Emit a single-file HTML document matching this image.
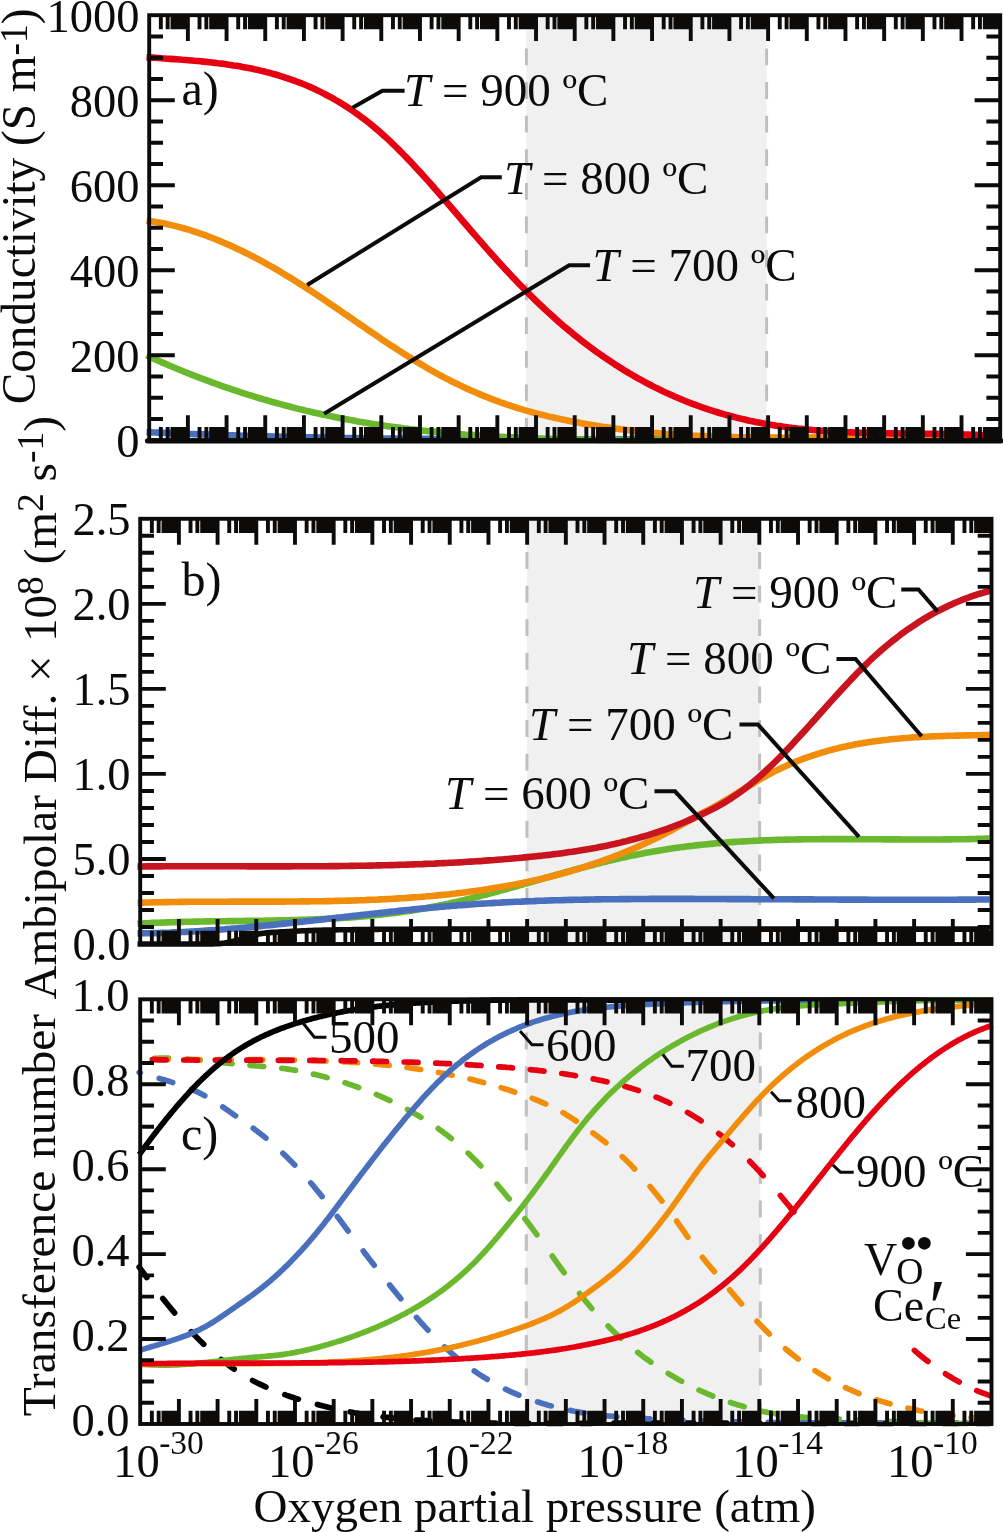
<!DOCTYPE html><html><head><meta charset="utf-8"><title>Figure</title><style>html,body{margin:0;padding:0;background:#fff}svg{display:block}text{font-family:"Liberation Serif", serif;fill:#0d0b09}</style></head><body>
<svg width="1003" height="1532" viewBox="0 0 1003 1532">
<rect width="1003" height="1532" fill="#fff"/>
<rect x="526.4" y="15.2" width="240.20000000000005" height="425.0" fill="#f0f0f0"/>
<line x1="526.4" y1="48.5" x2="526.4" y2="440.2" stroke="#bfbfbf" stroke-width="3" stroke-dasharray="16.8 16.8"/>
<line x1="766.6" y1="48.5" x2="766.6" y2="440.2" stroke="#bfbfbf" stroke-width="3" stroke-dasharray="16.8 16.8"/>
<path d="M146.5,432.1 L149.5,432.2 L152.5,432.4 L155.5,432.5 L158.5,432.6 L161.5,432.8 L164.5,432.9 L167.5,433.0 L170.5,433.1 L173.5,433.3 L176.5,433.4 L179.5,433.5 L182.5,433.6 L185.5,433.7 L188.5,433.8 L191.5,434.0 L194.5,434.1 L197.5,434.2 L200.5,434.3 L203.5,434.4 L206.5,434.5 L209.5,434.6 L212.5,434.7 L215.5,434.8 L218.5,434.9 L221.5,435.0 L224.5,435.1 L227.5,435.2 L230.5,435.3 L233.5,435.4 L236.5,435.5 L239.5,435.6 L242.5,435.7 L245.5,435.7 L248.5,435.8 L251.5,435.9 L254.5,436.0 L257.5,436.1 L260.5,436.2 L263.5,436.2 L266.5,436.3 L269.5,436.4 L272.5,436.5 L275.5,436.6 L278.5,436.6 L281.5,436.7 L284.5,436.8 L287.5,436.8 L290.5,436.9 L293.5,437.0 L296.5,437.0 L299.5,437.1 L302.5,437.2 L305.5,437.2 L308.5,437.3 L311.5,437.4 L314.5,437.4 L317.5,437.5 L320.5,437.5 L323.5,437.6 L326.5,437.6 L329.5,437.7 L332.5,437.8 L335.5,437.8 L338.5,437.9 L341.5,437.9 L344.5,438.0 L347.5,438.0 L350.5,438.1 L353.5,438.1 L356.5,438.1 L359.5,438.2 L362.5,438.2 L365.5,438.3 L368.5,438.3 L371.5,438.4 L374.5,438.4 L377.5,438.4 L380.5,438.5 L383.5,438.5 L386.5,438.5 L389.5,438.6 L392.5,438.6 L395.5,438.6 L398.5,438.7 L401.5,438.7 L404.5,438.7 L407.5,438.8 L410.5,438.8 L413.5,438.8 L416.5,438.8 L419.5,438.9 L422.5,438.9 L425.5,438.9 L428.5,438.9 L431.5,439.0 L434.5,439.0 L437.5,439.0 L440.5,439.0 L443.5,439.1 L446.5,439.1 L449.5,439.1 L452.5,439.1 L455.5,439.1 L458.5,439.1 L461.5,439.2 L464.5,439.2 L467.5,439.2 L470.5,439.2 L473.5,439.2 L476.5,439.2 L479.5,439.2 L482.5,439.2 L485.5,439.3 L488.5,439.3 L491.5,439.3 L494.5,439.3 L497.5,439.3 L500.5,439.3 L503.5,439.3 L506.5,439.3 L509.5,439.3 L512.5,439.3 L515.5,439.3 L518.5,439.3 L521.5,439.3 L524.5,439.3 L527.5,439.3 L530.5,439.3 L533.5,439.3 L536.5,439.3 L539.5,439.3 L542.5,439.3 L545.5,439.3 L548.5,439.3 L551.5,439.3 L554.5,439.3 L557.5,439.3 L560.5,439.3 L563.5,439.3 L566.5,439.3 L569.5,439.3 L572.5,439.3 L575.5,439.3 L578.5,439.3 L581.5,439.3 L584.5,439.3 L587.5,439.3 L590.5,439.3 L593.5,439.3 L596.5,439.3 L599.5,439.3 L602.5,439.2 L605.5,439.2 L608.5,439.2 L611.5,439.2 L614.5,439.2 L617.5,439.2 L620.5,439.2 L623.5,439.2 L626.5,439.2 L629.5,439.2 L632.5,439.2 L635.5,439.1 L638.5,439.1 L641.5,439.1 L644.5,439.1 L647.5,439.1 L650.5,439.1 L653.5,439.1 L656.5,439.1 L659.5,439.1 L662.5,439.0 L665.5,439.0 L668.5,439.0 L671.5,439.0 L674.5,439.0 L677.5,439.0 L680.5,439.0 L683.5,439.0 L686.5,438.9 L689.5,438.9 L692.5,438.9 L695.5,438.9 L698.5,438.9 L701.5,438.9 L704.5,438.9 L707.5,438.8 L710.5,438.8 L713.5,438.8 L716.5,438.8 L719.5,438.8 L722.5,438.8 L725.5,438.8 L728.5,438.8 L731.5,438.7 L734.5,438.7 L737.5,438.7 L740.5,438.7 L743.5,438.7 L746.5,438.7 L749.5,438.7 L752.5,438.7 L755.5,438.7 L758.5,438.6 L761.5,438.6 L764.5,438.6 L767.5,438.6 L770.5,438.6 L773.5,438.6 L776.5,438.6 L779.5,438.6 L782.5,438.6 L785.5,438.5 L788.5,438.5 L791.5,438.5 L794.5,438.5 L797.5,438.5 L800.5,438.5 L803.5,438.5 L806.5,438.5 L809.5,438.5 L812.5,438.5 L815.5,438.5 L818.5,438.5 L821.5,438.5 L824.5,438.4 L827.5,438.4 L830.5,438.4 L833.5,438.4 L836.5,438.4 L839.5,438.4 L842.5,438.4 L845.5,438.4 L848.5,438.4 L851.5,438.4 L854.5,438.4 L857.5,438.4 L860.5,438.4 L863.5,438.4 L866.5,438.4 L869.5,438.4 L872.5,438.4 L875.5,438.4 L878.5,438.4 L881.5,438.4 L884.5,438.4 L887.5,438.4 L890.5,438.4 L893.5,438.4 L896.5,438.4 L899.5,438.4 L902.5,438.4 L905.5,438.4 L908.5,438.5 L911.5,438.5 L914.5,438.5 L917.5,438.5 L920.5,438.5 L923.5,438.5 L926.5,438.5 L929.5,438.5 L932.5,438.5 L935.5,438.5 L938.5,438.6 L941.5,438.6 L944.5,438.6 L947.5,438.6 L950.5,438.6 L953.5,438.6 L956.5,438.7 L959.5,438.7 L962.5,438.7 L965.5,438.7 L968.5,438.7 L971.5,438.8 L974.5,438.8 L977.5,438.8 L980.5,438.8 L983.5,438.9 L986.5,438.9 L989.5,438.9 L992.5,438.9 L995.5,439.0 L998.5,439.0" fill="none" stroke="#4a70bd" stroke-width="6.6" stroke-linejoin="round" />
<path d="M146.5,355.3 L149.5,356.7 L152.5,358.1 L155.5,359.4 L158.5,360.8 L161.5,362.1 L164.5,363.4 L167.5,364.7 L170.5,366.0 L173.5,367.2 L176.5,368.5 L179.5,369.7 L182.5,371.0 L185.5,372.2 L188.5,373.4 L191.5,374.6 L194.5,375.8 L197.5,376.9 L200.5,378.1 L203.5,379.2 L206.5,380.3 L209.5,381.4 L212.5,382.6 L215.5,383.6 L218.5,384.7 L221.5,385.8 L224.5,386.8 L227.5,387.9 L230.5,388.9 L233.5,389.9 L236.5,390.9 L239.5,391.9 L242.5,392.9 L245.5,393.8 L248.5,394.8 L251.5,395.7 L254.5,396.7 L257.5,397.6 L260.5,398.5 L263.5,399.4 L266.5,400.2 L269.5,401.1 L272.5,402.0 L275.5,402.8 L278.5,403.6 L281.5,404.4 L284.5,405.3 L287.5,406.0 L290.5,406.8 L293.5,407.6 L296.5,408.4 L299.5,409.1 L302.5,409.8 L305.5,410.6 L308.5,411.3 L311.5,412.0 L314.5,412.7 L317.5,413.3 L320.5,414.0 L323.5,414.7 L326.5,415.3 L329.5,415.9 L332.5,416.6 L335.5,417.2 L338.5,417.8 L341.5,418.4 L344.5,419.0 L347.5,419.5 L350.5,420.1 L353.5,420.6 L356.5,421.2 L359.5,421.7 L362.5,422.2 L365.5,422.7 L368.5,423.2 L371.5,423.7 L374.5,424.2 L377.5,424.6 L380.5,425.1 L383.5,425.5 L386.5,426.0 L389.5,426.4 L392.5,426.8 L395.5,427.2 L398.5,427.6 L401.5,428.0 L404.5,428.4 L407.5,428.8 L410.5,429.2 L413.5,429.5 L416.5,429.9 L419.5,430.2 L422.5,430.6 L425.5,430.9 L428.5,431.2 L431.5,431.5 L434.5,431.8 L437.5,432.1 L440.5,432.4 L443.5,432.7 L446.5,433.0 L449.5,433.2 L452.5,433.5 L455.5,433.7 L458.5,434.0 L461.5,434.2 L464.5,434.5 L467.5,434.7 L470.5,434.9 L473.5,435.1 L476.5,435.3 L479.5,435.5 L482.5,435.7 L485.5,435.9 L488.5,436.1 L491.5,436.3 L494.5,436.5 L497.5,436.6 L500.5,436.8 L503.5,437.0 L506.5,437.1 L509.5,437.3 L512.5,437.4 L515.5,437.5 L518.5,437.7 L521.5,437.8 L524.5,437.9 L527.5,438.1 L530.5,438.2 L533.5,438.3 L536.5,438.4 L539.5,438.5 L542.5,438.6 L545.5,438.7 L548.5,438.8 L551.5,438.9 L554.5,439.0 L557.5,439.1 L560.5,439.2 L563.5,439.2 L566.5,439.3 L569.5,439.4 L572.5,439.4 L575.5,439.5 L578.5,439.6 L581.5,439.6 L584.5,439.7 L587.5,439.7 L590.5,439.8 L593.5,439.8 L596.5,439.8 L599.5,439.9 L602.5,439.9 L605.5,439.9 L608.5,440.0 L611.5,440.0 L614.5,440.0 L617.5,440.0 L620.5,440.0 L623.5,440.1 L626.5,440.1 L629.5,440.1 L632.5,440.1 L635.5,440.1 L638.5,440.1 L641.5,440.1 L644.5,440.1 L647.5,440.1 L650.5,440.1 L653.5,440.1 L656.5,440.0 L659.5,440.0 L662.5,440.0 L665.5,440.0 L668.5,440.0 L671.5,440.0 L674.5,439.9 L677.5,439.9 L680.5,439.9 L683.5,439.9 L686.5,439.8 L689.5,439.8 L692.5,439.8 L695.5,439.7 L698.5,439.7 L701.5,439.7 L704.5,439.6 L707.5,439.6 L710.5,439.6 L713.5,439.5 L716.5,439.5 L719.5,439.4 L722.5,439.4 L725.5,439.3 L728.5,439.3 L731.5,439.3 L734.5,439.2 L737.5,439.2 L740.5,439.1 L743.5,439.1 L746.5,439.0 L749.5,439.0 L752.5,438.9 L755.5,438.9 L758.5,438.8 L761.5,438.8 L764.5,438.7 L767.5,438.7 L770.5,438.6 L773.5,438.6 L776.5,438.5 L779.5,438.5 L782.5,438.4 L785.5,438.4 L788.5,438.3 L791.5,438.3 L794.5,438.3 L797.5,438.2 L800.5,438.2 L803.5,438.1 L806.5,438.1 L809.5,438.0 L812.5,438.0 L815.5,437.9 L818.5,437.9 L821.5,437.9 L824.5,437.8 L827.5,437.8 L830.5,437.7 L833.5,437.7 L836.5,437.7 L839.5,437.6 L842.5,437.6 L845.5,437.6 L848.5,437.5 L851.5,437.5 L854.5,437.5 L857.5,437.5 L860.5,437.4 L863.5,437.4 L866.5,437.4 L869.5,437.4 L872.5,437.4 L875.5,437.4 L878.5,437.3 L881.5,437.3 L884.5,437.3 L887.5,437.3 L890.5,437.3 L893.5,437.3 L896.5,437.3 L899.5,437.3 L902.5,437.3 L905.5,437.3 L908.5,437.3 L911.5,437.3 L914.5,437.4 L917.5,437.4 L920.5,437.4 L923.5,437.4 L926.5,437.5 L929.5,437.5 L932.5,437.5 L935.5,437.5 L938.5,437.6 L941.5,437.6 L944.5,437.7 L947.5,437.7 L950.5,437.8 L953.5,437.8 L956.5,437.9 L959.5,437.9 L962.5,438.0 L965.5,438.1 L968.5,438.1 L971.5,438.2 L974.5,438.3 L977.5,438.4 L980.5,438.5 L983.5,438.5 L986.5,438.6 L989.5,438.7 L992.5,438.8 L995.5,438.9 L998.5,439.1" fill="none" stroke="#6ab82d" stroke-width="6.6" stroke-linejoin="round" />
<path d="M146.5,220.7 L149.5,221.1 L152.5,221.5 L155.5,222.0 L158.5,222.5 L161.5,223.0 L164.5,223.6 L167.5,224.2 L170.5,224.9 L173.5,225.6 L176.5,226.4 L179.5,227.1 L182.5,228.0 L185.5,228.8 L188.5,229.7 L191.5,230.6 L194.5,231.6 L197.5,232.6 L200.5,233.6 L203.5,234.6 L206.5,235.7 L209.5,236.9 L212.5,238.0 L215.5,239.2 L218.5,240.4 L221.5,241.7 L224.5,243.0 L227.5,244.3 L230.5,245.6 L233.5,247.0 L236.5,248.4 L239.5,249.8 L242.5,251.2 L245.5,252.7 L248.5,254.2 L251.5,255.8 L254.5,257.3 L257.5,258.9 L260.5,260.5 L263.5,262.2 L266.5,263.8 L269.5,265.5 L272.5,267.2 L275.5,268.9 L278.5,270.7 L281.5,272.5 L284.5,274.3 L287.5,276.1 L290.5,277.9 L293.5,279.8 L296.5,281.7 L299.5,283.6 L302.5,285.5 L305.5,287.4 L308.5,289.4 L311.5,291.3 L314.5,293.3 L317.5,295.3 L320.5,297.3 L323.5,299.3 L326.5,301.4 L329.5,303.4 L332.5,305.4 L335.5,307.5 L338.5,309.5 L341.5,311.6 L344.5,313.7 L347.5,315.7 L350.5,317.8 L353.5,319.9 L356.5,321.9 L359.5,324.0 L362.5,326.1 L365.5,328.1 L368.5,330.2 L371.5,332.3 L374.5,334.3 L377.5,336.3 L380.5,338.4 L383.5,340.4 L386.5,342.4 L389.5,344.4 L392.5,346.4 L395.5,348.3 L398.5,350.3 L401.5,352.2 L404.5,354.1 L407.5,356.0 L410.5,357.9 L413.5,359.8 L416.5,361.6 L419.5,363.4 L422.5,365.2 L425.5,367.0 L428.5,368.8 L431.5,370.5 L434.5,372.2 L437.5,373.8 L440.5,375.5 L443.5,377.1 L446.5,378.6 L449.5,380.2 L452.5,381.7 L455.5,383.2 L458.5,384.6 L461.5,386.1 L464.5,387.5 L467.5,388.9 L470.5,390.2 L473.5,391.5 L476.5,392.8 L479.5,394.1 L482.5,395.4 L485.5,396.6 L488.5,397.8 L491.5,398.9 L494.5,400.1 L497.5,401.2 L500.5,402.3 L503.5,403.3 L506.5,404.4 L509.5,405.4 L512.5,406.4 L515.5,407.3 L518.5,408.3 L521.5,409.2 L524.5,410.1 L527.5,410.9 L530.5,411.8 L533.5,412.6 L536.5,413.4 L539.5,414.2 L542.5,414.9 L545.5,415.6 L548.5,416.4 L551.5,417.1 L554.5,417.7 L557.5,418.4 L560.5,419.1 L563.5,419.7 L566.5,420.3 L569.5,420.9 L572.5,421.5 L575.5,422.1 L578.5,422.6 L581.5,423.2 L584.5,423.7 L587.5,424.2 L590.5,424.7 L593.5,425.2 L596.5,425.7 L599.5,426.2 L602.5,426.7 L605.5,427.1 L608.5,427.5 L611.5,428.0 L614.5,428.4 L617.5,428.8 L620.5,429.2 L623.5,429.5 L626.5,429.9 L629.5,430.3 L632.5,430.6 L635.5,431.0 L638.5,431.3 L641.5,431.6 L644.5,431.9 L647.5,432.2 L650.5,432.5 L653.5,432.8 L656.5,433.0 L659.5,433.3 L662.5,433.5 L665.5,433.8 L668.5,434.0 L671.5,434.2 L674.5,434.4 L677.5,434.6 L680.5,434.8 L683.5,435.0 L686.5,435.2 L689.5,435.4 L692.5,435.6 L695.5,435.7 L698.5,435.9 L701.5,436.0 L704.5,436.1 L707.5,436.3 L710.5,436.4 L713.5,436.5 L716.5,436.6 L719.5,436.7 L722.5,436.8 L725.5,436.9 L728.5,437.0 L731.5,437.1 L734.5,437.1 L737.5,437.2 L740.5,437.3 L743.5,437.3 L746.5,437.4 L749.5,437.4 L752.5,437.5 L755.5,437.5 L758.5,437.5 L761.5,437.6 L764.5,437.6 L767.5,437.6 L770.5,437.6 L773.5,437.6 L776.5,437.6 L779.5,437.7 L782.5,437.7 L785.5,437.7 L788.5,437.6 L791.5,437.6 L794.5,437.6 L797.5,437.6 L800.5,437.6 L803.5,437.6 L806.5,437.6 L809.5,437.6 L812.5,437.5 L815.5,437.5 L818.5,437.5 L821.5,437.4 L824.5,437.4 L827.5,437.4 L830.5,437.4 L833.5,437.3 L836.5,437.3 L839.5,437.3 L842.5,437.2 L845.5,437.2 L848.5,437.2 L851.5,437.1 L854.5,437.1 L857.5,437.1 L860.5,437.0 L863.5,437.0 L866.5,437.0 L869.5,436.9 L872.5,436.9 L875.5,436.9 L878.5,436.9 L881.5,436.8 L884.5,436.8 L887.5,436.8 L890.5,436.8 L893.5,436.8 L896.5,436.7 L899.5,436.7 L902.5,436.7 L905.5,436.7 L908.5,436.7 L911.5,436.7 L914.5,436.7 L917.5,436.7 L920.5,436.7 L923.5,436.7 L926.5,436.7 L929.5,436.8 L932.5,436.8 L935.5,436.8 L938.5,436.9 L941.5,436.9 L944.5,436.9 L947.5,437.0 L950.5,437.0 L953.5,437.1 L956.5,437.1 L959.5,437.2 L962.5,437.3 L965.5,437.4 L968.5,437.4 L971.5,437.5 L974.5,437.6 L977.5,437.7 L980.5,437.8 L983.5,438.0 L986.5,438.1 L989.5,438.2 L992.5,438.3 L995.5,438.5 L998.5,438.6" fill="none" stroke="#f18d0a" stroke-width="6.6" stroke-linejoin="round" />
<path d="M146.5,57.2 L149.5,57.4 L152.5,57.6 L155.5,57.8 L158.5,58.0 L161.5,58.3 L164.5,58.5 L167.5,58.7 L170.5,58.9 L173.5,59.1 L176.5,59.3 L179.5,59.5 L182.5,59.8 L185.5,60.0 L188.5,60.2 L191.5,60.5 L194.5,60.8 L197.5,61.0 L200.5,61.3 L203.5,61.6 L206.5,61.9 L209.5,62.2 L212.5,62.6 L215.5,62.9 L218.5,63.3 L221.5,63.6 L224.5,64.0 L227.5,64.5 L230.5,64.9 L233.5,65.4 L236.5,65.8 L239.5,66.3 L242.5,66.9 L245.5,67.4 L248.5,68.0 L251.5,68.6 L254.5,69.2 L257.5,69.9 L260.5,70.6 L263.5,71.3 L266.5,72.1 L269.5,72.8 L272.5,73.7 L275.5,74.5 L278.5,75.4 L281.5,76.3 L284.5,77.3 L287.5,78.3 L290.5,79.3 L293.5,80.4 L296.5,81.5 L299.5,82.6 L302.5,83.8 L305.5,85.0 L308.5,86.3 L311.5,87.6 L314.5,89.0 L317.5,90.4 L320.5,91.9 L323.5,93.4 L326.5,95.0 L329.5,96.6 L332.5,98.2 L335.5,100.0 L338.5,101.7 L341.5,103.5 L344.5,105.4 L347.5,107.3 L350.5,109.3 L353.5,111.4 L356.5,113.5 L359.5,115.6 L362.5,117.9 L365.5,120.2 L368.5,122.5 L371.5,124.9 L374.5,127.4 L377.5,129.9 L380.5,132.5 L383.5,135.2 L386.5,137.9 L389.5,140.7 L392.5,143.6 L395.5,146.5 L398.5,149.4 L401.5,152.5 L404.5,155.5 L407.5,158.6 L410.5,161.8 L413.5,165.0 L416.5,168.2 L419.5,171.5 L422.5,174.8 L425.5,178.1 L428.5,181.4 L431.5,184.8 L434.5,188.2 L437.5,191.7 L440.5,195.1 L443.5,198.6 L446.5,202.0 L449.5,205.5 L452.5,209.0 L455.5,212.5 L458.5,216.0 L461.5,219.5 L464.5,223.0 L467.5,226.5 L470.5,230.0 L473.5,233.5 L476.5,236.9 L479.5,240.4 L482.5,243.8 L485.5,247.2 L488.5,250.6 L491.5,254.0 L494.5,257.3 L497.5,260.7 L500.5,264.0 L503.5,267.2 L506.5,270.5 L509.5,273.7 L512.5,276.9 L515.5,280.1 L518.5,283.2 L521.5,286.3 L524.5,289.3 L527.5,292.4 L530.5,295.4 L533.5,298.3 L536.5,301.3 L539.5,304.2 L542.5,307.0 L545.5,309.8 L548.5,312.6 L551.5,315.3 L554.5,318.0 L557.5,320.7 L560.5,323.3 L563.5,325.9 L566.5,328.4 L569.5,330.9 L572.5,333.4 L575.5,335.8 L578.5,338.2 L581.5,340.6 L584.5,342.9 L587.5,345.2 L590.5,347.4 L593.5,349.6 L596.5,351.8 L599.5,353.9 L602.5,356.0 L605.5,358.1 L608.5,360.1 L611.5,362.1 L614.5,364.1 L617.5,366.0 L620.5,367.9 L623.5,369.8 L626.5,371.6 L629.5,373.4 L632.5,375.1 L635.5,376.9 L638.5,378.6 L641.5,380.2 L644.5,381.9 L647.5,383.5 L650.5,385.0 L653.5,386.6 L656.5,388.1 L659.5,389.5 L662.5,391.0 L665.5,392.4 L668.5,393.8 L671.5,395.1 L674.5,396.5 L677.5,397.8 L680.5,399.0 L683.5,400.3 L686.5,401.5 L689.5,402.7 L692.5,403.8 L695.5,404.9 L698.5,406.0 L701.5,407.1 L704.5,408.1 L707.5,409.2 L710.5,410.1 L713.5,411.1 L716.5,412.0 L719.5,413.0 L722.5,413.8 L725.5,414.7 L728.5,415.5 L731.5,416.3 L734.5,417.1 L737.5,417.9 L740.5,418.6 L743.5,419.3 L746.5,420.0 L749.5,420.7 L752.5,421.3 L755.5,421.9 L758.5,422.5 L761.5,423.1 L764.5,423.7 L767.5,424.2 L770.5,424.7 L773.5,425.2 L776.5,425.7 L779.5,426.1 L782.5,426.6 L785.5,427.0 L788.5,427.4 L791.5,427.8 L794.5,428.1 L797.5,428.5 L800.5,428.8 L803.5,429.1 L806.5,429.4 L809.5,429.7 L812.5,430.0 L815.5,430.3 L818.5,430.5 L821.5,430.7 L824.5,430.9 L827.5,431.2 L830.5,431.3 L833.5,431.5 L836.5,431.7 L839.5,431.9 L842.5,432.0 L845.5,432.2 L848.5,432.3 L851.5,432.4 L854.5,432.5 L857.5,432.6 L860.5,432.7 L863.5,432.8 L866.5,432.9 L869.5,433.0 L872.5,433.0 L875.5,433.1 L878.5,433.2 L881.5,433.2 L884.5,433.3 L887.5,433.3 L890.5,433.4 L893.5,433.4 L896.5,433.4 L899.5,433.5 L902.5,433.5 L905.5,433.5 L908.5,433.6 L911.5,433.6 L914.5,433.6 L917.5,433.6 L920.5,433.7 L923.5,433.7 L926.5,433.7 L929.5,433.8 L932.5,433.8 L935.5,433.8 L938.5,433.9 L941.5,433.9 L944.5,434.0 L947.5,434.0 L950.5,434.1 L953.5,434.2 L956.5,434.2 L959.5,434.3 L962.5,434.4 L965.5,434.5 L968.5,434.6 L971.5,434.7 L974.5,434.8 L977.5,434.9 L980.5,435.0 L983.5,435.2 L986.5,435.3 L989.5,435.5 L992.5,435.6 L995.5,435.8 L998.5,436.0" fill="none" stroke="#e50012" stroke-width="6.6" stroke-linejoin="round" />
<path d="M352.5,107.8 L382.4,90.7 H404.6 M307.2,285 L481.1,177.2 H501.8 M324.1,413.8 L569.2,265.2 H590" fill="none" stroke="#0d0b09" stroke-width="4"/>
<line x1="147.5" y1="440.8" x2="1001" y2="440.8" stroke="#0d0b09" stroke-width="5.2" stroke-linecap="round"/>
<path d="M160.84,15.2v14.1 M160.84,440.2v-13.2 M167.66,15.2v14.1 M167.66,440.2v-13.2 M172.49,15.2v14.1 M172.49,440.2v-13.2 M176.24,15.2v14.1 M176.24,440.2v-13.2 M179.30,15.2v14.1 M179.30,440.2v-13.2 M181.89,15.2v14.1 M181.89,440.2v-13.2 M184.13,15.2v14.1 M184.13,440.2v-13.2 M186.11,15.2v14.1 M186.11,440.2v-13.2 M187.88,15.2v25.9 M187.88,440.2v-25.0 M199.53,15.2v14.1 M199.53,440.2v-13.2 M206.34,15.2v14.1 M206.34,440.2v-13.2 M211.17,15.2v14.1 M211.17,440.2v-13.2 M214.92,15.2v14.1 M214.92,440.2v-13.2 M217.98,15.2v14.1 M217.98,440.2v-13.2 M220.57,15.2v14.1 M220.57,440.2v-13.2 M222.81,15.2v14.1 M222.81,440.2v-13.2 M224.79,15.2v14.1 M224.79,440.2v-13.2 M226.56,15.2v25.9 M226.56,440.2v-25.0 M238.21,15.2v14.1 M238.21,440.2v-13.2 M245.02,15.2v14.1 M245.02,440.2v-13.2 M249.85,15.2v14.1 M249.85,440.2v-13.2 M253.60,15.2v14.1 M253.60,440.2v-13.2 M256.66,15.2v14.1 M256.66,440.2v-13.2 M259.25,15.2v14.1 M259.25,440.2v-13.2 M261.50,15.2v14.1 M261.50,440.2v-13.2 M263.48,15.2v14.1 M263.48,440.2v-13.2 M265.25,15.2v25.9 M265.25,440.2v-25.0 M276.89,15.2v14.1 M276.89,440.2v-13.2 M283.70,15.2v14.1 M283.70,440.2v-13.2 M288.53,15.2v14.1 M288.53,440.2v-13.2 M292.28,15.2v14.1 M292.28,440.2v-13.2 M295.35,15.2v14.1 M295.35,440.2v-13.2 M297.94,15.2v14.1 M297.94,440.2v-13.2 M300.18,15.2v14.1 M300.18,440.2v-13.2 M302.16,15.2v14.1 M302.16,440.2v-13.2 M303.93,15.2v25.9 M303.93,440.2v-25.0 M315.57,15.2v14.1 M315.57,440.2v-13.2 M322.38,15.2v14.1 M322.38,440.2v-13.2 M327.22,15.2v14.1 M327.22,440.2v-13.2 M330.96,15.2v14.1 M330.96,440.2v-13.2 M334.03,15.2v14.1 M334.03,440.2v-13.2 M336.62,15.2v14.1 M336.62,440.2v-13.2 M338.86,15.2v14.1 M338.86,440.2v-13.2 M340.84,15.2v14.1 M340.84,440.2v-13.2 M342.61,15.2v25.9 M342.61,440.2v-25.0 M354.25,15.2v14.1 M354.25,440.2v-13.2 M361.07,15.2v14.1 M361.07,440.2v-13.2 M365.90,15.2v14.1 M365.90,440.2v-13.2 M369.65,15.2v14.1 M369.65,440.2v-13.2 M372.71,15.2v14.1 M372.71,440.2v-13.2 M375.30,15.2v14.1 M375.30,440.2v-13.2 M377.54,15.2v14.1 M377.54,440.2v-13.2 M379.52,15.2v14.1 M379.52,440.2v-13.2 M381.29,15.2v25.9 M381.29,440.2v-25.0 M392.94,15.2v14.1 M392.94,440.2v-13.2 M399.75,15.2v14.1 M399.75,440.2v-13.2 M404.58,15.2v14.1 M404.58,440.2v-13.2 M408.33,15.2v14.1 M408.33,440.2v-13.2 M411.39,15.2v14.1 M411.39,440.2v-13.2 M413.98,15.2v14.1 M413.98,440.2v-13.2 M416.22,15.2v14.1 M416.22,440.2v-13.2 M418.20,15.2v14.1 M418.20,440.2v-13.2 M419.97,15.2v25.9 M419.97,440.2v-25.0 M431.62,15.2v14.1 M431.62,440.2v-13.2 M438.43,15.2v14.1 M438.43,440.2v-13.2 M443.26,15.2v14.1 M443.26,440.2v-13.2 M447.01,15.2v14.1 M447.01,440.2v-13.2 M450.07,15.2v14.1 M450.07,440.2v-13.2 M452.66,15.2v14.1 M452.66,440.2v-13.2 M454.91,15.2v14.1 M454.91,440.2v-13.2 M456.88,15.2v14.1 M456.88,440.2v-13.2 M458.65,15.2v25.9 M458.65,440.2v-25.0 M470.30,15.2v14.1 M470.30,440.2v-13.2 M477.11,15.2v14.1 M477.11,440.2v-13.2 M481.94,15.2v14.1 M481.94,440.2v-13.2 M485.69,15.2v14.1 M485.69,440.2v-13.2 M488.75,15.2v14.1 M488.75,440.2v-13.2 M491.34,15.2v14.1 M491.34,440.2v-13.2 M493.59,15.2v14.1 M493.59,440.2v-13.2 M495.57,15.2v14.1 M495.57,440.2v-13.2 M497.34,15.2v25.9 M497.34,440.2v-25.0 M508.98,15.2v14.1 M508.98,440.2v-13.2 M515.79,15.2v14.1 M515.79,440.2v-13.2 M520.63,15.2v14.1 M520.63,440.2v-13.2 M524.37,15.2v14.1 M524.37,440.2v-13.2 M527.44,15.2v14.1 M527.44,440.2v-13.2 M530.03,15.2v14.1 M530.03,440.2v-13.2 M532.27,15.2v14.1 M532.27,440.2v-13.2 M534.25,15.2v14.1 M534.25,440.2v-13.2 M536.02,15.2v25.9 M536.02,440.2v-25.0 M547.66,15.2v14.1 M547.66,440.2v-13.2 M554.47,15.2v14.1 M554.47,440.2v-13.2 M559.31,15.2v14.1 M559.31,440.2v-13.2 M563.06,15.2v14.1 M563.06,440.2v-13.2 M566.12,15.2v14.1 M566.12,440.2v-13.2 M568.71,15.2v14.1 M568.71,440.2v-13.2 M570.95,15.2v14.1 M570.95,440.2v-13.2 M572.93,15.2v14.1 M572.93,440.2v-13.2 M574.70,15.2v25.9 M574.70,440.2v-25.0 M586.34,15.2v14.1 M586.34,440.2v-13.2 M593.16,15.2v14.1 M593.16,440.2v-13.2 M597.99,15.2v14.1 M597.99,440.2v-13.2 M601.74,15.2v14.1 M601.74,440.2v-13.2 M604.80,15.2v14.1 M604.80,440.2v-13.2 M607.39,15.2v14.1 M607.39,440.2v-13.2 M609.63,15.2v14.1 M609.63,440.2v-13.2 M611.61,15.2v14.1 M611.61,440.2v-13.2 M613.38,15.2v25.9 M613.38,440.2v-25.0 M625.03,15.2v14.1 M625.03,440.2v-13.2 M631.84,15.2v14.1 M631.84,440.2v-13.2 M636.67,15.2v14.1 M636.67,440.2v-13.2 M640.42,15.2v14.1 M640.42,440.2v-13.2 M643.48,15.2v14.1 M643.48,440.2v-13.2 M646.07,15.2v14.1 M646.07,440.2v-13.2 M648.31,15.2v14.1 M648.31,440.2v-13.2 M650.29,15.2v14.1 M650.29,440.2v-13.2 M652.06,15.2v25.9 M652.06,440.2v-25.0 M663.71,15.2v14.1 M663.71,440.2v-13.2 M670.52,15.2v14.1 M670.52,440.2v-13.2 M675.35,15.2v14.1 M675.35,440.2v-13.2 M679.10,15.2v14.1 M679.10,440.2v-13.2 M682.16,15.2v14.1 M682.16,440.2v-13.2 M684.75,15.2v14.1 M684.75,440.2v-13.2 M687.00,15.2v14.1 M687.00,440.2v-13.2 M688.98,15.2v14.1 M688.98,440.2v-13.2 M690.75,15.2v25.9 M690.75,440.2v-25.0 M702.39,15.2v14.1 M702.39,440.2v-13.2 M709.20,15.2v14.1 M709.20,440.2v-13.2 M714.03,15.2v14.1 M714.03,440.2v-13.2 M717.78,15.2v14.1 M717.78,440.2v-13.2 M720.85,15.2v14.1 M720.85,440.2v-13.2 M723.44,15.2v14.1 M723.44,440.2v-13.2 M725.68,15.2v14.1 M725.68,440.2v-13.2 M727.66,15.2v14.1 M727.66,440.2v-13.2 M729.43,15.2v25.9 M729.43,440.2v-25.0 M741.07,15.2v14.1 M741.07,440.2v-13.2 M747.88,15.2v14.1 M747.88,440.2v-13.2 M752.72,15.2v14.1 M752.72,440.2v-13.2 M756.46,15.2v14.1 M756.46,440.2v-13.2 M759.53,15.2v14.1 M759.53,440.2v-13.2 M762.12,15.2v14.1 M762.12,440.2v-13.2 M764.36,15.2v14.1 M764.36,440.2v-13.2 M766.34,15.2v14.1 M766.34,440.2v-13.2 M768.11,15.2v25.9 M768.11,440.2v-25.0 M779.75,15.2v14.1 M779.75,440.2v-13.2 M786.57,15.2v14.1 M786.57,440.2v-13.2 M791.40,15.2v14.1 M791.40,440.2v-13.2 M795.15,15.2v14.1 M795.15,440.2v-13.2 M798.21,15.2v14.1 M798.21,440.2v-13.2 M800.80,15.2v14.1 M800.80,440.2v-13.2 M803.04,15.2v14.1 M803.04,440.2v-13.2 M805.02,15.2v14.1 M805.02,440.2v-13.2 M806.79,15.2v25.9 M806.79,440.2v-25.0 M818.44,15.2v14.1 M818.44,440.2v-13.2 M825.25,15.2v14.1 M825.25,440.2v-13.2 M830.08,15.2v14.1 M830.08,440.2v-13.2 M833.83,15.2v14.1 M833.83,440.2v-13.2 M836.89,15.2v14.1 M836.89,440.2v-13.2 M839.48,15.2v14.1 M839.48,440.2v-13.2 M841.72,15.2v14.1 M841.72,440.2v-13.2 M843.70,15.2v14.1 M843.70,440.2v-13.2 M845.47,15.2v25.9 M845.47,440.2v-25.0 M857.12,15.2v14.1 M857.12,440.2v-13.2 M863.93,15.2v14.1 M863.93,440.2v-13.2 M868.76,15.2v14.1 M868.76,440.2v-13.2 M872.51,15.2v14.1 M872.51,440.2v-13.2 M875.57,15.2v14.1 M875.57,440.2v-13.2 M878.16,15.2v14.1 M878.16,440.2v-13.2 M880.41,15.2v14.1 M880.41,440.2v-13.2 M882.38,15.2v14.1 M882.38,440.2v-13.2 M884.15,15.2v25.9 M884.15,440.2v-25.0 M895.80,15.2v14.1 M895.80,440.2v-13.2 M902.61,15.2v14.1 M902.61,440.2v-13.2 M907.44,15.2v14.1 M907.44,440.2v-13.2 M911.19,15.2v14.1 M911.19,440.2v-13.2 M914.25,15.2v14.1 M914.25,440.2v-13.2 M916.84,15.2v14.1 M916.84,440.2v-13.2 M919.09,15.2v14.1 M919.09,440.2v-13.2 M921.07,15.2v14.1 M921.07,440.2v-13.2 M922.84,15.2v25.9 M922.84,440.2v-25.0 M934.48,15.2v14.1 M934.48,440.2v-13.2 M941.29,15.2v14.1 M941.29,440.2v-13.2 M946.13,15.2v14.1 M946.13,440.2v-13.2 M949.87,15.2v14.1 M949.87,440.2v-13.2 M952.94,15.2v14.1 M952.94,440.2v-13.2 M955.53,15.2v14.1 M955.53,440.2v-13.2 M957.77,15.2v14.1 M957.77,440.2v-13.2 M959.75,15.2v14.1 M959.75,440.2v-13.2 M961.52,15.2v25.9 M961.52,440.2v-25.0 M973.16,15.2v14.1 M973.16,440.2v-13.2 M979.97,15.2v14.1 M979.97,440.2v-13.2 M984.81,15.2v14.1 M984.81,440.2v-13.2 M988.56,15.2v14.1 M988.56,440.2v-13.2 M991.62,15.2v14.1 M991.62,440.2v-13.2 M994.21,15.2v14.1 M994.21,440.2v-13.2 M996.45,15.2v14.1 M996.45,440.2v-13.2 M998.43,15.2v14.1 M998.43,440.2v-13.2 M149.2,36.45h13.799999999999999 M1000.2,36.45h-13.799999999999999 M149.2,57.70h13.799999999999999 M1000.2,57.70h-13.799999999999999 M149.2,78.95h13.799999999999999 M1000.2,78.95h-13.799999999999999 M149.2,100.20h25.6 M1000.2,100.20h-25.6 M149.2,121.45h13.799999999999999 M1000.2,121.45h-13.799999999999999 M149.2,142.70h13.799999999999999 M1000.2,142.70h-13.799999999999999 M149.2,163.95h13.799999999999999 M1000.2,163.95h-13.799999999999999 M149.2,185.20h25.6 M1000.2,185.20h-25.6 M149.2,206.45h13.799999999999999 M1000.2,206.45h-13.799999999999999 M149.2,227.70h13.799999999999999 M1000.2,227.70h-13.799999999999999 M149.2,248.95h13.799999999999999 M1000.2,248.95h-13.799999999999999 M149.2,270.20h25.6 M1000.2,270.20h-25.6 M149.2,291.45h13.799999999999999 M1000.2,291.45h-13.799999999999999 M149.2,312.70h13.799999999999999 M1000.2,312.70h-13.799999999999999 M149.2,333.95h13.799999999999999 M1000.2,333.95h-13.799999999999999 M149.2,355.20h25.6 M1000.2,355.20h-25.6 M149.2,376.45h13.799999999999999 M1000.2,376.45h-13.799999999999999 M149.2,397.70h13.799999999999999 M1000.2,397.70h-13.799999999999999 M149.2,418.95h13.799999999999999 M1000.2,418.95h-13.799999999999999" fill="none" stroke="#0d0b09" stroke-width="3.9"/>
<rect x="149.2" y="15.2" width="851.0" height="425.0" fill="none" stroke="#0d0b09" stroke-width="3.9"/>
<text x="404.0" y="106.1" font-size="47" text-anchor="start"  style=""><tspan font-style="italic">T</tspan> = 900 ºC</text>
<text x="504.0" y="193.5" font-size="47" text-anchor="start"  style=""><tspan font-style="italic">T</tspan> = 800 ºC</text>
<text x="592.4" y="280.6" font-size="47" text-anchor="start"  style=""><tspan font-style="italic">T</tspan> = 700 ºC</text>
<text x="181.5" y="105.2" font-size="48" text-anchor="start"  style="">a)</text>
<text x="139.5" y="31.7" font-size="46.5" text-anchor="end"  style="">1000</text>
<text x="139.5" y="116.7" font-size="46.5" text-anchor="end"  style="">800</text>
<text x="139.5" y="201.7" font-size="46.5" text-anchor="end"  style="">600</text>
<text x="139.5" y="286.7" font-size="46.5" text-anchor="end"  style="">400</text>
<text x="139.5" y="371.7" font-size="46.5" text-anchor="end"  style="">200</text>
<text x="139.5" y="456.7" font-size="46.5" text-anchor="end"  style="">0</text>
<text transform="translate(34.7,404.2) rotate(-90) scale(1,1.05)" font-size="47.2">Conductivity (S m<tspan font-size="37.5" dy="-7.5">-1</tspan><tspan dy="7.5">)</tspan></text>
<rect x="527.0" y="518.8" width="232.60000000000002" height="425.20000000000005" fill="#f0f0f0"/>
<line x1="527.0" y1="552.0999999999999" x2="527.0" y2="944.0" stroke="#bfbfbf" stroke-width="3" stroke-dasharray="16.8 16.8"/>
<line x1="759.6" y1="552.0999999999999" x2="759.6" y2="944.0" stroke="#bfbfbf" stroke-width="3" stroke-dasharray="16.8 16.8"/>
<path d="M137.5,923.7 L140.5,923.5 L143.5,923.4 L146.5,923.2 L149.5,923.1 L152.5,922.9 L155.5,922.8 L158.5,922.7 L161.5,922.6 L164.5,922.5 L167.5,922.4 L170.5,922.3 L173.5,922.2 L176.5,922.1 L179.5,922.0 L182.5,921.9 L185.5,921.8 L188.5,921.8 L191.5,921.7 L194.5,921.6 L197.5,921.6 L200.5,921.5 L203.5,921.5 L206.5,921.4 L209.5,921.4 L212.5,921.3 L215.5,921.3 L218.5,921.3 L221.5,921.2 L224.5,921.2 L227.5,921.1 L230.5,921.1 L233.5,921.1 L236.5,921.0 L239.5,921.0 L242.5,921.0 L245.5,920.9 L248.5,920.9 L251.5,920.8 L254.5,920.8 L257.5,920.8 L260.5,920.7 L263.5,920.7 L266.5,920.6 L269.5,920.6 L272.5,920.5 L275.5,920.5 L278.5,920.4 L281.5,920.4 L284.5,920.3 L287.5,920.2 L290.5,920.1 L293.5,920.1 L296.5,920.0 L299.5,919.9 L302.5,919.8 L305.5,919.7 L308.5,919.6 L311.5,919.5 L314.5,919.4 L317.5,919.2 L320.5,919.1 L323.5,919.0 L326.5,918.8 L329.5,918.7 L332.5,918.5 L335.5,918.3 L338.5,918.2 L341.5,918.0 L344.5,917.8 L347.5,917.6 L350.5,917.4 L353.5,917.1 L356.5,916.9 L359.5,916.7 L362.5,916.4 L365.5,916.1 L368.5,915.9 L371.5,915.6 L374.5,915.3 L377.5,915.0 L380.5,914.6 L383.5,914.3 L386.5,914.0 L389.5,913.6 L392.5,913.2 L395.5,912.9 L398.5,912.5 L401.5,912.0 L404.5,911.6 L407.5,911.2 L410.5,910.7 L413.5,910.2 L416.5,909.8 L419.5,909.3 L422.5,908.7 L425.5,908.2 L428.5,907.7 L431.5,907.1 L434.5,906.5 L437.5,905.9 L440.5,905.3 L443.5,904.7 L446.5,904.1 L449.5,903.4 L452.5,902.7 L455.5,902.1 L458.5,901.4 L461.5,900.7 L464.5,900.0 L467.5,899.2 L470.5,898.5 L473.5,897.7 L476.5,897.0 L479.5,896.2 L482.5,895.4 L485.5,894.7 L488.5,893.9 L491.5,893.1 L494.5,892.3 L497.5,891.5 L500.5,890.6 L503.5,889.8 L506.5,889.0 L509.5,888.1 L512.5,887.3 L515.5,886.5 L518.5,885.6 L521.5,884.8 L524.5,883.9 L527.5,883.1 L530.5,882.2 L533.5,881.4 L536.5,880.5 L539.5,879.6 L542.5,878.8 L545.5,877.9 L548.5,877.1 L551.5,876.2 L554.5,875.4 L557.5,874.5 L560.5,873.7 L563.5,872.8 L566.5,872.0 L569.5,871.2 L572.5,870.3 L575.5,869.5 L578.5,868.7 L581.5,867.9 L584.5,867.1 L587.5,866.3 L590.5,865.5 L593.5,864.7 L596.5,863.9 L599.5,863.2 L602.5,862.4 L605.5,861.7 L608.5,860.9 L611.5,860.2 L614.5,859.5 L617.5,858.8 L620.5,858.1 L623.5,857.4 L626.5,856.8 L629.5,856.1 L632.5,855.5 L635.5,854.9 L638.5,854.3 L641.5,853.7 L644.5,853.1 L647.5,852.5 L650.5,852.0 L653.5,851.4 L656.5,850.9 L659.5,850.4 L662.5,849.9 L665.5,849.5 L668.5,849.0 L671.5,848.5 L674.5,848.1 L677.5,847.7 L680.5,847.3 L683.5,846.9 L686.5,846.5 L689.5,846.1 L692.5,845.8 L695.5,845.4 L698.5,845.1 L701.5,844.8 L704.5,844.5 L707.5,844.2 L710.5,843.9 L713.5,843.6 L716.5,843.3 L719.5,843.1 L722.5,842.8 L725.5,842.6 L728.5,842.3 L731.5,842.1 L734.5,841.9 L737.5,841.7 L740.5,841.5 L743.5,841.4 L746.5,841.2 L749.5,841.0 L752.5,840.9 L755.5,840.7 L758.5,840.6 L761.5,840.4 L764.5,840.3 L767.5,840.2 L770.5,840.1 L773.5,840.0 L776.5,839.9 L779.5,839.8 L782.5,839.7 L785.5,839.6 L788.5,839.6 L791.5,839.5 L794.5,839.5 L797.5,839.4 L800.5,839.4 L803.5,839.3 L806.5,839.3 L809.5,839.2 L812.5,839.2 L815.5,839.2 L818.5,839.2 L821.5,839.1 L824.5,839.1 L827.5,839.1 L830.5,839.1 L833.5,839.1 L836.5,839.1 L839.5,839.1 L842.5,839.1 L845.5,839.1 L848.5,839.1 L851.5,839.1 L854.5,839.2 L857.5,839.2 L860.5,839.2 L863.5,839.2 L866.5,839.2 L869.5,839.2 L872.5,839.3 L875.5,839.3 L878.5,839.3 L881.5,839.3 L884.5,839.4 L887.5,839.4 L890.5,839.4 L893.5,839.4 L896.5,839.4 L899.5,839.4 L902.5,839.5 L905.5,839.5 L908.5,839.5 L911.5,839.5 L914.5,839.5 L917.5,839.5 L920.5,839.5 L923.5,839.5 L926.5,839.5 L929.5,839.5 L932.5,839.5 L935.5,839.5 L938.5,839.5 L941.5,839.5 L944.5,839.4 L947.5,839.4 L950.5,839.4 L953.5,839.3 L956.5,839.3 L959.5,839.3 L962.5,839.2 L965.5,839.2 L968.5,839.1 L971.5,839.0 L974.5,839.0 L977.5,838.9 L980.5,838.8 L983.5,838.7 L986.5,838.6 L989.5,838.5" fill="none" stroke="#6ab82d" stroke-width="6.6" stroke-linejoin="round" />
<path d="M137.5,933.4 L140.5,933.4 L143.5,933.3 L146.5,933.3 L149.5,933.2 L152.5,933.1 L155.5,933.1 L158.5,933.0 L161.5,932.9 L164.5,932.8 L167.5,932.7 L170.5,932.6 L173.5,932.4 L176.5,932.3 L179.5,932.2 L182.5,932.0 L185.5,931.9 L188.5,931.7 L191.5,931.5 L194.5,931.4 L197.5,931.2 L200.5,931.0 L203.5,930.8 L206.5,930.6 L209.5,930.4 L212.5,930.2 L215.5,930.0 L218.5,929.7 L221.5,929.5 L224.5,929.3 L227.5,929.0 L230.5,928.8 L233.5,928.5 L236.5,928.3 L239.5,928.0 L242.5,927.7 L245.5,927.5 L248.5,927.2 L251.5,926.9 L254.5,926.6 L257.5,926.4 L260.5,926.1 L263.5,925.8 L266.5,925.5 L269.5,925.2 L272.5,924.9 L275.5,924.6 L278.5,924.2 L281.5,923.9 L284.5,923.6 L287.5,923.3 L290.5,923.0 L293.5,922.6 L296.5,922.3 L299.5,922.0 L302.5,921.7 L305.5,921.3 L308.5,921.0 L311.5,920.7 L314.5,920.3 L317.5,920.0 L320.5,919.7 L323.5,919.3 L326.5,919.0 L329.5,918.6 L332.5,918.3 L335.5,917.9 L338.5,917.6 L341.5,917.3 L344.5,916.9 L347.5,916.6 L350.5,916.2 L353.5,915.9 L356.5,915.6 L359.5,915.2 L362.5,914.9 L365.5,914.5 L368.5,914.2 L371.5,913.9 L374.5,913.5 L377.5,913.2 L380.5,912.9 L383.5,912.6 L386.5,912.2 L389.5,911.9 L392.5,911.6 L395.5,911.3 L398.5,910.9 L401.5,910.6 L404.5,910.3 L407.5,910.0 L410.5,909.7 L413.5,909.4 L416.5,909.1 L419.5,908.8 L422.5,908.5 L425.5,908.2 L428.5,907.9 L431.5,907.7 L434.5,907.4 L437.5,907.1 L440.5,906.8 L443.5,906.6 L446.5,906.3 L449.5,906.1 L452.5,905.8 L455.5,905.6 L458.5,905.3 L461.5,905.1 L464.5,904.9 L467.5,904.7 L470.5,904.5 L473.5,904.2 L476.5,904.0 L479.5,903.8 L482.5,903.6 L485.5,903.5 L488.5,903.3 L491.5,903.1 L494.5,902.9 L497.5,902.7 L500.5,902.6 L503.5,902.4 L506.5,902.3 L509.5,902.1 L512.5,902.0 L515.5,901.8 L518.5,901.7 L521.5,901.6 L524.5,901.4 L527.5,901.3 L530.5,901.2 L533.5,901.1 L536.5,900.9 L539.5,900.8 L542.5,900.7 L545.5,900.6 L548.5,900.5 L551.5,900.4 L554.5,900.3 L557.5,900.3 L560.5,900.2 L563.5,900.1 L566.5,900.0 L569.5,899.9 L572.5,899.9 L575.5,899.8 L578.5,899.7 L581.5,899.7 L584.5,899.6 L587.5,899.6 L590.5,899.5 L593.5,899.5 L596.5,899.4 L599.5,899.4 L602.5,899.3 L605.5,899.3 L608.5,899.2 L611.5,899.2 L614.5,899.2 L617.5,899.2 L620.5,899.1 L623.5,899.1 L626.5,899.1 L629.5,899.1 L632.5,899.0 L635.5,899.0 L638.5,899.0 L641.5,899.0 L644.5,899.0 L647.5,899.0 L650.5,898.9 L653.5,898.9 L656.5,898.9 L659.5,898.9 L662.5,898.9 L665.5,898.9 L668.5,898.9 L671.5,898.9 L674.5,898.9 L677.5,898.9 L680.5,898.9 L683.5,898.9 L686.5,898.9 L689.5,898.9 L692.5,898.9 L695.5,899.0 L698.5,899.0 L701.5,899.0 L704.5,899.0 L707.5,899.0 L710.5,899.0 L713.5,899.0 L716.5,899.0 L719.5,899.0 L722.5,899.0 L725.5,899.0 L728.5,899.1 L731.5,899.1 L734.5,899.1 L737.5,899.1 L740.5,899.1 L743.5,899.1 L746.5,899.1 L749.5,899.1 L752.5,899.2 L755.5,899.2 L758.5,899.2 L761.5,899.2 L764.5,899.2 L767.5,899.2 L770.5,899.2 L773.5,899.3 L776.5,899.3 L779.5,899.3 L782.5,899.3 L785.5,899.3 L788.5,899.3 L791.5,899.3 L794.5,899.4 L797.5,899.4 L800.5,899.4 L803.5,899.4 L806.5,899.4 L809.5,899.4 L812.5,899.4 L815.5,899.5 L818.5,899.5 L821.5,899.5 L824.5,899.5 L827.5,899.5 L830.5,899.5 L833.5,899.5 L836.5,899.5 L839.5,899.6 L842.5,899.6 L845.5,899.6 L848.5,899.6 L851.5,899.6 L854.5,899.6 L857.5,899.6 L860.5,899.6 L863.5,899.6 L866.5,899.6 L869.5,899.7 L872.5,899.7 L875.5,899.7 L878.5,899.7 L881.5,899.7 L884.5,899.7 L887.5,899.7 L890.5,899.7 L893.5,899.7 L896.5,899.7 L899.5,899.7 L902.5,899.7 L905.5,899.7 L908.5,899.7 L911.5,899.7 L914.5,899.7 L917.5,899.7 L920.5,899.7 L923.5,899.7 L926.5,899.7 L929.5,899.7 L932.5,899.7 L935.5,899.7 L938.5,899.7 L941.5,899.7 L944.5,899.7 L947.5,899.7 L950.5,899.7 L953.5,899.7 L956.5,899.7 L959.5,899.6 L962.5,899.6 L965.5,899.6 L968.5,899.6 L971.5,899.6 L974.5,899.6 L977.5,899.5 L980.5,899.5 L983.5,899.5 L986.5,899.5 L989.5,899.5" fill="none" stroke="#4a70bd" stroke-width="6.6" stroke-linejoin="round" />
<path d="M137.5,944.0 L140.5,944.0 L143.5,944.0 L146.5,944.0 L149.5,944.0 L152.5,944.0 L155.5,944.0 L158.5,944.0 L161.5,944.0 L164.5,944.0 L167.5,944.0 L170.5,944.0 L173.5,944.0 L176.5,944.0 L179.5,944.0 L182.5,944.0 L185.5,944.0 L188.5,944.0 L191.5,944.0 L194.5,944.0 L197.5,944.0 L200.5,944.0 L203.5,944.0 L206.5,944.0 L209.5,944.0 L212.5,943.9 L215.5,943.8 L218.5,943.6 L221.5,943.4 L224.5,943.0 L227.5,942.5 L230.5,942.0 L233.5,941.3 L236.5,940.6 L239.5,939.8 L242.5,938.8 L245.5,937.8 L248.5,936.9 L251.5,936.0 L254.5,935.1 L257.5,934.2 L260.5,933.6 L263.5,933.2 L266.5,932.9 L269.5,932.6 L272.5,932.4 L275.5,932.2 L278.5,932.0 L281.5,931.8 L284.5,931.7 L287.5,931.5 L290.5,931.4 L293.5,931.2 L296.5,931.1 L299.5,931.0 L302.5,930.8 L305.5,930.7 L308.5,930.6 L311.5,930.5 L314.5,930.4 L317.5,930.3 L320.5,930.2 L323.5,930.1 L326.5,930.1 L329.5,930.0 L332.5,930.0 L335.5,929.9 L338.5,929.8 L341.5,929.8 L344.5,929.8 L347.5,929.7 L350.5,929.7 L353.5,929.6 L356.5,929.6 L359.5,929.6 L362.5,929.5 L365.5,929.5 L368.5,929.5 L371.5,929.4 L374.5,929.4 L377.5,929.4 L380.5,929.3 L383.5,929.3 L386.5,929.3 L389.5,929.3 L392.5,929.2 L395.5,929.2 L398.5,929.2 L401.5,929.2 L404.5,929.2 L407.5,929.2 L410.5,929.2 L413.5,929.2 L416.5,929.1 L419.5,929.1 L422.5,929.1 L425.5,929.1 L428.5,929.1 L431.5,929.1 L434.5,929.1 L437.5,929.1 L440.5,929.1 L443.5,929.1 L446.5,929.1 L449.5,929.1 L452.5,929.1 L455.5,929.1 L458.5,929.1 L461.5,929.1 L464.5,929.1 L467.5,929.1 L470.5,929.1 L473.5,929.1 L476.5,929.1 L479.5,929.1 L482.5,929.1 L485.5,929.1 L488.5,929.1 L491.5,929.1 L494.5,929.1 L497.5,929.1 L500.5,929.1 L503.5,929.1 L506.5,929.1 L509.5,929.1 L512.5,929.1 L515.5,929.1 L518.5,929.1 L521.5,929.1 L524.5,929.1 L527.5,929.1 L530.5,929.1 L533.5,929.1 L536.5,929.1 L539.5,929.1 L542.5,929.1 L545.5,929.1 L548.5,929.1 L551.5,929.1 L554.5,929.1 L557.5,929.1 L560.5,929.1 L563.5,929.1 L566.5,929.1 L569.5,929.1 L572.5,929.1 L575.5,929.1 L578.5,929.1 L581.5,929.1 L584.5,929.1 L587.5,929.1 L590.5,929.1 L593.5,929.1 L596.5,929.1 L599.5,929.1 L602.5,929.1 L605.5,929.1 L608.5,929.1 L611.5,929.1 L614.5,929.1 L617.5,929.1 L620.5,929.1 L623.5,929.1 L626.5,929.1 L629.5,929.1 L632.5,929.1 L635.5,929.1 L638.5,929.1 L641.5,929.1 L644.5,929.1 L647.5,929.1 L650.5,929.1 L653.5,929.1 L656.5,929.1 L659.5,929.1 L662.5,929.1 L665.5,929.1 L668.5,929.1 L671.5,929.1 L674.5,929.1 L677.5,929.1 L680.5,929.1 L683.5,929.1 L686.5,929.1 L689.5,929.1 L692.5,929.1 L695.5,929.1 L698.5,929.1 L701.5,929.1 L704.5,929.1 L707.5,929.1 L710.5,929.1 L713.5,929.1 L716.5,929.1 L719.5,929.1 L722.5,929.1 L725.5,929.1 L728.5,929.1 L731.5,929.1 L734.5,929.1 L737.5,929.1 L740.5,929.1 L743.5,929.1 L746.5,929.1 L749.5,929.1 L752.5,929.1 L755.5,929.1 L758.5,929.1 L761.5,929.1 L764.5,929.1 L767.5,929.1 L770.5,929.1 L773.5,929.1 L776.5,929.1 L779.5,929.1 L782.5,929.1 L785.5,929.1 L788.5,929.1 L791.5,929.1 L794.5,929.1 L797.5,929.1 L800.5,929.1 L803.5,929.1 L806.5,929.1 L809.5,929.1 L812.5,929.1 L815.5,929.1 L818.5,929.1 L821.5,929.1 L824.5,929.1 L827.5,929.1 L830.5,929.1 L833.5,929.1 L836.5,929.1 L839.5,929.1 L842.5,929.1 L845.5,929.1 L848.5,929.1 L851.5,929.1 L854.5,929.1 L857.5,929.1 L860.5,929.1 L863.5,929.1 L866.5,929.1 L869.5,929.1 L872.5,929.1 L875.5,929.1 L878.5,929.1 L881.5,929.1 L884.5,929.1 L887.5,929.1 L890.5,929.1 L893.5,929.1 L896.5,929.1 L899.5,929.1 L902.5,929.1 L905.5,929.1 L908.5,929.1 L911.5,929.1 L914.5,929.1 L917.5,929.1 L920.5,929.1 L923.5,929.1 L926.5,929.1 L929.5,929.1 L932.5,929.1 L935.5,929.1 L938.5,929.1 L941.5,929.1 L944.5,929.1 L947.5,929.1 L950.5,929.1 L953.5,929.1 L956.5,929.1 L959.5,929.1 L962.5,929.1 L965.5,929.1 L968.5,929.1 L971.5,929.1 L974.5,929.1 L977.5,929.1 L980.5,929.1 L983.5,929.1 L986.5,929.1 L989.5,929.1" fill="none" stroke="#0d0b09" stroke-width="5.6" stroke-linejoin="round" />
<path d="M137.5,902.8 L140.5,902.7 L143.5,902.6 L146.5,902.5 L149.5,902.5 L152.5,902.4 L155.5,902.3 L158.5,902.3 L161.5,902.2 L164.5,902.1 L167.5,902.1 L170.5,902.0 L173.5,902.0 L176.5,902.0 L179.5,901.9 L182.5,901.9 L185.5,901.9 L188.5,901.8 L191.5,901.8 L194.5,901.8 L197.5,901.8 L200.5,901.7 L203.5,901.7 L206.5,901.7 L209.5,901.7 L212.5,901.7 L215.5,901.7 L218.5,901.7 L221.5,901.7 L224.5,901.7 L227.5,901.7 L230.5,901.6 L233.5,901.6 L236.5,901.6 L239.5,901.6 L242.5,901.6 L245.5,901.6 L248.5,901.6 L251.5,901.6 L254.5,901.6 L257.5,901.6 L260.5,901.6 L263.5,901.6 L266.5,901.6 L269.5,901.6 L272.5,901.6 L275.5,901.6 L278.5,901.6 L281.5,901.6 L284.5,901.6 L287.5,901.5 L290.5,901.5 L293.5,901.5 L296.5,901.5 L299.5,901.5 L302.5,901.4 L305.5,901.4 L308.5,901.4 L311.5,901.3 L314.5,901.3 L317.5,901.3 L320.5,901.2 L323.5,901.2 L326.5,901.1 L329.5,901.1 L332.5,901.0 L335.5,900.9 L338.5,900.9 L341.5,900.8 L344.5,900.7 L347.5,900.6 L350.5,900.6 L353.5,900.5 L356.5,900.4 L359.5,900.3 L362.5,900.2 L365.5,900.1 L368.5,899.9 L371.5,899.8 L374.5,899.7 L377.5,899.6 L380.5,899.4 L383.5,899.3 L386.5,899.1 L389.5,899.0 L392.5,898.8 L395.5,898.6 L398.5,898.4 L401.5,898.2 L404.5,898.1 L407.5,897.9 L410.5,897.6 L413.5,897.4 L416.5,897.2 L419.5,897.0 L422.5,896.7 L425.5,896.5 L428.5,896.2 L431.5,896.0 L434.5,895.7 L437.5,895.4 L440.5,895.1 L443.5,894.8 L446.5,894.5 L449.5,894.2 L452.5,893.8 L455.5,893.5 L458.5,893.1 L461.5,892.8 L464.5,892.4 L467.5,892.0 L470.5,891.6 L473.5,891.2 L476.5,890.8 L479.5,890.4 L482.5,890.0 L485.5,889.5 L488.5,889.1 L491.5,888.6 L494.5,888.1 L497.5,887.6 L500.5,887.1 L503.5,886.6 L506.5,886.1 L509.5,885.5 L512.5,885.0 L515.5,884.4 L518.5,883.8 L521.5,883.2 L524.5,882.6 L527.5,882.0 L530.5,881.3 L533.5,880.6 L536.5,880.0 L539.5,879.3 L542.5,878.6 L545.5,877.8 L548.5,877.1 L551.5,876.4 L554.5,875.6 L557.5,874.8 L560.5,874.0 L563.5,873.2 L566.5,872.3 L569.5,871.5 L572.5,870.6 L575.5,869.7 L578.5,868.8 L581.5,867.9 L584.5,866.9 L587.5,865.9 L590.5,864.9 L593.5,863.9 L596.5,862.9 L599.5,861.9 L602.5,860.8 L605.5,859.7 L608.5,858.6 L611.5,857.5 L614.5,856.3 L617.5,855.2 L620.5,854.0 L623.5,852.8 L626.5,851.5 L629.5,850.3 L632.5,849.0 L635.5,847.7 L638.5,846.4 L641.5,845.0 L644.5,843.7 L647.5,842.3 L650.5,840.9 L653.5,839.4 L656.5,838.0 L659.5,836.5 L662.5,835.0 L665.5,833.4 L668.5,831.9 L671.5,830.3 L674.5,828.7 L677.5,827.0 L680.5,825.4 L683.5,823.7 L686.5,822.0 L689.5,820.3 L692.5,818.5 L695.5,816.8 L698.5,815.1 L701.5,813.5 L704.5,811.9 L707.5,810.4 L710.5,808.8 L713.5,807.2 L716.5,805.5 L719.5,803.8 L722.5,802.1 L725.5,800.3 L728.5,798.5 L731.5,796.7 L734.5,794.8 L737.5,793.0 L740.5,791.1 L743.5,789.3 L746.5,787.4 L749.5,785.6 L752.5,783.8 L755.5,782.0 L758.5,780.2 L761.5,778.5 L764.5,776.8 L767.5,775.1 L770.5,773.5 L773.5,771.9 L776.5,770.4 L779.5,769.0 L782.5,767.5 L785.5,766.2 L788.5,764.8 L791.5,763.5 L794.5,762.3 L797.5,761.0 L800.5,759.9 L803.5,758.7 L806.5,757.6 L809.5,756.6 L812.5,755.5 L815.5,754.6 L818.5,753.6 L821.5,752.7 L824.5,751.8 L827.5,750.9 L830.5,750.1 L833.5,749.3 L836.5,748.6 L839.5,747.8 L842.5,747.1 L845.5,746.5 L848.5,745.8 L851.5,745.2 L854.5,744.6 L857.5,744.1 L860.5,743.5 L863.5,743.0 L866.5,742.5 L869.5,742.0 L872.5,741.6 L875.5,741.2 L878.5,740.8 L881.5,740.4 L884.5,740.0 L887.5,739.7 L890.5,739.3 L893.5,739.0 L896.5,738.7 L899.5,738.5 L902.5,738.2 L905.5,738.0 L908.5,737.8 L911.5,737.5 L914.5,737.3 L917.5,737.2 L920.5,737.0 L923.5,736.8 L926.5,736.7 L929.5,736.5 L932.5,736.4 L935.5,736.3 L938.5,736.2 L941.5,736.1 L944.5,736.0 L947.5,735.9 L950.5,735.8 L953.5,735.7 L956.5,735.6 L959.5,735.6 L962.5,735.5 L965.5,735.4 L968.5,735.4 L971.5,735.3 L974.5,735.2 L977.5,735.2 L980.5,735.1 L983.5,735.1 L986.5,735.0 L989.5,734.9 L992.5,734.9" fill="none" stroke="#f18d0a" stroke-width="6.6" stroke-linejoin="round" />
<path d="M137.5,866.5 L140.5,866.5 L143.5,866.5 L146.5,866.4 L149.5,866.4 L152.5,866.4 L155.5,866.4 L158.5,866.4 L161.5,866.4 L164.5,866.3 L167.5,866.3 L170.5,866.3 L173.5,866.3 L176.5,866.3 L179.5,866.3 L182.5,866.3 L185.5,866.3 L188.5,866.3 L191.5,866.3 L194.5,866.3 L197.5,866.3 L200.5,866.3 L203.5,866.3 L206.5,866.3 L209.5,866.3 L212.5,866.3 L215.5,866.3 L218.5,866.3 L221.5,866.3 L224.5,866.3 L227.5,866.3 L230.5,866.3 L233.5,866.3 L236.5,866.3 L239.5,866.3 L242.5,866.3 L245.5,866.3 L248.5,866.4 L251.5,866.4 L254.5,866.4 L257.5,866.4 L260.5,866.4 L263.5,866.4 L266.5,866.4 L269.5,866.4 L272.5,866.4 L275.5,866.4 L278.5,866.4 L281.5,866.4 L284.5,866.4 L287.5,866.4 L290.5,866.4 L293.5,866.3 L296.5,866.3 L299.5,866.3 L302.5,866.3 L305.5,866.3 L308.5,866.3 L311.5,866.3 L314.5,866.3 L317.5,866.2 L320.5,866.2 L323.5,866.2 L326.5,866.2 L329.5,866.1 L332.5,866.1 L335.5,866.1 L338.5,866.1 L341.5,866.0 L344.5,866.0 L347.5,866.0 L350.5,865.9 L353.5,865.9 L356.5,865.8 L359.5,865.8 L362.5,865.7 L365.5,865.7 L368.5,865.6 L371.5,865.6 L374.5,865.5 L377.5,865.4 L380.5,865.4 L383.5,865.3 L386.5,865.2 L389.5,865.1 L392.5,865.1 L395.5,865.0 L398.5,864.9 L401.5,864.8 L404.5,864.7 L407.5,864.6 L410.5,864.5 L413.5,864.4 L416.5,864.3 L419.5,864.2 L422.5,864.1 L425.5,863.9 L428.5,863.8 L431.5,863.7 L434.5,863.6 L437.5,863.4 L440.5,863.3 L443.5,863.1 L446.5,863.0 L449.5,862.8 L452.5,862.7 L455.5,862.5 L458.5,862.4 L461.5,862.2 L464.5,862.0 L467.5,861.8 L470.5,861.6 L473.5,861.5 L476.5,861.3 L479.5,861.1 L482.5,860.9 L485.5,860.6 L488.5,860.4 L491.5,860.2 L494.5,860.0 L497.5,859.7 L500.5,859.5 L503.5,859.3 L506.5,859.0 L509.5,858.8 L512.5,858.5 L515.5,858.2 L518.5,858.0 L521.5,857.7 L524.5,857.4 L527.5,857.1 L530.5,856.8 L533.5,856.5 L536.5,856.2 L539.5,855.9 L542.5,855.6 L545.5,855.2 L548.5,854.9 L551.5,854.5 L554.5,854.1 L557.5,853.8 L560.5,853.4 L563.5,853.0 L566.5,852.6 L569.5,852.1 L572.5,851.7 L575.5,851.2 L578.5,850.8 L581.5,850.3 L584.5,849.8 L587.5,849.3 L590.5,848.8 L593.5,848.2 L596.5,847.7 L599.5,847.1 L602.5,846.5 L605.5,845.9 L608.5,845.3 L611.5,844.6 L614.5,844.0 L617.5,843.3 L620.5,842.6 L623.5,841.8 L626.5,841.1 L629.5,840.3 L632.5,839.5 L635.5,838.7 L638.5,837.9 L641.5,837.0 L644.5,836.2 L647.5,835.3 L650.5,834.3 L653.5,833.4 L656.5,832.4 L659.5,831.4 L662.5,830.4 L665.5,829.3 L668.5,828.3 L671.5,827.2 L674.5,826.0 L677.5,824.9 L680.5,823.7 L683.5,822.5 L686.5,821.2 L689.5,819.9 L692.5,818.6 L695.5,817.3 L698.5,815.9 L701.5,814.5 L704.5,813.1 L707.5,811.6 L710.5,810.1 L713.5,808.6 L716.5,807.0 L719.5,805.3 L722.5,803.6 L725.5,801.8 L728.5,800.0 L731.5,798.1 L734.5,796.1 L737.5,794.0 L740.5,791.9 L743.5,789.7 L746.5,787.4 L749.5,785.0 L752.5,782.5 L755.5,780.0 L758.5,777.4 L761.5,774.7 L764.5,772.0 L767.5,769.2 L770.5,766.4 L773.5,763.5 L776.5,760.5 L779.5,757.5 L782.5,754.5 L785.5,751.4 L788.5,748.2 L791.5,745.1 L794.5,741.8 L797.5,738.6 L800.5,735.3 L803.5,732.0 L806.5,728.7 L809.5,725.4 L812.5,722.0 L815.5,718.7 L818.5,715.3 L821.5,712.0 L824.5,708.6 L827.5,705.2 L830.5,701.9 L833.5,698.6 L836.5,695.3 L839.5,692.0 L842.5,688.7 L845.5,685.5 L848.5,682.2 L851.5,679.1 L854.5,675.9 L857.5,672.8 L860.5,669.8 L863.5,666.8 L866.5,663.9 L869.5,661.0 L872.5,658.2 L875.5,655.4 L878.5,652.7 L881.5,650.1 L884.5,647.5 L887.5,645.0 L890.5,642.5 L893.5,640.1 L896.5,637.8 L899.5,635.5 L902.5,633.2 L905.5,631.1 L908.5,628.9 L911.5,626.9 L914.5,624.9 L917.5,622.9 L920.5,621.0 L923.5,619.2 L926.5,617.4 L929.5,615.6 L932.5,613.9 L935.5,612.3 L938.5,610.7 L941.5,609.2 L944.5,607.7 L947.5,606.2 L950.5,604.9 L953.5,603.5 L956.5,602.2 L959.5,601.0 L962.5,599.8 L965.5,598.6 L968.5,597.5 L971.5,596.4 L974.5,595.4 L977.5,594.4 L980.5,593.5 L983.5,592.6 L986.5,591.8 L989.5,590.9 L992.5,590.2" fill="none" stroke="#c8141e" stroke-width="6.6" stroke-linejoin="round" />
<path d="M901.3,589.4 H918.5 L937.5,611.4 M836.5,658.9 H855.5 L921.6,736.3 M739.5,724.6 H758 L859,836.9 M654.5,791.3 H675 L773.9,898.4" fill="none" stroke="#0d0b09" stroke-width="4"/>
<path d="M151.85,518.8v14.1 M151.85,944.0v-13.2 M158.66,518.8v14.1 M158.66,944.0v-13.2 M163.50,518.8v14.1 M163.50,944.0v-13.2 M167.25,518.8v14.1 M167.25,944.0v-13.2 M170.31,518.8v14.1 M170.31,944.0v-13.2 M172.90,518.8v14.1 M172.90,944.0v-13.2 M175.15,518.8v14.1 M175.15,944.0v-13.2 M177.12,518.8v14.1 M177.12,944.0v-13.2 M178.90,518.8v25.9 M178.90,944.0v-25.0 M190.54,518.8v14.1 M190.54,944.0v-13.2 M197.36,518.8v14.1 M197.36,944.0v-13.2 M202.19,518.8v14.1 M202.19,944.0v-13.2 M205.94,518.8v14.1 M205.94,944.0v-13.2 M209.01,518.8v14.1 M209.01,944.0v-13.2 M211.60,518.8v14.1 M211.60,944.0v-13.2 M213.84,518.8v14.1 M213.84,944.0v-13.2 M215.82,518.8v14.1 M215.82,944.0v-13.2 M217.59,518.8v25.9 M217.59,944.0v-25.0 M229.24,518.8v14.1 M229.24,944.0v-13.2 M236.05,518.8v14.1 M236.05,944.0v-13.2 M240.89,518.8v14.1 M240.89,944.0v-13.2 M244.64,518.8v14.1 M244.64,944.0v-13.2 M247.70,518.8v14.1 M247.70,944.0v-13.2 M250.29,518.8v14.1 M250.29,944.0v-13.2 M252.54,518.8v14.1 M252.54,944.0v-13.2 M254.52,518.8v14.1 M254.52,944.0v-13.2 M256.29,518.8v25.9 M256.29,944.0v-25.0 M267.93,518.8v14.1 M267.93,944.0v-13.2 M274.75,518.8v14.1 M274.75,944.0v-13.2 M279.58,518.8v14.1 M279.58,944.0v-13.2 M283.33,518.8v14.1 M283.33,944.0v-13.2 M286.40,518.8v14.1 M286.40,944.0v-13.2 M288.99,518.8v14.1 M288.99,944.0v-13.2 M291.23,518.8v14.1 M291.23,944.0v-13.2 M293.21,518.8v14.1 M293.21,944.0v-13.2 M294.98,518.8v25.9 M294.98,944.0v-25.0 M306.63,518.8v14.1 M306.63,944.0v-13.2 M313.44,518.8v14.1 M313.44,944.0v-13.2 M318.28,518.8v14.1 M318.28,944.0v-13.2 M322.03,518.8v14.1 M322.03,944.0v-13.2 M325.09,518.8v14.1 M325.09,944.0v-13.2 M327.68,518.8v14.1 M327.68,944.0v-13.2 M329.93,518.8v14.1 M329.93,944.0v-13.2 M331.91,518.8v14.1 M331.91,944.0v-13.2 M333.68,518.8v25.9 M333.68,944.0v-25.0 M345.33,518.8v14.1 M345.33,944.0v-13.2 M352.14,518.8v14.1 M352.14,944.0v-13.2 M356.97,518.8v14.1 M356.97,944.0v-13.2 M360.72,518.8v14.1 M360.72,944.0v-13.2 M363.79,518.8v14.1 M363.79,944.0v-13.2 M366.38,518.8v14.1 M366.38,944.0v-13.2 M368.62,518.8v14.1 M368.62,944.0v-13.2 M370.60,518.8v14.1 M370.60,944.0v-13.2 M372.37,518.8v25.9 M372.37,944.0v-25.0 M384.02,518.8v14.1 M384.02,944.0v-13.2 M390.84,518.8v14.1 M390.84,944.0v-13.2 M395.67,518.8v14.1 M395.67,944.0v-13.2 M399.42,518.8v14.1 M399.42,944.0v-13.2 M402.48,518.8v14.1 M402.48,944.0v-13.2 M405.07,518.8v14.1 M405.07,944.0v-13.2 M407.32,518.8v14.1 M407.32,944.0v-13.2 M409.30,518.8v14.1 M409.30,944.0v-13.2 M411.07,518.8v25.9 M411.07,944.0v-25.0 M422.72,518.8v14.1 M422.72,944.0v-13.2 M429.53,518.8v14.1 M429.53,944.0v-13.2 M434.37,518.8v14.1 M434.37,944.0v-13.2 M438.12,518.8v14.1 M438.12,944.0v-13.2 M441.18,518.8v14.1 M441.18,944.0v-13.2 M443.77,518.8v14.1 M443.77,944.0v-13.2 M446.01,518.8v14.1 M446.01,944.0v-13.2 M447.99,518.8v14.1 M447.99,944.0v-13.2 M449.76,518.8v25.9 M449.76,944.0v-25.0 M461.41,518.8v14.1 M461.41,944.0v-13.2 M468.23,518.8v14.1 M468.23,944.0v-13.2 M473.06,518.8v14.1 M473.06,944.0v-13.2 M476.81,518.8v14.1 M476.81,944.0v-13.2 M479.87,518.8v14.1 M479.87,944.0v-13.2 M482.47,518.8v14.1 M482.47,944.0v-13.2 M484.71,518.8v14.1 M484.71,944.0v-13.2 M486.69,518.8v14.1 M486.69,944.0v-13.2 M488.46,518.8v25.9 M488.46,944.0v-25.0 M500.11,518.8v14.1 M500.11,944.0v-13.2 M506.92,518.8v14.1 M506.92,944.0v-13.2 M511.76,518.8v14.1 M511.76,944.0v-13.2 M515.51,518.8v14.1 M515.51,944.0v-13.2 M518.57,518.8v14.1 M518.57,944.0v-13.2 M521.16,518.8v14.1 M521.16,944.0v-13.2 M523.40,518.8v14.1 M523.40,944.0v-13.2 M525.38,518.8v14.1 M525.38,944.0v-13.2 M527.15,518.8v25.9 M527.15,944.0v-25.0 M538.80,518.8v14.1 M538.80,944.0v-13.2 M545.62,518.8v14.1 M545.62,944.0v-13.2 M550.45,518.8v14.1 M550.45,944.0v-13.2 M554.20,518.8v14.1 M554.20,944.0v-13.2 M557.27,518.8v14.1 M557.27,944.0v-13.2 M559.86,518.8v14.1 M559.86,944.0v-13.2 M562.10,518.8v14.1 M562.10,944.0v-13.2 M564.08,518.8v14.1 M564.08,944.0v-13.2 M565.85,518.8v25.9 M565.85,944.0v-25.0 M577.50,518.8v14.1 M577.50,944.0v-13.2 M584.31,518.8v14.1 M584.31,944.0v-13.2 M589.15,518.8v14.1 M589.15,944.0v-13.2 M592.90,518.8v14.1 M592.90,944.0v-13.2 M595.96,518.8v14.1 M595.96,944.0v-13.2 M598.55,518.8v14.1 M598.55,944.0v-13.2 M600.80,518.8v14.1 M600.80,944.0v-13.2 M602.77,518.8v14.1 M602.77,944.0v-13.2 M604.55,518.8v25.9 M604.55,944.0v-25.0 M616.19,518.8v14.1 M616.19,944.0v-13.2 M623.01,518.8v14.1 M623.01,944.0v-13.2 M627.84,518.8v14.1 M627.84,944.0v-13.2 M631.59,518.8v14.1 M631.59,944.0v-13.2 M634.66,518.8v14.1 M634.66,944.0v-13.2 M637.25,518.8v14.1 M637.25,944.0v-13.2 M639.49,518.8v14.1 M639.49,944.0v-13.2 M641.47,518.8v14.1 M641.47,944.0v-13.2 M643.24,518.8v25.9 M643.24,944.0v-25.0 M654.89,518.8v14.1 M654.89,944.0v-13.2 M661.70,518.8v14.1 M661.70,944.0v-13.2 M666.54,518.8v14.1 M666.54,944.0v-13.2 M670.29,518.8v14.1 M670.29,944.0v-13.2 M673.35,518.8v14.1 M673.35,944.0v-13.2 M675.94,518.8v14.1 M675.94,944.0v-13.2 M678.19,518.8v14.1 M678.19,944.0v-13.2 M680.17,518.8v14.1 M680.17,944.0v-13.2 M681.94,518.8v25.9 M681.94,944.0v-25.0 M693.58,518.8v14.1 M693.58,944.0v-13.2 M700.40,518.8v14.1 M700.40,944.0v-13.2 M705.23,518.8v14.1 M705.23,944.0v-13.2 M708.98,518.8v14.1 M708.98,944.0v-13.2 M712.05,518.8v14.1 M712.05,944.0v-13.2 M714.64,518.8v14.1 M714.64,944.0v-13.2 M716.88,518.8v14.1 M716.88,944.0v-13.2 M718.86,518.8v14.1 M718.86,944.0v-13.2 M720.63,518.8v25.9 M720.63,944.0v-25.0 M732.28,518.8v14.1 M732.28,944.0v-13.2 M739.09,518.8v14.1 M739.09,944.0v-13.2 M743.93,518.8v14.1 M743.93,944.0v-13.2 M747.68,518.8v14.1 M747.68,944.0v-13.2 M750.74,518.8v14.1 M750.74,944.0v-13.2 M753.33,518.8v14.1 M753.33,944.0v-13.2 M755.58,518.8v14.1 M755.58,944.0v-13.2 M757.56,518.8v14.1 M757.56,944.0v-13.2 M759.33,518.8v25.9 M759.33,944.0v-25.0 M770.98,518.8v14.1 M770.98,944.0v-13.2 M777.79,518.8v14.1 M777.79,944.0v-13.2 M782.62,518.8v14.1 M782.62,944.0v-13.2 M786.37,518.8v14.1 M786.37,944.0v-13.2 M789.44,518.8v14.1 M789.44,944.0v-13.2 M792.03,518.8v14.1 M792.03,944.0v-13.2 M794.27,518.8v14.1 M794.27,944.0v-13.2 M796.25,518.8v14.1 M796.25,944.0v-13.2 M798.02,518.8v25.9 M798.02,944.0v-25.0 M809.67,518.8v14.1 M809.67,944.0v-13.2 M816.49,518.8v14.1 M816.49,944.0v-13.2 M821.32,518.8v14.1 M821.32,944.0v-13.2 M825.07,518.8v14.1 M825.07,944.0v-13.2 M828.13,518.8v14.1 M828.13,944.0v-13.2 M830.72,518.8v14.1 M830.72,944.0v-13.2 M832.97,518.8v14.1 M832.97,944.0v-13.2 M834.95,518.8v14.1 M834.95,944.0v-13.2 M836.72,518.8v25.9 M836.72,944.0v-25.0 M848.37,518.8v14.1 M848.37,944.0v-13.2 M855.18,518.8v14.1 M855.18,944.0v-13.2 M860.02,518.8v14.1 M860.02,944.0v-13.2 M863.77,518.8v14.1 M863.77,944.0v-13.2 M866.83,518.8v14.1 M866.83,944.0v-13.2 M869.42,518.8v14.1 M869.42,944.0v-13.2 M871.66,518.8v14.1 M871.66,944.0v-13.2 M873.64,518.8v14.1 M873.64,944.0v-13.2 M875.41,518.8v25.9 M875.41,944.0v-25.0 M887.06,518.8v14.1 M887.06,944.0v-13.2 M893.88,518.8v14.1 M893.88,944.0v-13.2 M898.71,518.8v14.1 M898.71,944.0v-13.2 M902.46,518.8v14.1 M902.46,944.0v-13.2 M905.52,518.8v14.1 M905.52,944.0v-13.2 M908.12,518.8v14.1 M908.12,944.0v-13.2 M910.36,518.8v14.1 M910.36,944.0v-13.2 M912.34,518.8v14.1 M912.34,944.0v-13.2 M914.11,518.8v25.9 M914.11,944.0v-25.0 M925.76,518.8v14.1 M925.76,944.0v-13.2 M932.57,518.8v14.1 M932.57,944.0v-13.2 M937.41,518.8v14.1 M937.41,944.0v-13.2 M941.16,518.8v14.1 M941.16,944.0v-13.2 M944.22,518.8v14.1 M944.22,944.0v-13.2 M946.81,518.8v14.1 M946.81,944.0v-13.2 M949.05,518.8v14.1 M949.05,944.0v-13.2 M951.03,518.8v14.1 M951.03,944.0v-13.2 M952.80,518.8v25.9 M952.80,944.0v-25.0 M964.45,518.8v14.1 M964.45,944.0v-13.2 M971.27,518.8v14.1 M971.27,944.0v-13.2 M976.10,518.8v14.1 M976.10,944.0v-13.2 M979.85,518.8v14.1 M979.85,944.0v-13.2 M982.92,518.8v14.1 M982.92,944.0v-13.2 M985.51,518.8v14.1 M985.51,944.0v-13.2 M987.75,518.8v14.1 M987.75,944.0v-13.2 M989.73,518.8v14.1 M989.73,944.0v-13.2 M140.2,535.81h13.799999999999999 M991.5,535.81h-13.799999999999999 M140.2,552.82h13.799999999999999 M991.5,552.82h-13.799999999999999 M140.2,569.82h13.799999999999999 M991.5,569.82h-13.799999999999999 M140.2,586.83h13.799999999999999 M991.5,586.83h-13.799999999999999 M140.2,603.84h25.6 M991.5,603.84h-25.6 M140.2,620.85h13.799999999999999 M991.5,620.85h-13.799999999999999 M140.2,637.86h13.799999999999999 M991.5,637.86h-13.799999999999999 M140.2,654.86h13.799999999999999 M991.5,654.86h-13.799999999999999 M140.2,671.87h13.799999999999999 M991.5,671.87h-13.799999999999999 M140.2,688.88h25.6 M991.5,688.88h-25.6 M140.2,705.89h13.799999999999999 M991.5,705.89h-13.799999999999999 M140.2,722.90h13.799999999999999 M991.5,722.90h-13.799999999999999 M140.2,739.90h13.799999999999999 M991.5,739.90h-13.799999999999999 M140.2,756.91h13.799999999999999 M991.5,756.91h-13.799999999999999 M140.2,773.92h25.6 M991.5,773.92h-25.6 M140.2,790.93h13.799999999999999 M991.5,790.93h-13.799999999999999 M140.2,807.94h13.799999999999999 M991.5,807.94h-13.799999999999999 M140.2,824.94h13.799999999999999 M991.5,824.94h-13.799999999999999 M140.2,841.95h13.799999999999999 M991.5,841.95h-13.799999999999999 M140.2,858.96h25.6 M991.5,858.96h-25.6 M140.2,875.97h13.799999999999999 M991.5,875.97h-13.799999999999999 M140.2,892.98h13.799999999999999 M991.5,892.98h-13.799999999999999 M140.2,909.98h13.799999999999999 M991.5,909.98h-13.799999999999999 M140.2,926.99h13.799999999999999 M991.5,926.99h-13.799999999999999" fill="none" stroke="#0d0b09" stroke-width="3.9"/>
<rect x="140.2" y="518.8" width="851.3" height="425.20000000000005" fill="none" stroke="#0d0b09" stroke-width="3.9"/>
<text x="693.0" y="607.9" font-size="47" text-anchor="start"  style=""><tspan font-style="italic">T</tspan> = 900 ºC</text>
<text x="627.0" y="674.0" font-size="47" text-anchor="start"  style=""><tspan font-style="italic">T</tspan> = 800 ºC</text>
<text x="529.0" y="739.9" font-size="47" text-anchor="start"  style=""><tspan font-style="italic">T</tspan> = 700 ºC</text>
<text x="445.0" y="809.4" font-size="47" text-anchor="start"  style=""><tspan font-style="italic">T</tspan> = 600 ºC</text>
<text x="181.5" y="596" font-size="48" text-anchor="start"  style="">b)</text>
<text x="130.5" y="534.8" font-size="46.5" text-anchor="end"  style="">2.5</text>
<text x="130.5" y="619.8399999999999" font-size="46.5" text-anchor="end"  style="">2.0</text>
<text x="130.5" y="704.88" font-size="46.5" text-anchor="end"  style="">1.5</text>
<text x="130.5" y="789.92" font-size="46.5" text-anchor="end"  style="">1.0</text>
<text x="130.5" y="874.96" font-size="46.5" text-anchor="end"  style="">5.0</text>
<text x="130.5" y="960.0" font-size="46.5" text-anchor="end"  style="">0.0</text>
<text transform="translate(56.4,999.6) rotate(-90)" font-size="47.2">Ambipolar Diff. × <tspan dx="1.5">10</tspan><tspan font-size="37.5" dy="-13.5">8</tspan><tspan dy="13.5"> (m</tspan><tspan font-size="37.5" dy="-13.5">2</tspan><tspan dy="13.5"> s</tspan><tspan font-size="37.5" dy="-13.5">-1</tspan><tspan dy="13.5">)</tspan></text>
<rect x="526.3" y="999.3" width="234.0" height="424.70000000000005" fill="#f0f0f0"/>
<line x1="526.3" y1="1032.6" x2="526.3" y2="1424.0" stroke="#bfbfbf" stroke-width="3" stroke-dasharray="16.8 16.8"/>
<line x1="760.3" y1="1032.6" x2="760.3" y2="1424.0" stroke="#bfbfbf" stroke-width="3" stroke-dasharray="16.8 16.8"/>
<path d="M139.2,1267.1 L140.3,1268.6 L141.4,1270.1 L142.4,1271.6 L143.5,1273.0 L144.6,1274.5 L145.7,1276.0 L146.8,1277.5 M162.8,1298.5 L164.5,1300.6 L166.2,1302.7 L167.9,1304.8 L169.6,1306.8 L171.2,1308.9 L172.9,1310.9 L174.6,1312.9 M191.4,1331.7 L193.1,1333.6 L194.9,1335.4 L196.6,1337.2 L198.4,1339.0 L200.1,1340.7 L201.9,1342.4 L203.7,1344.2 M221.2,1359.6 L223.1,1361.1 L224.9,1362.5 L226.8,1363.9 L228.6,1365.2 L230.5,1366.6 L232.3,1367.9 L234.2,1369.2 M252.6,1380.4 L254.5,1381.4 L256.4,1382.4 L258.3,1383.4 L260.2,1384.3 L262.1,1385.2 L264.0,1386.1 L265.9,1387.0 M284.8,1394.7 L286.7,1395.4 L288.6,1396.0 L290.6,1396.7 L292.5,1397.3 L294.5,1398.0 L296.4,1398.6 L298.4,1399.2 M317.4,1404.5 L319.3,1405.0 L321.3,1405.5 L323.3,1406.0 L325.2,1406.5 L327.2,1407.0 L329.1,1407.5 L331.1,1408.0 M350.2,1412.0 L352.1,1412.3 L354.1,1412.7 L356.1,1413.0 L358.0,1413.4 L360.0,1413.7 L362.0,1414.0 L363.9,1414.3 M383.1,1416.9 L385.0,1417.2 L387.0,1417.4 L389.0,1417.6 L391.0,1417.8 L392.9,1418.0 L394.9,1418.2 L396.9,1418.4 M416.0,1420.0 L418.0,1420.1 L420.0,1420.2 L422.0,1420.4 L423.9,1420.5 L425.9,1420.6 L427.9,1420.7 L429.8,1420.8 M449.0,1421.7 L451.0,1421.8 L453.0,1421.9 L454.9,1422.0 L456.9,1422.1 L458.9,1422.1 L460.9,1422.2 L462.8,1422.3 M482.0,1422.8 L484.0,1422.8 L486.0,1422.9 L487.9,1422.9 L489.9,1422.9 L491.9,1423.0 L493.9,1423.0 L495.8,1423.0 M515.0,1423.3 L517.0,1423.3 L519.0,1423.3 L520.9,1423.3 L522.9,1423.3 L524.9,1423.3 L526.9,1423.3 L528.8,1423.4 M548.0,1423.4 L550.0,1423.4 L552.0,1423.4 L553.9,1423.4 L555.9,1423.4 L557.9,1423.4 L559.9,1423.4 L561.8,1423.4 M581.0,1423.3 L583.0,1423.3 L585.0,1423.3 L586.9,1423.3 L588.9,1423.3 L590.9,1423.3 L592.9,1423.2 L594.8,1423.2 M614.0,1423.2 L616.0,1423.2 L618.0,1423.2 L619.9,1423.1 L621.9,1423.1 L623.9,1423.1 L625.9,1423.1 L627.8,1423.1 M647.0,1423.1 L649.0,1423.1 L651.0,1423.1 L652.9,1423.1 L654.9,1423.1 L656.9,1423.1 L658.9,1423.1 L660.8,1423.1 M680.0,1423.1 L682.0,1423.1 L684.0,1423.1 L685.9,1423.1 L687.9,1423.1 L689.9,1423.1 L691.9,1423.1 L693.8,1423.1 M713.0,1423.1 L715.0,1423.1 L717.0,1423.1 L718.9,1423.1 L720.9,1423.1 L722.9,1423.1 L724.9,1423.1 L726.8,1423.1 M746.0,1423.1 L748.0,1423.1 L750.0,1423.1 L751.9,1423.1 L753.9,1423.2 L755.9,1423.2 L757.9,1423.2 L759.8,1423.2 M779.0,1423.2 L781.0,1423.2 L783.0,1423.2 L784.9,1423.2 L786.9,1423.2 L788.9,1423.2 L790.9,1423.2 L792.8,1423.2 M812.0,1423.3 L814.0,1423.3 L816.0,1423.3 L817.9,1423.3 L819.9,1423.3 L821.9,1423.3 L823.9,1423.3 L825.8,1423.3 M845.0,1423.3 L847.0,1423.3 L849.0,1423.3 L850.9,1423.3 L852.9,1423.3 L854.9,1423.3 L856.9,1423.3 L858.8,1423.3 M878.0,1423.4 L880.0,1423.4 L882.0,1423.4 L883.9,1423.4 L885.9,1423.4 L887.9,1423.4 L889.9,1423.4 L891.8,1423.4 M911.0,1423.4 L913.0,1423.4 L915.0,1423.4 L916.9,1423.4 L918.9,1423.4 L920.9,1423.4 L922.9,1423.4 L924.8,1423.4 M944.0,1423.4 L946.0,1423.4 L948.0,1423.4 L949.9,1423.4 L951.9,1423.4 L953.9,1423.4 L955.9,1423.3 L957.8,1423.3 M977.0,1423.3 L978.8,1423.3 L980.6,1423.3 L982.5,1423.3 L984.3,1423.3 L986.1,1423.3 L987.9,1423.3 L989.7,1423.3" fill="none" stroke="#000" stroke-width="5.7" stroke-linecap="round" stroke-linejoin="round"/>
<path d="M139.2,1072.4 L139.3,1072.5 L139.5,1072.5 L139.6,1072.6 L139.8,1072.6 L139.9,1072.7 L140.1,1072.7 L140.2,1072.8 M159.2,1078.4 L161.1,1079.0 L163.0,1079.5 L165.0,1080.1 L166.9,1080.7 L168.9,1081.3 L170.8,1081.9 L172.7,1082.5 M191.5,1089.3 L193.4,1090.1 L195.3,1091.0 L197.2,1091.8 L199.1,1092.8 L201.0,1093.7 L202.9,1094.7 L204.8,1095.7 M222.8,1106.9 L224.6,1108.2 L226.5,1109.5 L228.3,1110.7 L230.1,1112.0 L231.9,1113.3 L233.7,1114.6 L235.6,1115.8 M253.3,1128.3 L255.1,1129.7 L256.9,1131.0 L258.7,1132.4 L260.5,1133.8 L262.3,1135.2 L264.1,1136.6 L265.9,1138.1 M282.9,1153.2 L284.6,1154.9 L286.3,1156.5 L288.0,1158.2 L289.7,1159.9 L291.4,1161.6 L293.1,1163.4 L294.8,1165.1 M310.8,1182.9 L312.5,1184.8 L314.1,1186.8 L315.7,1188.7 L317.3,1190.7 L318.9,1192.6 L320.5,1194.6 L322.1,1196.6 M337.3,1216.4 L338.9,1218.5 L340.4,1220.6 L342.0,1222.7 L343.5,1224.7 L345.0,1226.8 L346.6,1228.9 L348.1,1231.0 M363.3,1251.0 L364.8,1253.1 L366.4,1255.1 L368.0,1257.2 L369.5,1259.2 L371.1,1261.2 L372.7,1263.3 L374.2,1265.3 M389.6,1284.9 L391.2,1286.9 L392.8,1288.9 L394.4,1290.8 L396.0,1292.8 L397.6,1294.8 L399.2,1296.7 L400.8,1298.7 M416.5,1317.4 L418.1,1319.2 L419.8,1321.1 L421.4,1323.0 L423.1,1324.8 L424.7,1326.6 L426.4,1328.4 L428.0,1330.2 M444.6,1346.9 L446.3,1348.5 L448.0,1350.1 L449.8,1351.6 L451.5,1353.2 L453.3,1354.7 L455.0,1356.2 L456.8,1357.7 M474.3,1371.0 L476.2,1372.2 L478.0,1373.5 L479.8,1374.7 L481.7,1375.9 L483.5,1377.0 L485.4,1378.2 L487.2,1379.3 M505.5,1389.2 L507.4,1390.1 L509.3,1391.0 L511.2,1391.8 L513.1,1392.7 L515.1,1393.5 L517.0,1394.3 L518.9,1395.1 M537.6,1402.0 L539.6,1402.6 L541.5,1403.2 L543.5,1403.8 L545.4,1404.3 L547.4,1404.9 L549.3,1405.4 L551.3,1405.9 M570.3,1410.4 L572.2,1410.8 L574.2,1411.2 L576.1,1411.5 L578.1,1411.9 L580.1,1412.2 L582.0,1412.6 L584.0,1412.9 M603.1,1415.4 L605.1,1415.6 L607.1,1415.9 L609.0,1416.0 L611.0,1416.2 L613.0,1416.4 L614.9,1416.6 L616.9,1416.8 M636.1,1418.1 L638.1,1418.2 L640.0,1418.3 L642.0,1418.5 L644.0,1418.6 L645.9,1418.7 L647.9,1418.8 L649.9,1418.9 M669.1,1419.7 L671.0,1419.8 L673.0,1419.9 L675.0,1420.0 L677.0,1420.1 L678.9,1420.1 L680.9,1420.2 L682.9,1420.3 M702.1,1421.0 L704.0,1421.0 L706.0,1421.1 L708.0,1421.1 L710.0,1421.2 L711.9,1421.2 L713.9,1421.3 L715.9,1421.4 M735.1,1421.8 L737.0,1421.9 L739.0,1421.9 L741.0,1421.9 L743.0,1422.0 L744.9,1422.0 L746.9,1422.1 L748.9,1422.1 M768.1,1422.4 L770.0,1422.4 L772.0,1422.4 L774.0,1422.5 L775.9,1422.5 L777.9,1422.5 L779.9,1422.5 L781.9,1422.6 M801.1,1422.7 L803.0,1422.8 L805.0,1422.8 L807.0,1422.8 L808.9,1422.8 L810.9,1422.8 L812.9,1422.8 L814.9,1422.8 M834.1,1422.9 L836.0,1422.9 L838.0,1422.9 L840.0,1422.9 L841.9,1422.9 L843.9,1422.9 L845.9,1423.0 L847.9,1423.0 M867.1,1423.0 L869.0,1423.0 L871.0,1423.0 L873.0,1423.0 L874.9,1423.0 L876.9,1423.0 L878.9,1423.0 L880.9,1423.0 M900.1,1423.0 L902.0,1423.0 L904.0,1423.0 L906.0,1423.0 L907.9,1423.0 L909.9,1423.0 L911.9,1423.0 L913.9,1423.0 M933.1,1423.0 L935.0,1423.0 L937.0,1423.0 L939.0,1423.0 L940.9,1423.0 L942.9,1423.0 L944.9,1423.0 L946.9,1423.0 M966.1,1423.1 L968.0,1423.1 L970.0,1423.1 L972.0,1423.1 L973.9,1423.1 L975.9,1423.1 L977.9,1423.2 L979.9,1423.2" fill="none" stroke="#4a70bd" stroke-width="5.7" stroke-linecap="round" stroke-linejoin="round"/>
<path d="M154.6,1058.4 L156.6,1058.3 L158.6,1058.2 L160.5,1058.2 L162.5,1058.2 L164.5,1058.2 L166.4,1058.2 L168.4,1058.2 M186.4,1059.0 L188.4,1059.2 L190.4,1059.3 L192.3,1059.5 L194.3,1059.7 L196.3,1059.8 L198.2,1060.0 L200.2,1060.2 M218.2,1062.1 L220.2,1062.3 L222.1,1062.6 L224.1,1062.8 L226.1,1063.0 L228.0,1063.2 L230.0,1063.4 L232.0,1063.6 M249.9,1065.4 L251.9,1065.6 L253.9,1065.7 L255.9,1065.9 L257.8,1066.0 L259.8,1066.2 L261.8,1066.3 L263.7,1066.5 M281.7,1068.3 L283.7,1068.5 L285.7,1068.8 L287.6,1069.1 L289.6,1069.4 L291.6,1069.7 L293.5,1070.0 L295.5,1070.4 M313.4,1074.1 L315.4,1074.5 L317.3,1075.0 L319.3,1075.5 L321.3,1076.0 L323.2,1076.5 L325.2,1077.0 L327.1,1077.6 M345.0,1082.8 L346.9,1083.4 L348.9,1084.1 L350.8,1084.7 L352.8,1085.4 L354.7,1086.1 L356.7,1086.8 L358.6,1087.5 M376.4,1094.5 L378.3,1095.4 L380.3,1096.2 L382.2,1097.1 L384.1,1097.9 L386.1,1098.8 L388.0,1099.7 L389.9,1100.6 M407.5,1109.6 L409.4,1110.6 L411.3,1111.7 L413.2,1112.8 L415.2,1113.9 L417.1,1115.0 L419.0,1116.1 L420.9,1117.3 M438.2,1128.6 L440.1,1130.0 L442.0,1131.3 L443.8,1132.7 L445.7,1134.1 L447.6,1135.6 L449.4,1137.0 L451.3,1138.5 M468.1,1153.2 L470.0,1154.9 L471.8,1156.7 L473.6,1158.5 L475.4,1160.3 L477.2,1162.1 L479.0,1164.0 L480.8,1165.9 M496.9,1184.2 L498.7,1186.3 L500.4,1188.3 L502.2,1190.4 L503.9,1192.5 L505.7,1194.7 L507.4,1196.8 L509.2,1198.9 M524.9,1218.8 L526.7,1221.0 L528.4,1223.3 L530.1,1225.5 L531.8,1227.8 L533.5,1230.1 L535.2,1232.4 L536.9,1234.7 M552.3,1256.1 L554.0,1258.5 L555.6,1260.9 L557.3,1263.2 L559.0,1265.6 L560.7,1268.0 L562.4,1270.3 L564.1,1272.7 M579.6,1293.6 L581.3,1295.8 L583.0,1298.0 L584.8,1300.1 L586.5,1302.2 L588.3,1304.3 L590.0,1306.4 L591.8,1308.5 M608.1,1326.1 L609.9,1327.9 L611.7,1329.6 L613.5,1331.4 L615.3,1333.1 L617.2,1334.8 L619.0,1336.5 L620.8,1338.2 M637.7,1352.4 L639.6,1353.8 L641.5,1355.3 L643.3,1356.7 L645.2,1358.1 L647.1,1359.4 L649.0,1360.8 L650.9,1362.1 M668.2,1373.4 L670.1,1374.6 L672.0,1375.7 L673.9,1376.9 L675.8,1378.0 L677.7,1379.1 L679.6,1380.2 L681.6,1381.2 M699.1,1390.1 L701.1,1391.0 L703.0,1391.9 L704.9,1392.7 L706.9,1393.6 L708.8,1394.4 L710.7,1395.2 L712.7,1396.0 M730.5,1402.5 L732.4,1403.2 L734.4,1403.8 L736.3,1404.4 L738.3,1405.0 L740.2,1405.5 L742.2,1406.1 L744.1,1406.7 M762.0,1411.3 L764.0,1411.7 L766.0,1412.1 L767.9,1412.5 L769.9,1412.8 L771.9,1413.2 L773.8,1413.5 L775.8,1413.8 M793.8,1416.2 L795.7,1416.4 L797.7,1416.6 L799.7,1416.8 L801.6,1417.0 L803.6,1417.2 L805.6,1417.3 L807.5,1417.5 M825.5,1418.6 L827.5,1418.7 L829.5,1418.8 L831.5,1418.9 L833.4,1419.0 L835.4,1419.0 L837.4,1419.1 L839.3,1419.2 M857.3,1420.0 L859.3,1420.1 L861.3,1420.2 L863.2,1420.2 L865.2,1420.3 L867.2,1420.4 L869.2,1420.5 L871.1,1420.6 M889.1,1421.4 L891.1,1421.5 L893.1,1421.6 L895.0,1421.7 L897.0,1421.8 L899.0,1421.9 L901.0,1421.9 L902.9,1422.0 M920.9,1422.7 L922.9,1422.8 L924.9,1422.8 L926.8,1422.9 L928.8,1423.0 L930.8,1423.0 L932.8,1423.1 L934.7,1423.1 M952.7,1423.4 L954.7,1423.5 L956.7,1423.5 L958.6,1423.5 L960.6,1423.5 L962.6,1423.5 L964.6,1423.5 L966.5,1423.5 M984.5,1423.2 L985.3,1423.2 L986.0,1423.2 L986.7,1423.2 L987.5,1423.1 L988.2,1423.1 L989.0,1423.1 L989.7,1423.1" fill="none" stroke="#6ab82d" stroke-width="5.7" stroke-linecap="round" stroke-linejoin="round"/>
<path d="M154.2,1059.2 L156.2,1059.2 L158.2,1059.3 L160.1,1059.3 L162.1,1059.4 L164.1,1059.4 L166.1,1059.4 L168.0,1059.5 M185.8,1059.7 L187.8,1059.7 L189.8,1059.7 L191.7,1059.7 L193.7,1059.7 L195.7,1059.7 L197.7,1059.7 L199.6,1059.7 M217.4,1059.7 L219.4,1059.7 L221.4,1059.7 L223.3,1059.7 L225.3,1059.7 L227.3,1059.7 L229.3,1059.7 L231.2,1059.7 M249.0,1059.7 L251.0,1059.7 L253.0,1059.7 L254.9,1059.7 L256.9,1059.7 L258.9,1059.7 L260.9,1059.7 L262.8,1059.8 M280.6,1059.9 L282.6,1059.9 L284.6,1059.9 L286.5,1060.0 L288.5,1060.0 L290.5,1060.0 L292.5,1060.0 L294.4,1060.1 M312.2,1060.5 L314.2,1060.6 L316.2,1060.6 L318.1,1060.7 L320.1,1060.8 L322.1,1060.8 L324.1,1060.9 L326.0,1061.0 M343.8,1061.8 L345.8,1061.9 L347.8,1062.0 L349.7,1062.1 L351.7,1062.3 L353.7,1062.4 L355.6,1062.5 L357.6,1062.7 M375.4,1064.1 L377.4,1064.2 L379.3,1064.4 L381.3,1064.6 L383.3,1064.8 L385.2,1065.0 L387.2,1065.2 L389.2,1065.4 M407.0,1067.5 L408.9,1067.8 L410.9,1068.1 L412.9,1068.3 L414.8,1068.6 L416.8,1068.9 L418.7,1069.2 L420.7,1069.5 M438.5,1072.5 L440.4,1072.8 L442.4,1073.2 L444.3,1073.6 L446.3,1074.0 L448.3,1074.4 L450.2,1074.8 L452.2,1075.2 M469.9,1079.1 L471.8,1079.6 L473.8,1080.1 L475.7,1080.6 L477.7,1081.1 L479.7,1081.5 L481.6,1082.1 L483.6,1082.6 M501.2,1087.6 L503.1,1088.3 L505.1,1088.9 L507.0,1089.5 L509.0,1090.1 L510.9,1090.8 L512.9,1091.4 L514.8,1092.1 M532.3,1098.3 L534.3,1099.1 L536.2,1099.9 L538.1,1100.7 L540.1,1101.5 L542.0,1102.3 L543.9,1103.1 L545.8,1104.0 M563.1,1112.8 L565.0,1113.9 L566.9,1115.1 L568.7,1116.2 L570.6,1117.4 L572.5,1118.6 L574.4,1119.8 L576.2,1121.1 M593.0,1133.0 L594.9,1134.4 L596.7,1135.7 L598.6,1137.1 L600.4,1138.5 L602.2,1139.9 L604.1,1141.3 L605.9,1142.8 M622.3,1156.7 L624.1,1158.3 L625.9,1160.0 L627.6,1161.8 L629.4,1163.5 L631.2,1165.3 L632.9,1167.2 L634.6,1169.0 M650.1,1186.5 L651.8,1188.6 L653.5,1190.6 L655.2,1192.7 L656.9,1194.8 L658.5,1196.9 L660.2,1199.0 L661.9,1201.1 M676.6,1221.0 L678.2,1223.3 L679.8,1225.6 L681.4,1227.9 L683.0,1230.2 L684.6,1232.5 L686.2,1234.8 L687.8,1237.2 M702.5,1257.3 L704.1,1259.4 L705.8,1261.5 L707.5,1263.6 L709.2,1265.6 L710.9,1267.7 L712.6,1269.7 L714.3,1271.7 M729.6,1289.8 L731.3,1291.8 L733.0,1293.8 L734.7,1295.8 L736.4,1297.8 L738.1,1299.8 L739.8,1301.8 L741.5,1303.8 M757.0,1321.3 L758.7,1323.1 L760.5,1325.0 L762.2,1326.8 L764.0,1328.6 L765.7,1330.4 L767.5,1332.1 L769.3,1333.9 M785.4,1348.7 L787.3,1350.2 L789.1,1351.7 L790.9,1353.2 L792.7,1354.7 L794.6,1356.1 L796.4,1357.6 L798.2,1359.0 M815.0,1370.7 L816.9,1371.9 L818.8,1373.1 L820.7,1374.3 L822.6,1375.4 L824.5,1376.5 L826.4,1377.6 L828.2,1378.7 M845.5,1387.6 L847.4,1388.5 L849.3,1389.4 L851.3,1390.2 L853.2,1391.1 L855.1,1391.9 L857.0,1392.7 L859.0,1393.5 M876.5,1399.8 L878.4,1400.4 L880.4,1401.0 L882.3,1401.6 L884.3,1402.1 L886.2,1402.7 L888.2,1403.3 L890.1,1403.8 M907.8,1408.2 L909.8,1408.6 L911.7,1409.1 L913.7,1409.5 L915.6,1409.9 L917.6,1410.3 L919.6,1410.7 L921.5,1411.0 M939.3,1413.9 L941.2,1414.2 L943.2,1414.5 L945.2,1414.8 L947.1,1415.0 L949.1,1415.3 L951.1,1415.5 L953.0,1415.7 M970.8,1417.6 L972.8,1417.8 L974.8,1418.0 L976.7,1418.2 L978.7,1418.4 L980.7,1418.6 L982.6,1418.7 L984.6,1418.9" fill="none" stroke="#f18d0a" stroke-width="5.7" stroke-linecap="round" stroke-linejoin="round"/>
<path d="M152.3,1059.7 L154.2,1059.7 L156.2,1059.7 L158.2,1059.8 L160.1,1059.8 L162.1,1059.8 L164.1,1059.8 L166.1,1059.8 M183.8,1060.0 L185.7,1060.0 L187.7,1060.0 L189.7,1060.0 L191.6,1060.0 L193.6,1060.0 L195.6,1060.1 L197.6,1060.1 M215.3,1060.1 L217.2,1060.1 L219.2,1060.1 L221.2,1060.1 L223.1,1060.1 L225.1,1060.2 L227.1,1060.2 L229.1,1060.2 M246.8,1060.2 L248.7,1060.2 L250.7,1060.2 L252.7,1060.2 L254.6,1060.2 L256.6,1060.2 L258.6,1060.2 L260.6,1060.2 M278.3,1060.3 L280.2,1060.3 L282.2,1060.3 L284.2,1060.3 L286.1,1060.3 L288.1,1060.3 L290.1,1060.3 L292.1,1060.3 M309.8,1060.4 L311.7,1060.4 L313.7,1060.4 L315.7,1060.4 L317.6,1060.5 L319.6,1060.5 L321.6,1060.5 L323.5,1060.5 M341.2,1060.7 L343.2,1060.7 L345.2,1060.8 L347.2,1060.8 L349.1,1060.8 L351.1,1060.8 L353.1,1060.9 L355.0,1060.9 M372.7,1061.2 L374.7,1061.2 L376.7,1061.3 L378.7,1061.3 L380.6,1061.4 L382.6,1061.4 L384.6,1061.5 L386.5,1061.5 M404.2,1062.0 L406.2,1062.0 L408.2,1062.1 L410.2,1062.2 L412.1,1062.2 L414.1,1062.3 L416.1,1062.4 L418.0,1062.4 M435.7,1063.1 L437.7,1063.2 L439.7,1063.3 L441.7,1063.4 L443.6,1063.5 L445.6,1063.6 L447.6,1063.6 L449.5,1063.7 M467.2,1064.7 L469.2,1064.8 L471.2,1064.9 L473.2,1065.0 L475.1,1065.1 L477.1,1065.3 L479.1,1065.4 L481.0,1065.5 M498.7,1066.8 L500.7,1066.9 L502.7,1067.1 L504.7,1067.2 L506.6,1067.4 L508.6,1067.5 L510.6,1067.7 L512.5,1067.9 M530.2,1069.6 L532.2,1069.8 L534.2,1070.0 L536.2,1070.2 L538.1,1070.4 L540.1,1070.7 L542.1,1070.9 L544.0,1071.1 M561.7,1073.5 L563.7,1073.8 L565.7,1074.1 L567.6,1074.4 L569.6,1074.7 L571.6,1075.0 L573.6,1075.3 L575.5,1075.7 M593.2,1078.9 L595.2,1079.3 L597.2,1079.7 L599.1,1080.1 L601.1,1080.5 L603.1,1080.9 L605.0,1081.4 L607.0,1081.8 M624.7,1086.2 L626.6,1086.8 L628.6,1087.4 L630.6,1088.0 L632.5,1088.6 L634.5,1089.2 L636.5,1089.9 L638.4,1090.5 M656.1,1097.1 L658.1,1097.9 L660.0,1098.7 L662.0,1099.6 L664.0,1100.5 L665.9,1101.3 L667.9,1102.2 L669.8,1103.2 M687.5,1112.4 L689.4,1113.5 L691.4,1114.7 L693.3,1115.9 L695.3,1117.1 L697.2,1118.3 L699.2,1119.5 L701.1,1120.8 M718.7,1133.4 L720.6,1134.9 L722.6,1136.5 L724.5,1138.1 L726.5,1139.7 L728.4,1141.3 L730.3,1143.0 L732.3,1144.7 M749.7,1161.3 L751.6,1163.3 L753.5,1165.3 L755.5,1167.3 L757.4,1169.4 L759.3,1171.4 L761.2,1173.5 L763.2,1175.7 M780.4,1195.5 L782.3,1197.8 L784.2,1200.1 L786.2,1202.5 L788.1,1204.8 L790.0,1207.1 L791.9,1209.5 L793.8,1211.9" fill="none" stroke="#e50012" stroke-width="5.7" stroke-linecap="round" stroke-linejoin="round"/>
<path d="M914.4,1350.4 L916.3,1352.0 L918.2,1353.7 L920.2,1355.3 L922.1,1356.9 L924.1,1358.4 L926.0,1359.9 L928.0,1361.4 M945.5,1373.8 L947.5,1375.1 L949.4,1376.3 L951.4,1377.5 L953.3,1378.7 L955.3,1379.8 L957.2,1380.9 L959.2,1382.0 M976.8,1390.6 L978.7,1391.4 L980.5,1392.1 L982.3,1392.9 L984.2,1393.5 L986.0,1394.2 L987.9,1394.9 L989.7,1395.5" fill="none" stroke="#e50012" stroke-width="5.7" stroke-linecap="round" stroke-linejoin="round"/>
<path d="M139.2,1154.7 L140.7,1152.7 L142.2,1150.6 L143.7,1148.5 L145.2,1146.5 L146.7,1144.4 L148.2,1142.4 L149.7,1140.4 L151.2,1138.4 L152.7,1136.4 L154.2,1134.4 L155.7,1132.5 L157.2,1130.5 L158.7,1128.6 L160.2,1126.7 L161.7,1124.7 L163.2,1122.9 L164.7,1121.0 L166.2,1119.1 L167.7,1117.2 L169.2,1115.4 L170.7,1113.6 L172.2,1111.8 L173.7,1110.0 L175.2,1108.2 L176.7,1106.4 L178.2,1104.7 L179.7,1103.0 L181.2,1101.2 L182.7,1099.6 L184.2,1097.9 L185.7,1096.2 L187.2,1094.6 L188.7,1092.9 L190.2,1091.3 L191.7,1089.7 L193.2,1088.1 L194.7,1086.6 L196.2,1085.0 L197.7,1083.5 L199.2,1082.0 L200.7,1080.5 L202.2,1079.1 L203.7,1077.6 L205.2,1076.2 L206.7,1074.8 L208.2,1073.4 L209.7,1072.0 L211.2,1070.7 L212.7,1069.3 L214.2,1068.0 L215.7,1066.7 L217.2,1065.5 L218.7,1064.2 L220.2,1063.0 L221.7,1061.8 L223.2,1060.6 L224.7,1059.5 L226.2,1058.3 L227.7,1057.2 L229.2,1056.1 L230.7,1055.0 L232.2,1054.0 L233.7,1052.9 L235.2,1051.9 L236.7,1050.9 L238.2,1049.9 L239.7,1049.0 L241.2,1048.0 L242.7,1047.1 L244.2,1046.2 L245.7,1045.3 L247.2,1044.4 L248.7,1043.6 L250.2,1042.7 L251.7,1041.9 L253.2,1041.1 L254.7,1040.3 L256.2,1039.5 L257.7,1038.7 L259.2,1038.0 L260.7,1037.2 L262.2,1036.5 L263.7,1035.8 L265.2,1035.1 L266.7,1034.4 L268.2,1033.8 L269.7,1033.1 L271.2,1032.5 L272.7,1031.8 L274.2,1031.2 L275.7,1030.6 L277.2,1030.0 L278.7,1029.4 L280.2,1028.8 L281.7,1028.3 L283.2,1027.7 L284.7,1027.2 L286.2,1026.6 L287.7,1026.1 L289.2,1025.6 L290.7,1025.1 L292.2,1024.6 L293.7,1024.1 L295.2,1023.6 L296.7,1023.1 L298.2,1022.7 L299.7,1022.2 L301.2,1021.7 L302.7,1021.3 L304.2,1020.8 L305.7,1020.4 L307.2,1020.0 L308.7,1019.6 L310.2,1019.2 L311.7,1018.7 L313.2,1018.3 L314.7,1017.9 L316.2,1017.6 L317.7,1017.2 L319.2,1016.8 L320.7,1016.4 L322.2,1016.1 L323.7,1015.7 L325.2,1015.4 L326.7,1015.0 L328.2,1014.7 L329.7,1014.3 L331.2,1014.0 L332.7,1013.7 L334.2,1013.4 L335.7,1013.1 L337.2,1012.8 L338.7,1012.5 L340.2,1012.2 L341.7,1011.9 L343.2,1011.6 L344.7,1011.3 L346.2,1011.0 L347.7,1010.8 L349.2,1010.5 L350.7,1010.3 L352.2,1010.0 L353.7,1009.8 L355.2,1009.5 L356.7,1009.3 L358.2,1009.0 L359.7,1008.8 L361.2,1008.6 L362.7,1008.4 L364.2,1008.1 L365.7,1007.9 L367.2,1007.7 L368.7,1007.5 L370.2,1007.3 L371.7,1007.1 L373.2,1006.9 L374.7,1006.8 L376.2,1006.6 L377.7,1006.4 L379.2,1006.2 L380.7,1006.1 L382.2,1005.9 L383.7,1005.7 L385.2,1005.6 L386.7,1005.4 L388.2,1005.3 L389.7,1005.1 L391.2,1005.0 L392.7,1004.8 L394.2,1004.7 L395.7,1004.5 L397.2,1004.4 L398.7,1004.3 L400.2,1004.2 L401.7,1004.0 L403.2,1003.9 L404.7,1003.8 L406.2,1003.7 L407.7,1003.6 L409.2,1003.5 L410.7,1003.4 L412.2,1003.3 L413.7,1003.2 L415.2,1003.1 L416.7,1003.0 L418.2,1002.9 L419.7,1002.8 L421.2,1002.7 L422.7,1002.6 L424.2,1002.5 L425.7,1002.4 L427.2,1002.4 L428.7,1002.3 L430.2,1002.2 L431.7,1002.1 L433.2,1002.0 L434.7,1002.0 L436.2,1001.9 L437.7,1001.8 L439.2,1001.8 L440.7,1001.7 L442.2,1001.6 L443.7,1001.6 L445.2,1001.5 L446.7,1001.5 L448.2,1001.4 L449.7,1001.3 L451.2,1001.3 L452.7,1001.2 L454.2,1001.2 L455.7,1001.1 L457.2,1001.1 L458.7,1001.0 L460.2,1001.0 L461.7,1000.9 L463.2,1000.9 L464.7,1000.8 L466.2,1000.8 L467.7,1000.8 L469.2,1000.7 L470.7,1000.7 L472.2,1000.6 L473.7,1000.6 L475.2,1000.6 L476.7,1000.5 L478.2,1000.5 L479.7,1000.5 L481.2,1000.4 L482.7,1000.4 L484.2,1000.4 L485.7,1000.4 L487.2,1000.3 L488.7,1000.3 L490.2,1000.3 L491.7,1000.2 L493.2,1000.2 L494.7,1000.2 L496.2,1000.2 L497.7,1000.2 L499.2,1000.1 L500.7,1000.1 L502.2,1000.1 L503.7,1000.1 L505.2,1000.1 L506.7,1000.0 L508.2,1000.0 L509.7,1000.0 L511.2,1000.0 L512.7,1000.0 L514.2,1000.0 L515.7,1000.0 L517.2,1000.0 L518.7,999.9 L520.2,999.9 L521.7,999.9 L523.2,999.9 L524.7,999.9 L526.2,999.9 L527.7,999.9 L529.2,999.9 L530.7,999.9 L532.2,999.9 L533.7,999.9 L535.2,999.9 L536.7,999.9 L538.2,999.9 L539.7,999.9 L541.2,999.9 L542.7,999.9 L544.2,999.9 L545.7,999.9 L547.2,999.9 L548.7,999.9 L550.2,999.9 L551.7,999.9 L553.2,999.9 L554.7,999.9 L556.2,999.9 L557.7,999.9 L559.2,999.9 L560.7,999.9 L562.2,999.9 L563.7,999.9 L565.2,999.9 L566.7,999.9 L568.2,999.9 L569.7,999.9 L571.2,999.9 L572.7,999.9 L574.2,999.9 L575.7,999.9 L577.2,999.9 L578.7,999.9 L580.2,999.9 L581.7,1000.0 L583.2,1000.0 L584.7,1000.0 L586.2,1000.0 L587.7,1000.0 L589.2,1000.0 L590.7,1000.0 L592.2,1000.0 L593.7,1000.0 L595.2,1000.0 L596.7,1000.0 L598.2,1000.0 L599.7,1000.0 L601.2,1000.0 L602.7,1000.0 L604.2,1000.0 L605.7,1000.0 L607.2,1000.0 L608.7,1000.1 L610.2,1000.1 L611.7,1000.1 L613.2,1000.1 L614.7,1000.1 L616.2,1000.1 L617.7,1000.1 L619.2,1000.1 L620.7,1000.1 L622.2,1000.1 L623.7,1000.1 L625.2,1000.1 L626.7,1000.1 L628.2,1000.1 L629.7,1000.1 L631.2,1000.1 L632.7,1000.1 L634.2,1000.1 L635.7,1000.1 L637.2,1000.1 L638.7,1000.1 L640.2,1000.1 L641.7,1000.1 L643.2,1000.1 L644.7,1000.1 L646.2,1000.1 L647.7,1000.1 L649.2,1000.1 L650.7,1000.1 L652.2,1000.1 L653.7,1000.1 L655.2,1000.1 L656.7,1000.1 L658.2,1000.1 L659.7,1000.1 L661.2,1000.1 L662.7,1000.1 L664.2,1000.1 L665.7,1000.1 L667.2,1000.1 L668.7,1000.1 L670.2,1000.1 L671.7,1000.1 L673.2,1000.1 L674.7,1000.1 L676.2,1000.1 L677.7,1000.1 L679.2,1000.2 L680.7,1000.2 L682.2,1000.2 L683.7,1000.1 L685.2,1000.1 L686.7,1000.1 L688.2,1000.1 L689.7,1000.1 L691.2,1000.1 L692.7,1000.1 L694.2,1000.1 L695.7,1000.1 L697.2,1000.1 L698.7,1000.1 L700.2,1000.1 L701.7,1000.1 L703.2,1000.1 L704.7,1000.1 L706.2,1000.1 L707.7,1000.1 L709.2,1000.1 L710.7,1000.1 L712.2,1000.1 L713.7,1000.1 L715.2,1000.1 L716.7,1000.1 L718.2,1000.1 L719.7,1000.1 L721.2,1000.1 L722.7,1000.1 L724.2,1000.1 L725.7,1000.1 L727.2,1000.1 L728.7,1000.1 L730.2,1000.1 L731.7,1000.1 L733.2,1000.1 L734.7,1000.1 L736.2,1000.1 L737.7,1000.1 L739.2,1000.1 L740.7,1000.1 L742.2,1000.1 L743.7,1000.1 L745.2,1000.1 L746.7,1000.1 L748.2,1000.1 L749.7,1000.1 L751.2,1000.1 L752.7,1000.1 L754.2,1000.1 L755.7,1000.1 L757.2,1000.1 L758.7,1000.1 L760.2,1000.1 L761.7,1000.1 L763.2,1000.1 L764.7,1000.1 L766.2,1000.1 L767.7,1000.1 L769.2,1000.1 L770.7,1000.1 L772.2,1000.0 L773.7,1000.0 L775.2,1000.0 L776.7,1000.0 L778.2,1000.0 L779.7,1000.0 L781.2,1000.0 L782.7,1000.0 L784.2,1000.0 L785.7,1000.0 L787.2,1000.0 L788.7,1000.0 L790.2,1000.0 L791.7,1000.0 L793.2,1000.0 L794.7,1000.0 L796.2,1000.0 L797.7,1000.0 L799.2,1000.0 L800.7,1000.0 L802.2,1000.0 L803.7,1000.0 L805.2,1000.0 L806.7,1000.0 L808.2,1000.0 L809.7,1000.0 L811.2,1000.0 L812.7,1000.0 L814.2,1000.0 L815.7,1000.0 L817.2,1000.0 L818.7,1000.0 L820.2,1000.0 L821.7,1000.0 L823.2,1000.0 L824.7,1000.0 L826.2,1000.0 L827.7,999.9 L829.2,999.9 L830.7,999.9 L832.2,999.9 L833.7,999.9 L835.2,999.9 L836.7,999.9 L838.2,999.9 L839.7,999.9 L841.2,999.9 L842.7,999.9 L844.2,999.9 L845.7,999.9 L847.2,999.9 L848.7,999.9 L850.2,999.9 L851.7,999.9 L853.2,999.9 L854.7,999.9 L856.2,999.9 L857.7,999.9 L859.2,999.9 L860.7,999.9 L862.2,999.9 L863.7,999.9 L865.2,999.9 L866.7,999.9 L868.2,999.9 L869.7,999.9 L871.2,999.9 L872.7,999.9 L874.2,999.9 L875.7,999.9 L877.2,999.9 L878.7,999.9 L880.2,999.9 L881.7,999.9 L883.2,999.9 L884.7,999.9 L886.2,999.9 L887.7,999.9 L889.2,999.9 L890.7,999.9 L892.2,999.9 L893.7,999.9 L895.2,999.9 L896.7,999.9 L898.2,999.9 L899.7,999.9 L901.2,999.9 L902.7,999.9 L904.2,999.9 L905.7,999.9 L907.2,999.9 L908.7,999.9 L910.2,999.9 L911.7,999.9 L913.2,999.9 L914.7,999.9 L916.2,999.9 L917.7,999.9 L919.2,999.9 L920.7,999.9 L922.2,999.9 L923.7,999.9 L925.2,999.9 L926.7,999.9 L928.2,999.9 L929.7,999.9 L931.2,999.9 L932.7,999.9 L934.2,999.9 L935.7,999.9 L937.2,999.9 L938.7,999.9 L940.2,999.9 L941.7,999.9 L943.2,999.9 L944.7,999.9 L946.2,999.9 L947.7,999.9 L949.2,999.9 L950.7,999.9 L952.2,999.9 L953.7,999.9 L955.2,999.9 L956.7,999.9 L958.2,999.9 L959.7,999.9 L961.2,999.9 L962.7,999.9 L964.2,999.9 L965.7,999.9 L967.2,999.9 L968.7,999.9 L970.2,999.9 L971.7,999.9 L973.2,999.9 L974.7,999.9 L976.2,999.9 L977.7,999.9 L979.2,1000.0 L980.7,1000.0 L982.2,1000.0 L983.7,1000.0 L985.2,1000.0 L986.7,1000.0 L988.2,1000.0 L989.7,1000.0 L991.2,1000.0 L992.7,1000.0" fill="none" stroke="#000" stroke-width="5.7" stroke-linejoin="round"/>
<path d="M139.2,1350.5 L140.7,1350.0 L142.2,1349.6 L143.7,1349.1 L145.2,1348.6 L146.7,1348.1 L148.2,1347.7 L149.7,1347.2 L151.2,1346.8 L152.7,1346.3 L154.2,1345.9 L155.7,1345.4 L157.2,1345.0 L158.7,1344.5 L160.2,1344.1 L161.7,1343.6 L163.2,1343.2 L164.7,1342.7 L166.2,1342.3 L167.7,1341.8 L169.2,1341.3 L170.7,1340.9 L172.2,1340.4 L173.7,1339.9 L175.2,1339.4 L176.7,1338.9 L178.2,1338.4 L179.7,1337.9 L181.2,1337.3 L182.7,1336.8 L184.2,1336.2 L185.7,1335.7 L187.2,1335.1 L188.7,1334.5 L190.2,1333.9 L191.7,1333.2 L193.2,1332.6 L194.7,1331.9 L196.2,1331.2 L197.7,1330.5 L199.2,1329.8 L200.7,1329.1 L202.2,1328.3 L203.7,1327.5 L205.2,1326.7 L206.7,1325.9 L208.2,1325.0 L209.7,1324.1 L211.2,1323.2 L212.7,1322.3 L214.2,1321.4 L215.7,1320.4 L217.2,1319.4 L218.7,1318.5 L220.2,1317.4 L221.7,1316.4 L223.2,1315.4 L224.7,1314.4 L226.2,1313.3 L227.7,1312.3 L229.2,1311.2 L230.7,1310.2 L232.2,1309.1 L233.7,1308.1 L235.2,1307.0 L236.7,1306.0 L238.2,1304.9 L239.7,1303.9 L241.2,1302.8 L242.7,1301.8 L244.2,1300.8 L245.7,1299.7 L247.2,1298.7 L248.7,1297.6 L250.2,1296.5 L251.7,1295.5 L253.2,1294.4 L254.7,1293.3 L256.2,1292.1 L257.7,1291.0 L259.2,1289.8 L260.7,1288.7 L262.2,1287.5 L263.7,1286.3 L265.2,1285.1 L266.7,1283.8 L268.2,1282.6 L269.7,1281.3 L271.2,1280.0 L272.7,1278.7 L274.2,1277.4 L275.7,1276.0 L277.2,1274.7 L278.7,1273.3 L280.2,1271.9 L281.7,1270.5 L283.2,1269.1 L284.7,1267.6 L286.2,1266.2 L287.7,1264.7 L289.2,1263.2 L290.7,1261.7 L292.2,1260.1 L293.7,1258.6 L295.2,1257.0 L296.7,1255.4 L298.2,1253.8 L299.7,1252.2 L301.2,1250.6 L302.7,1248.9 L304.2,1247.3 L305.7,1245.6 L307.2,1243.9 L308.7,1242.2 L310.2,1240.4 L311.7,1238.7 L313.2,1236.9 L314.7,1235.1 L316.2,1233.3 L317.7,1231.4 L319.2,1229.6 L320.7,1227.7 L322.2,1225.9 L323.7,1224.0 L325.2,1222.0 L326.7,1220.1 L328.2,1218.2 L329.7,1216.2 L331.2,1214.3 L332.7,1212.3 L334.2,1210.3 L335.7,1208.3 L337.2,1206.3 L338.7,1204.3 L340.2,1202.3 L341.7,1200.3 L343.2,1198.3 L344.7,1196.3 L346.2,1194.2 L347.7,1192.2 L349.2,1190.2 L350.7,1188.2 L352.2,1186.2 L353.7,1184.2 L355.2,1182.2 L356.7,1180.2 L358.2,1178.2 L359.7,1176.2 L361.2,1174.3 L362.7,1172.3 L364.2,1170.4 L365.7,1168.4 L367.2,1166.5 L368.7,1164.5 L370.2,1162.6 L371.7,1160.6 L373.2,1158.6 L374.7,1156.7 L376.2,1154.8 L377.7,1152.8 L379.2,1150.9 L380.7,1148.9 L382.2,1147.0 L383.7,1145.1 L385.2,1143.2 L386.7,1141.3 L388.2,1139.4 L389.7,1137.5 L391.2,1135.7 L392.7,1133.8 L394.2,1132.0 L395.7,1130.1 L397.2,1128.3 L398.7,1126.4 L400.2,1124.6 L401.7,1122.8 L403.2,1120.9 L404.7,1119.1 L406.2,1117.3 L407.7,1115.5 L409.2,1113.8 L410.7,1112.0 L412.2,1110.2 L413.7,1108.5 L415.2,1106.7 L416.7,1105.0 L418.2,1103.3 L419.7,1101.6 L421.2,1099.9 L422.7,1098.2 L424.2,1096.5 L425.7,1094.9 L427.2,1093.3 L428.7,1091.7 L430.2,1090.1 L431.7,1088.5 L433.2,1086.9 L434.7,1085.4 L436.2,1083.8 L437.7,1082.3 L439.2,1080.9 L440.7,1079.4 L442.2,1077.9 L443.7,1076.5 L445.2,1075.1 L446.7,1073.7 L448.2,1072.4 L449.7,1071.0 L451.2,1069.7 L452.7,1068.4 L454.2,1067.1 L455.7,1065.8 L457.2,1064.6 L458.7,1063.4 L460.2,1062.2 L461.7,1061.0 L463.2,1059.8 L464.7,1058.6 L466.2,1057.5 L467.7,1056.4 L469.2,1055.3 L470.7,1054.2 L472.2,1053.1 L473.7,1052.1 L475.2,1051.0 L476.7,1050.0 L478.2,1049.0 L479.7,1048.0 L481.2,1047.1 L482.7,1046.1 L484.2,1045.2 L485.7,1044.2 L487.2,1043.3 L488.7,1042.4 L490.2,1041.6 L491.7,1040.7 L493.2,1039.9 L494.7,1039.0 L496.2,1038.2 L497.7,1037.4 L499.2,1036.6 L500.7,1035.8 L502.2,1035.1 L503.7,1034.3 L505.2,1033.6 L506.7,1032.9 L508.2,1032.2 L509.7,1031.5 L511.2,1030.8 L512.7,1030.1 L514.2,1029.5 L515.7,1028.8 L517.2,1028.2 L518.7,1027.5 L520.2,1026.9 L521.7,1026.3 L523.2,1025.7 L524.7,1025.2 L526.2,1024.6 L527.7,1024.0 L529.2,1023.5 L530.7,1023.0 L532.2,1022.4 L533.7,1021.9 L535.2,1021.4 L536.7,1020.9 L538.2,1020.5 L539.7,1020.0 L541.2,1019.5 L542.7,1019.1 L544.2,1018.6 L545.7,1018.2 L547.2,1017.8 L548.7,1017.4 L550.2,1017.0 L551.7,1016.6 L553.2,1016.2 L554.7,1015.8 L556.2,1015.4 L557.7,1015.1 L559.2,1014.7 L560.7,1014.4 L562.2,1014.0 L563.7,1013.7 L565.2,1013.4 L566.7,1013.1 L568.2,1012.8 L569.7,1012.5 L571.2,1012.2 L572.7,1011.9 L574.2,1011.6 L575.7,1011.3 L577.2,1011.1 L578.7,1010.8 L580.2,1010.6 L581.7,1010.3 L583.2,1010.1 L584.7,1009.9 L586.2,1009.6 L587.7,1009.4 L589.2,1009.2 L590.7,1009.0 L592.2,1008.8 L593.7,1008.6 L595.2,1008.4 L596.7,1008.3 L598.2,1008.1 L599.7,1007.9 L601.2,1007.7 L602.7,1007.6 L604.2,1007.4 L605.7,1007.3 L607.2,1007.1 L608.7,1007.0 L610.2,1006.8 L611.7,1006.7 L613.2,1006.6 L614.7,1006.4 L616.2,1006.3 L617.7,1006.2 L619.2,1006.1 L620.7,1006.0 L622.2,1005.8 L623.7,1005.7 L625.2,1005.6 L626.7,1005.5 L628.2,1005.4 L629.7,1005.3 L631.2,1005.2 L632.7,1005.1 L634.2,1005.1 L635.7,1005.0 L637.2,1004.9 L638.7,1004.8 L640.2,1004.7 L641.7,1004.6 L643.2,1004.6 L644.7,1004.5 L646.2,1004.4 L647.7,1004.3 L649.2,1004.3 L650.7,1004.2 L652.2,1004.1 L653.7,1004.1 L655.2,1004.0 L656.7,1003.9 L658.2,1003.9 L659.7,1003.8 L661.2,1003.7 L662.7,1003.7 L664.2,1003.6 L665.7,1003.5 L667.2,1003.5 L668.7,1003.4 L670.2,1003.3 L671.7,1003.3 L673.2,1003.2 L674.7,1003.2 L676.2,1003.1 L677.7,1003.0 L679.2,1003.0 L680.7,1002.9 L682.2,1002.9 L683.7,1002.8 L685.2,1002.8 L686.7,1002.7 L688.2,1002.7 L689.7,1002.6 L691.2,1002.6 L692.7,1002.5 L694.2,1002.5 L695.7,1002.4 L697.2,1002.4 L698.7,1002.3 L700.2,1002.3 L701.7,1002.2 L703.2,1002.2 L704.7,1002.1 L706.2,1002.1 L707.7,1002.1 L709.2,1002.0 L710.7,1002.0 L712.2,1001.9 L713.7,1001.9 L715.2,1001.9 L716.7,1001.8 L718.2,1001.8 L719.7,1001.7 L721.2,1001.7 L722.7,1001.7 L724.2,1001.6 L725.7,1001.6 L727.2,1001.6 L728.7,1001.5 L730.2,1001.5 L731.7,1001.5 L733.2,1001.4 L734.7,1001.4 L736.2,1001.4 L737.7,1001.3 L739.2,1001.3 L740.7,1001.3 L742.2,1001.3 L743.7,1001.2 L745.2,1001.2 L746.7,1001.2 L748.2,1001.1 L749.7,1001.1 L751.2,1001.1 L752.7,1001.1 L754.2,1001.0 L755.7,1001.0 L757.2,1001.0 L758.7,1001.0 L760.2,1001.0 L761.7,1000.9 L763.2,1000.9 L764.7,1000.9 L766.2,1000.9 L767.7,1000.8 L769.2,1000.8 L770.7,1000.8 L772.2,1000.8 L773.7,1000.8 L775.2,1000.8 L776.7,1000.7 L778.2,1000.7 L779.7,1000.7 L781.2,1000.7 L782.7,1000.7 L784.2,1000.7 L785.7,1000.6 L787.2,1000.6 L788.7,1000.6 L790.2,1000.6 L791.7,1000.6 L793.2,1000.6 L794.7,1000.6 L796.2,1000.5 L797.7,1000.5 L799.2,1000.5 L800.7,1000.5 L802.2,1000.5 L803.7,1000.5 L805.2,1000.5 L806.7,1000.5 L808.2,1000.5 L809.7,1000.5 L811.2,1000.4 L812.7,1000.4 L814.2,1000.4 L815.7,1000.4 L817.2,1000.4 L818.7,1000.4 L820.2,1000.4 L821.7,1000.4 L823.2,1000.4 L824.7,1000.4 L826.2,1000.4 L827.7,1000.4 L829.2,1000.4 L830.7,1000.4 L832.2,1000.3 L833.7,1000.3 L835.2,1000.3 L836.7,1000.3 L838.2,1000.3 L839.7,1000.3 L841.2,1000.3 L842.7,1000.3 L844.2,1000.3 L845.7,1000.3 L847.2,1000.3 L848.7,1000.3 L850.2,1000.3 L851.7,1000.3 L853.2,1000.3 L854.7,1000.3 L856.2,1000.3 L857.7,1000.3 L859.2,1000.3 L860.7,1000.3 L862.2,1000.3 L863.7,1000.3 L865.2,1000.3 L866.7,1000.3 L868.2,1000.3 L869.7,1000.3 L871.2,1000.3 L872.7,1000.3 L874.2,1000.3 L875.7,1000.3 L877.2,1000.3 L878.7,1000.3 L880.2,1000.3 L881.7,1000.3 L883.2,1000.3 L884.7,1000.3 L886.2,1000.3 L887.7,1000.3 L889.2,1000.3 L890.7,1000.3 L892.2,1000.3 L893.7,1000.3 L895.2,1000.3 L896.7,1000.3 L898.2,1000.3 L899.7,1000.3 L901.2,1000.3 L902.7,1000.3 L904.2,1000.3 L905.7,1000.3 L907.2,1000.3 L908.7,1000.3 L910.2,1000.3 L911.7,1000.3 L913.2,1000.3 L914.7,1000.3 L916.2,1000.3 L917.7,1000.3 L919.2,1000.3 L920.7,1000.3 L922.2,1000.3 L923.7,1000.3 L925.2,1000.3 L926.7,1000.3 L928.2,1000.3 L929.7,1000.2 L931.2,1000.2 L932.7,1000.2 L934.2,1000.2 L935.7,1000.2 L937.2,1000.2 L938.7,1000.2 L940.2,1000.2 L941.7,1000.2 L943.2,1000.2 L944.7,1000.2 L946.2,1000.2 L947.7,1000.2 L949.2,1000.2 L950.7,1000.2 L952.2,1000.2 L953.7,1000.2 L955.2,1000.2 L956.7,1000.2 L958.2,1000.2 L959.7,1000.2 L961.2,1000.2 L962.7,1000.2 L964.2,1000.2 L965.7,1000.2 L967.2,1000.2 L968.7,1000.2 L970.2,1000.1 L971.7,1000.1 L973.2,1000.1 L974.7,1000.1 L976.2,1000.1 L977.7,1000.1 L979.2,1000.1 L980.7,1000.1 L982.2,1000.1 L983.7,1000.1 L985.2,1000.1 L986.7,1000.1 L988.2,1000.0 L989.7,1000.0 L991.2,1000.0 L992.7,1000.0" fill="none" stroke="#4a70bd" stroke-width="5.7" stroke-linejoin="round"/>
<path d="M139.2,1363.7 L140.7,1363.8 L142.2,1364.0 L143.7,1364.2 L145.2,1364.3 L146.7,1364.4 L148.2,1364.6 L149.7,1364.7 L151.2,1364.8 L152.7,1364.8 L154.2,1364.9 L155.7,1365.0 L157.2,1365.0 L158.7,1365.1 L160.2,1365.1 L161.7,1365.1 L163.2,1365.1 L164.7,1365.1 L166.2,1365.1 L167.7,1365.1 L169.2,1365.1 L170.7,1365.1 L172.2,1365.0 L173.7,1365.0 L175.2,1364.9 L176.7,1364.9 L178.2,1364.8 L179.7,1364.7 L181.2,1364.6 L182.7,1364.5 L184.2,1364.4 L185.7,1364.3 L187.2,1364.2 L188.7,1364.1 L190.2,1364.0 L191.7,1363.9 L193.2,1363.7 L194.7,1363.6 L196.2,1363.5 L197.7,1363.3 L199.2,1363.2 L200.7,1363.0 L202.2,1362.9 L203.7,1362.7 L205.2,1362.6 L206.7,1362.4 L208.2,1362.2 L209.7,1362.1 L211.2,1361.9 L212.7,1361.7 L214.2,1361.6 L215.7,1361.4 L217.2,1361.2 L218.7,1361.0 L220.2,1360.9 L221.7,1360.7 L223.2,1360.5 L224.7,1360.3 L226.2,1360.2 L227.7,1360.0 L229.2,1359.8 L230.7,1359.6 L232.2,1359.5 L233.7,1359.3 L235.2,1359.1 L236.7,1359.0 L238.2,1358.8 L239.7,1358.6 L241.2,1358.5 L242.7,1358.3 L244.2,1358.2 L245.7,1358.0 L247.2,1357.9 L248.7,1357.7 L250.2,1357.6 L251.7,1357.5 L253.2,1357.3 L254.7,1357.2 L256.2,1357.1 L257.7,1357.0 L259.2,1356.9 L260.7,1356.7 L262.2,1356.6 L263.7,1356.5 L265.2,1356.4 L266.7,1356.2 L268.2,1356.1 L269.7,1355.9 L271.2,1355.8 L272.7,1355.7 L274.2,1355.5 L275.7,1355.3 L277.2,1355.2 L278.7,1355.0 L280.2,1354.8 L281.7,1354.6 L283.2,1354.4 L284.7,1354.2 L286.2,1353.9 L287.7,1353.7 L289.2,1353.5 L290.7,1353.2 L292.2,1352.9 L293.7,1352.7 L295.2,1352.4 L296.7,1352.1 L298.2,1351.8 L299.7,1351.5 L301.2,1351.2 L302.7,1350.9 L304.2,1350.6 L305.7,1350.2 L307.2,1349.9 L308.7,1349.5 L310.2,1349.2 L311.7,1348.8 L313.2,1348.4 L314.7,1348.1 L316.2,1347.7 L317.7,1347.3 L319.2,1346.9 L320.7,1346.5 L322.2,1346.1 L323.7,1345.7 L325.2,1345.2 L326.7,1344.8 L328.2,1344.4 L329.7,1343.9 L331.2,1343.5 L332.7,1343.0 L334.2,1342.6 L335.7,1342.1 L337.2,1341.6 L338.7,1341.2 L340.2,1340.7 L341.7,1340.2 L343.2,1339.7 L344.7,1339.2 L346.2,1338.7 L347.7,1338.2 L349.2,1337.7 L350.7,1337.2 L352.2,1336.6 L353.7,1336.1 L355.2,1335.6 L356.7,1335.0 L358.2,1334.5 L359.7,1333.9 L361.2,1333.3 L362.7,1332.8 L364.2,1332.2 L365.7,1331.6 L367.2,1331.0 L368.7,1330.4 L370.2,1329.8 L371.7,1329.2 L373.2,1328.6 L374.7,1328.0 L376.2,1327.3 L377.7,1326.7 L379.2,1326.0 L380.7,1325.4 L382.2,1324.7 L383.7,1324.0 L385.2,1323.4 L386.7,1322.7 L388.2,1322.0 L389.7,1321.3 L391.2,1320.6 L392.7,1319.8 L394.2,1319.1 L395.7,1318.4 L397.2,1317.6 L398.7,1316.9 L400.2,1316.1 L401.7,1315.3 L403.2,1314.5 L404.7,1313.7 L406.2,1312.9 L407.7,1312.1 L409.2,1311.3 L410.7,1310.5 L412.2,1309.6 L413.7,1308.8 L415.2,1307.9 L416.7,1307.0 L418.2,1306.1 L419.7,1305.2 L421.2,1304.3 L422.7,1303.4 L424.2,1302.5 L425.7,1301.5 L427.2,1300.6 L428.7,1299.6 L430.2,1298.6 L431.7,1297.6 L433.2,1296.6 L434.7,1295.6 L436.2,1294.6 L437.7,1293.5 L439.2,1292.5 L440.7,1291.4 L442.2,1290.3 L443.7,1289.2 L445.2,1288.0 L446.7,1286.9 L448.2,1285.7 L449.7,1284.5 L451.2,1283.4 L452.7,1282.1 L454.2,1280.9 L455.7,1279.7 L457.2,1278.4 L458.7,1277.1 L460.2,1275.8 L461.7,1274.5 L463.2,1273.1 L464.7,1271.8 L466.2,1270.4 L467.7,1269.0 L469.2,1267.6 L470.7,1266.1 L472.2,1264.7 L473.7,1263.2 L475.2,1261.7 L476.7,1260.2 L478.2,1258.6 L479.7,1257.0 L481.2,1255.4 L482.7,1253.8 L484.2,1252.2 L485.7,1250.5 L487.2,1248.9 L488.7,1247.2 L490.2,1245.5 L491.7,1243.7 L493.2,1242.0 L494.7,1240.2 L496.2,1238.5 L497.7,1236.7 L499.2,1234.9 L500.7,1233.1 L502.2,1231.3 L503.7,1229.5 L505.2,1227.7 L506.7,1225.9 L508.2,1224.1 L509.7,1222.2 L511.2,1220.4 L512.7,1218.5 L514.2,1216.6 L515.7,1214.8 L517.2,1212.9 L518.7,1211.0 L520.2,1209.1 L521.7,1207.2 L523.2,1205.2 L524.7,1203.3 L526.2,1201.3 L527.7,1199.4 L529.2,1197.4 L530.7,1195.4 L532.2,1193.5 L533.7,1191.5 L535.2,1189.4 L536.7,1187.4 L538.2,1185.4 L539.7,1183.3 L541.2,1181.3 L542.7,1179.2 L544.2,1177.1 L545.7,1175.0 L547.2,1172.9 L548.7,1170.8 L550.2,1168.7 L551.7,1166.5 L553.2,1164.4 L554.7,1162.3 L556.2,1160.2 L557.7,1158.0 L559.2,1155.9 L560.7,1153.8 L562.2,1151.7 L563.7,1149.6 L565.2,1147.5 L566.7,1145.4 L568.2,1143.4 L569.7,1141.3 L571.2,1139.3 L572.7,1137.2 L574.2,1135.2 L575.7,1133.2 L577.2,1131.3 L578.7,1129.3 L580.2,1127.4 L581.7,1125.5 L583.2,1123.6 L584.7,1121.8 L586.2,1119.9 L587.7,1118.1 L589.2,1116.3 L590.7,1114.6 L592.2,1112.8 L593.7,1111.1 L595.2,1109.4 L596.7,1107.8 L598.2,1106.1 L599.7,1104.5 L601.2,1102.9 L602.7,1101.3 L604.2,1099.7 L605.7,1098.1 L607.2,1096.6 L608.7,1095.1 L610.2,1093.6 L611.7,1092.1 L613.2,1090.7 L614.7,1089.3 L616.2,1087.8 L617.7,1086.4 L619.2,1085.1 L620.7,1083.7 L622.2,1082.4 L623.7,1081.0 L625.2,1079.7 L626.7,1078.4 L628.2,1077.2 L629.7,1075.9 L631.2,1074.6 L632.7,1073.4 L634.2,1072.2 L635.7,1071.0 L637.2,1069.8 L638.7,1068.7 L640.2,1067.5 L641.7,1066.4 L643.2,1065.2 L644.7,1064.1 L646.2,1063.0 L647.7,1061.9 L649.2,1060.9 L650.7,1059.8 L652.2,1058.8 L653.7,1057.7 L655.2,1056.7 L656.7,1055.7 L658.2,1054.7 L659.7,1053.7 L661.2,1052.7 L662.7,1051.8 L664.2,1050.8 L665.7,1049.9 L667.2,1048.9 L668.7,1048.0 L670.2,1047.1 L671.7,1046.2 L673.2,1045.3 L674.7,1044.5 L676.2,1043.6 L677.7,1042.7 L679.2,1041.9 L680.7,1041.1 L682.2,1040.2 L683.7,1039.4 L685.2,1038.6 L686.7,1037.8 L688.2,1037.1 L689.7,1036.3 L691.2,1035.5 L692.7,1034.8 L694.2,1034.0 L695.7,1033.3 L697.2,1032.6 L698.7,1031.9 L700.2,1031.2 L701.7,1030.5 L703.2,1029.8 L704.7,1029.2 L706.2,1028.5 L707.7,1027.9 L709.2,1027.2 L710.7,1026.6 L712.2,1026.0 L713.7,1025.4 L715.2,1024.8 L716.7,1024.2 L718.2,1023.6 L719.7,1023.0 L721.2,1022.5 L722.7,1021.9 L724.2,1021.4 L725.7,1020.9 L727.2,1020.4 L728.7,1019.9 L730.2,1019.4 L731.7,1018.9 L733.2,1018.4 L734.7,1017.9 L736.2,1017.5 L737.7,1017.0 L739.2,1016.6 L740.7,1016.1 L742.2,1015.7 L743.7,1015.3 L745.2,1014.9 L746.7,1014.5 L748.2,1014.1 L749.7,1013.8 L751.2,1013.4 L752.7,1013.0 L754.2,1012.7 L755.7,1012.3 L757.2,1012.0 L758.7,1011.7 L760.2,1011.4 L761.7,1011.1 L763.2,1010.8 L764.7,1010.5 L766.2,1010.2 L767.7,1010.0 L769.2,1009.7 L770.7,1009.4 L772.2,1009.2 L773.7,1009.0 L775.2,1008.7 L776.7,1008.5 L778.2,1008.3 L779.7,1008.1 L781.2,1007.9 L782.7,1007.7 L784.2,1007.5 L785.7,1007.3 L787.2,1007.1 L788.7,1007.0 L790.2,1006.8 L791.7,1006.6 L793.2,1006.5 L794.7,1006.3 L796.2,1006.2 L797.7,1006.1 L799.2,1005.9 L800.7,1005.8 L802.2,1005.7 L803.7,1005.6 L805.2,1005.5 L806.7,1005.4 L808.2,1005.2 L809.7,1005.1 L811.2,1005.0 L812.7,1005.0 L814.2,1004.9 L815.7,1004.8 L817.2,1004.7 L818.7,1004.6 L820.2,1004.5 L821.7,1004.5 L823.2,1004.4 L824.7,1004.3 L826.2,1004.2 L827.7,1004.2 L829.2,1004.1 L830.7,1004.0 L832.2,1004.0 L833.7,1003.9 L835.2,1003.9 L836.7,1003.8 L838.2,1003.7 L839.7,1003.7 L841.2,1003.6 L842.7,1003.6 L844.2,1003.5 L845.7,1003.5 L847.2,1003.4 L848.7,1003.3 L850.2,1003.3 L851.7,1003.2 L853.2,1003.2 L854.7,1003.1 L856.2,1003.0 L857.7,1003.0 L859.2,1002.9 L860.7,1002.9 L862.2,1002.8 L863.7,1002.7 L865.2,1002.7 L866.7,1002.6 L868.2,1002.5 L869.7,1002.5 L871.2,1002.4 L872.7,1002.4 L874.2,1002.3 L875.7,1002.2 L877.2,1002.2 L878.7,1002.1 L880.2,1002.0 L881.7,1002.0 L883.2,1001.9 L884.7,1001.8 L886.2,1001.8 L887.7,1001.7 L889.2,1001.7 L890.7,1001.6 L892.2,1001.5 L893.7,1001.5 L895.2,1001.4 L896.7,1001.4 L898.2,1001.3 L899.7,1001.2 L901.2,1001.2 L902.7,1001.1 L904.2,1001.1 L905.7,1001.0 L907.2,1000.9 L908.7,1000.9 L910.2,1000.8 L911.7,1000.8 L913.2,1000.7 L914.7,1000.7 L916.2,1000.6 L917.7,1000.6 L919.2,1000.5 L920.7,1000.5 L922.2,1000.4 L923.7,1000.4 L925.2,1000.4 L926.7,1000.3 L928.2,1000.3 L929.7,1000.2 L931.2,1000.2 L932.7,1000.2 L934.2,1000.1 L935.7,1000.1 L937.2,1000.1 L938.7,1000.0 L940.2,1000.0 L941.7,1000.0 L943.2,999.9 L944.7,999.9 L946.2,999.9 L947.7,999.9 L949.2,999.9 L950.7,999.8 L952.2,999.8 L953.7,999.8 L955.2,999.8 L956.7,999.8 L958.2,999.8 L959.7,999.8 L961.2,999.8 L962.7,999.8 L964.2,999.8 L965.7,999.8 L967.2,999.8 L968.7,999.8 L970.2,999.8 L971.7,999.8 L973.2,999.8 L974.7,999.8 L976.2,999.9 L977.7,999.9 L979.2,999.9 L980.7,999.9 L982.2,1000.0 L983.7,1000.0 L985.2,1000.0 L986.7,1000.1 L988.2,1000.1 L989.7,1000.2 L991.2,1000.2 L992.7,1000.3" fill="none" stroke="#6ab82d" stroke-width="5.7" stroke-linejoin="round"/>
<path d="M139.2,1364.5 L140.7,1364.5 L142.2,1364.4 L143.7,1364.4 L145.2,1364.4 L146.7,1364.3 L148.2,1364.3 L149.7,1364.2 L151.2,1364.2 L152.7,1364.1 L154.2,1364.1 L155.7,1364.1 L157.2,1364.0 L158.7,1364.0 L160.2,1364.0 L161.7,1363.9 L163.2,1363.9 L164.7,1363.9 L166.2,1363.9 L167.7,1363.8 L169.2,1363.8 L170.7,1363.8 L172.2,1363.8 L173.7,1363.8 L175.2,1363.7 L176.7,1363.7 L178.2,1363.7 L179.7,1363.7 L181.2,1363.7 L182.7,1363.7 L184.2,1363.7 L185.7,1363.6 L187.2,1363.6 L188.7,1363.6 L190.2,1363.6 L191.7,1363.6 L193.2,1363.6 L194.7,1363.6 L196.2,1363.6 L197.7,1363.6 L199.2,1363.6 L200.7,1363.6 L202.2,1363.6 L203.7,1363.6 L205.2,1363.6 L206.7,1363.6 L208.2,1363.6 L209.7,1363.6 L211.2,1363.6 L212.7,1363.6 L214.2,1363.6 L215.7,1363.6 L217.2,1363.6 L218.7,1363.6 L220.2,1363.6 L221.7,1363.6 L223.2,1363.6 L224.7,1363.6 L226.2,1363.6 L227.7,1363.6 L229.2,1363.6 L230.7,1363.6 L232.2,1363.6 L233.7,1363.6 L235.2,1363.6 L236.7,1363.6 L238.2,1363.6 L239.7,1363.6 L241.2,1363.6 L242.7,1363.6 L244.2,1363.6 L245.7,1363.6 L247.2,1363.6 L248.7,1363.6 L250.2,1363.6 L251.7,1363.6 L253.2,1363.6 L254.7,1363.6 L256.2,1363.6 L257.7,1363.6 L259.2,1363.6 L260.7,1363.6 L262.2,1363.5 L263.7,1363.5 L265.2,1363.5 L266.7,1363.5 L268.2,1363.5 L269.7,1363.5 L271.2,1363.5 L272.7,1363.5 L274.2,1363.5 L275.7,1363.5 L277.2,1363.5 L278.7,1363.4 L280.2,1363.4 L281.7,1363.4 L283.2,1363.4 L284.7,1363.4 L286.2,1363.3 L287.7,1363.3 L289.2,1363.3 L290.7,1363.3 L292.2,1363.3 L293.7,1363.2 L295.2,1363.2 L296.7,1363.2 L298.2,1363.1 L299.7,1363.1 L301.2,1363.1 L302.7,1363.0 L304.2,1363.0 L305.7,1363.0 L307.2,1362.9 L308.7,1362.9 L310.2,1362.9 L311.7,1362.8 L313.2,1362.8 L314.7,1362.7 L316.2,1362.7 L317.7,1362.6 L319.2,1362.6 L320.7,1362.5 L322.2,1362.5 L323.7,1362.4 L325.2,1362.3 L326.7,1362.3 L328.2,1362.2 L329.7,1362.2 L331.2,1362.1 L332.7,1362.0 L334.2,1361.9 L335.7,1361.9 L337.2,1361.8 L338.7,1361.7 L340.2,1361.6 L341.7,1361.6 L343.2,1361.5 L344.7,1361.4 L346.2,1361.3 L347.7,1361.2 L349.2,1361.1 L350.7,1361.0 L352.2,1360.9 L353.7,1360.8 L355.2,1360.7 L356.7,1360.6 L358.2,1360.5 L359.7,1360.4 L361.2,1360.3 L362.7,1360.1 L364.2,1360.0 L365.7,1359.9 L367.2,1359.8 L368.7,1359.7 L370.2,1359.5 L371.7,1359.4 L373.2,1359.3 L374.7,1359.1 L376.2,1359.0 L377.7,1358.8 L379.2,1358.7 L380.7,1358.5 L382.2,1358.4 L383.7,1358.2 L385.2,1358.1 L386.7,1357.9 L388.2,1357.7 L389.7,1357.6 L391.2,1357.4 L392.7,1357.2 L394.2,1357.0 L395.7,1356.8 L397.2,1356.7 L398.7,1356.5 L400.2,1356.3 L401.7,1356.1 L403.2,1355.9 L404.7,1355.7 L406.2,1355.5 L407.7,1355.3 L409.2,1355.0 L410.7,1354.8 L412.2,1354.6 L413.7,1354.4 L415.2,1354.1 L416.7,1353.9 L418.2,1353.7 L419.7,1353.4 L421.2,1353.2 L422.7,1352.9 L424.2,1352.7 L425.7,1352.4 L427.2,1352.2 L428.7,1351.9 L430.2,1351.6 L431.7,1351.4 L433.2,1351.1 L434.7,1350.8 L436.2,1350.5 L437.7,1350.2 L439.2,1349.9 L440.7,1349.7 L442.2,1349.4 L443.7,1349.0 L445.2,1348.7 L446.7,1348.4 L448.2,1348.1 L449.7,1347.8 L451.2,1347.5 L452.7,1347.1 L454.2,1346.8 L455.7,1346.5 L457.2,1346.1 L458.7,1345.8 L460.2,1345.4 L461.7,1345.1 L463.2,1344.7 L464.7,1344.3 L466.2,1344.0 L467.7,1343.6 L469.2,1343.2 L470.7,1342.8 L472.2,1342.4 L473.7,1342.0 L475.2,1341.7 L476.7,1341.3 L478.2,1340.9 L479.7,1340.4 L481.2,1340.0 L482.7,1339.6 L484.2,1339.2 L485.7,1338.8 L487.2,1338.4 L488.7,1337.9 L490.2,1337.5 L491.7,1337.0 L493.2,1336.6 L494.7,1336.1 L496.2,1335.7 L497.7,1335.2 L499.2,1334.8 L500.7,1334.3 L502.2,1333.8 L503.7,1333.4 L505.2,1332.9 L506.7,1332.4 L508.2,1331.9 L509.7,1331.4 L511.2,1330.9 L512.7,1330.4 L514.2,1329.9 L515.7,1329.4 L517.2,1328.9 L518.7,1328.4 L520.2,1327.9 L521.7,1327.3 L523.2,1326.8 L524.7,1326.3 L526.2,1325.7 L527.7,1325.2 L529.2,1324.6 L530.7,1324.1 L532.2,1323.5 L533.7,1322.9 L535.2,1322.3 L536.7,1321.7 L538.2,1321.1 L539.7,1320.5 L541.2,1319.9 L542.7,1319.2 L544.2,1318.6 L545.7,1317.9 L547.2,1317.2 L548.7,1316.5 L550.2,1315.8 L551.7,1315.1 L553.2,1314.3 L554.7,1313.6 L556.2,1312.8 L557.7,1312.0 L559.2,1311.2 L560.7,1310.3 L562.2,1309.5 L563.7,1308.6 L565.2,1307.7 L566.7,1306.8 L568.2,1305.9 L569.7,1305.0 L571.2,1304.0 L572.7,1303.1 L574.2,1302.1 L575.7,1301.1 L577.2,1300.1 L578.7,1299.1 L580.2,1298.0 L581.7,1297.0 L583.2,1295.9 L584.7,1294.9 L586.2,1293.8 L587.7,1292.7 L589.2,1291.6 L590.7,1290.5 L592.2,1289.4 L593.7,1288.3 L595.2,1287.2 L596.7,1286.1 L598.2,1284.9 L599.7,1283.8 L601.2,1282.7 L602.7,1281.5 L604.2,1280.4 L605.7,1279.2 L607.2,1278.0 L608.7,1276.8 L610.2,1275.6 L611.7,1274.4 L613.2,1273.2 L614.7,1271.9 L616.2,1270.6 L617.7,1269.3 L619.2,1268.0 L620.7,1266.6 L622.2,1265.2 L623.7,1263.8 L625.2,1262.4 L626.7,1260.9 L628.2,1259.5 L629.7,1257.9 L631.2,1256.4 L632.7,1254.9 L634.2,1253.3 L635.7,1251.7 L637.2,1250.1 L638.7,1248.4 L640.2,1246.8 L641.7,1245.1 L643.2,1243.4 L644.7,1241.7 L646.2,1239.9 L647.7,1238.2 L649.2,1236.4 L650.7,1234.6 L652.2,1232.8 L653.7,1231.0 L655.2,1229.1 L656.7,1227.3 L658.2,1225.4 L659.7,1223.5 L661.2,1221.5 L662.7,1219.6 L664.2,1217.6 L665.7,1215.7 L667.2,1213.7 L668.7,1211.7 L670.2,1209.6 L671.7,1207.6 L673.2,1205.5 L674.7,1203.4 L676.2,1201.3 L677.7,1199.2 L679.2,1197.1 L680.7,1194.9 L682.2,1192.7 L683.7,1190.6 L685.2,1188.4 L686.7,1186.2 L688.2,1184.1 L689.7,1181.9 L691.2,1179.8 L692.7,1177.7 L694.2,1175.5 L695.7,1173.5 L697.2,1171.4 L698.7,1169.4 L700.2,1167.4 L701.7,1165.5 L703.2,1163.5 L704.7,1161.7 L706.2,1159.8 L707.7,1158.0 L709.2,1156.1 L710.7,1154.3 L712.2,1152.5 L713.7,1150.8 L715.2,1149.0 L716.7,1147.2 L718.2,1145.5 L719.7,1143.7 L721.2,1141.9 L722.7,1140.2 L724.2,1138.4 L725.7,1136.6 L727.2,1134.8 L728.7,1133.0 L730.2,1131.3 L731.7,1129.5 L733.2,1127.7 L734.7,1125.9 L736.2,1124.2 L737.7,1122.4 L739.2,1120.6 L740.7,1118.9 L742.2,1117.1 L743.7,1115.4 L745.2,1113.7 L746.7,1112.0 L748.2,1110.3 L749.7,1108.6 L751.2,1106.9 L752.7,1105.2 L754.2,1103.6 L755.7,1101.9 L757.2,1100.3 L758.7,1098.7 L760.2,1097.1 L761.7,1095.5 L763.2,1094.0 L764.7,1092.4 L766.2,1090.9 L767.7,1089.4 L769.2,1088.0 L770.7,1086.5 L772.2,1085.1 L773.7,1083.6 L775.2,1082.2 L776.7,1080.9 L778.2,1079.5 L779.7,1078.1 L781.2,1076.8 L782.7,1075.5 L784.2,1074.2 L785.7,1072.9 L787.2,1071.6 L788.7,1070.4 L790.2,1069.2 L791.7,1067.9 L793.2,1066.7 L794.7,1065.6 L796.2,1064.4 L797.7,1063.2 L799.2,1062.1 L800.7,1061.0 L802.2,1059.9 L803.7,1058.8 L805.2,1057.7 L806.7,1056.7 L808.2,1055.6 L809.7,1054.6 L811.2,1053.6 L812.7,1052.6 L814.2,1051.6 L815.7,1050.6 L817.2,1049.7 L818.7,1048.7 L820.2,1047.8 L821.7,1046.9 L823.2,1046.0 L824.7,1045.1 L826.2,1044.2 L827.7,1043.4 L829.2,1042.5 L830.7,1041.7 L832.2,1040.9 L833.7,1040.1 L835.2,1039.3 L836.7,1038.5 L838.2,1037.7 L839.7,1037.0 L841.2,1036.3 L842.7,1035.5 L844.2,1034.8 L845.7,1034.1 L847.2,1033.4 L848.7,1032.7 L850.2,1032.0 L851.7,1031.4 L853.2,1030.7 L854.7,1030.1 L856.2,1029.5 L857.7,1028.9 L859.2,1028.3 L860.7,1027.7 L862.2,1027.1 L863.7,1026.5 L865.2,1025.9 L866.7,1025.4 L868.2,1024.9 L869.7,1024.3 L871.2,1023.8 L872.7,1023.3 L874.2,1022.8 L875.7,1022.3 L877.2,1021.8 L878.7,1021.3 L880.2,1020.9 L881.7,1020.4 L883.2,1020.0 L884.7,1019.5 L886.2,1019.1 L887.7,1018.7 L889.2,1018.3 L890.7,1017.9 L892.2,1017.5 L893.7,1017.1 L895.2,1016.7 L896.7,1016.3 L898.2,1016.0 L899.7,1015.6 L901.2,1015.3 L902.7,1014.9 L904.2,1014.6 L905.7,1014.3 L907.2,1013.9 L908.7,1013.6 L910.2,1013.3 L911.7,1013.0 L913.2,1012.7 L914.7,1012.4 L916.2,1012.2 L917.7,1011.9 L919.2,1011.6 L920.7,1011.4 L922.2,1011.1 L923.7,1010.8 L925.2,1010.6 L926.7,1010.4 L928.2,1010.1 L929.7,1009.9 L931.2,1009.7 L932.7,1009.4 L934.2,1009.2 L935.7,1009.0 L937.2,1008.8 L938.7,1008.6 L940.2,1008.4 L941.7,1008.2 L943.2,1008.0 L944.7,1007.9 L946.2,1007.7 L947.7,1007.5 L949.2,1007.3 L950.7,1007.1 L952.2,1007.0 L953.7,1006.8 L955.2,1006.7 L956.7,1006.5 L958.2,1006.3 L959.7,1006.2 L961.2,1006.0 L962.7,1005.9 L964.2,1005.8 L965.7,1005.6 L967.2,1005.5 L968.7,1005.3 L970.2,1005.2 L971.7,1005.1 L973.2,1004.9 L974.7,1004.8 L976.2,1004.7 L977.7,1004.6 L979.2,1004.4 L980.7,1004.3 L982.2,1004.2 L983.7,1004.1 L985.2,1003.9 L986.7,1003.8 L988.2,1003.7 L989.7,1003.6 L991.2,1003.4 L992.7,1003.3" fill="none" stroke="#f18d0a" stroke-width="5.7" stroke-linejoin="round"/>
<path d="M139.2,1363.8 L140.7,1363.8 L142.2,1363.7 L143.7,1363.7 L145.2,1363.7 L146.7,1363.7 L148.2,1363.7 L149.7,1363.6 L151.2,1363.6 L152.7,1363.6 L154.2,1363.6 L155.7,1363.6 L157.2,1363.5 L158.7,1363.5 L160.2,1363.5 L161.7,1363.5 L163.2,1363.5 L164.7,1363.5 L166.2,1363.5 L167.7,1363.4 L169.2,1363.4 L170.7,1363.4 L172.2,1363.4 L173.7,1363.4 L175.2,1363.4 L176.7,1363.4 L178.2,1363.4 L179.7,1363.3 L181.2,1363.3 L182.7,1363.3 L184.2,1363.3 L185.7,1363.3 L187.2,1363.3 L188.7,1363.3 L190.2,1363.3 L191.7,1363.3 L193.2,1363.3 L194.7,1363.3 L196.2,1363.2 L197.7,1363.2 L199.2,1363.2 L200.7,1363.2 L202.2,1363.2 L203.7,1363.2 L205.2,1363.2 L206.7,1363.2 L208.2,1363.2 L209.7,1363.2 L211.2,1363.2 L212.7,1363.2 L214.2,1363.2 L215.7,1363.2 L217.2,1363.2 L218.7,1363.2 L220.2,1363.2 L221.7,1363.2 L223.2,1363.2 L224.7,1363.1 L226.2,1363.1 L227.7,1363.1 L229.2,1363.1 L230.7,1363.1 L232.2,1363.1 L233.7,1363.1 L235.2,1363.1 L236.7,1363.1 L238.2,1363.1 L239.7,1363.1 L241.2,1363.1 L242.7,1363.1 L244.2,1363.1 L245.7,1363.1 L247.2,1363.1 L248.7,1363.1 L250.2,1363.1 L251.7,1363.1 L253.2,1363.1 L254.7,1363.1 L256.2,1363.1 L257.7,1363.1 L259.2,1363.1 L260.7,1363.1 L262.2,1363.1 L263.7,1363.1 L265.2,1363.1 L266.7,1363.1 L268.2,1363.1 L269.7,1363.1 L271.2,1363.1 L272.7,1363.1 L274.2,1363.0 L275.7,1363.0 L277.2,1363.0 L278.7,1363.0 L280.2,1363.0 L281.7,1363.0 L283.2,1363.0 L284.7,1363.0 L286.2,1363.0 L287.7,1363.0 L289.2,1363.0 L290.7,1363.0 L292.2,1363.0 L293.7,1363.0 L295.2,1363.0 L296.7,1363.0 L298.2,1363.0 L299.7,1363.0 L301.2,1362.9 L302.7,1362.9 L304.2,1362.9 L305.7,1362.9 L307.2,1362.9 L308.7,1362.9 L310.2,1362.9 L311.7,1362.9 L313.2,1362.9 L314.7,1362.9 L316.2,1362.8 L317.7,1362.8 L319.2,1362.8 L320.7,1362.8 L322.2,1362.8 L323.7,1362.8 L325.2,1362.8 L326.7,1362.8 L328.2,1362.7 L329.7,1362.7 L331.2,1362.7 L332.7,1362.7 L334.2,1362.7 L335.7,1362.7 L337.2,1362.6 L338.7,1362.6 L340.2,1362.6 L341.7,1362.6 L343.2,1362.6 L344.7,1362.6 L346.2,1362.5 L347.7,1362.5 L349.2,1362.5 L350.7,1362.5 L352.2,1362.4 L353.7,1362.4 L355.2,1362.4 L356.7,1362.4 L358.2,1362.4 L359.7,1362.3 L361.2,1362.3 L362.7,1362.3 L364.2,1362.2 L365.7,1362.2 L367.2,1362.2 L368.7,1362.2 L370.2,1362.1 L371.7,1362.1 L373.2,1362.1 L374.7,1362.0 L376.2,1362.0 L377.7,1362.0 L379.2,1361.9 L380.7,1361.9 L382.2,1361.9 L383.7,1361.8 L385.2,1361.8 L386.7,1361.8 L388.2,1361.7 L389.7,1361.7 L391.2,1361.6 L392.7,1361.6 L394.2,1361.6 L395.7,1361.5 L397.2,1361.5 L398.7,1361.4 L400.2,1361.4 L401.7,1361.3 L403.2,1361.3 L404.7,1361.2 L406.2,1361.2 L407.7,1361.1 L409.2,1361.1 L410.7,1361.0 L412.2,1361.0 L413.7,1360.9 L415.2,1360.9 L416.7,1360.8 L418.2,1360.8 L419.7,1360.7 L421.2,1360.7 L422.7,1360.6 L424.2,1360.5 L425.7,1360.5 L427.2,1360.4 L428.7,1360.4 L430.2,1360.3 L431.7,1360.2 L433.2,1360.2 L434.7,1360.1 L436.2,1360.0 L437.7,1360.0 L439.2,1359.9 L440.7,1359.8 L442.2,1359.7 L443.7,1359.7 L445.2,1359.6 L446.7,1359.5 L448.2,1359.4 L449.7,1359.4 L451.2,1359.3 L452.7,1359.2 L454.2,1359.1 L455.7,1359.1 L457.2,1359.0 L458.7,1358.9 L460.2,1358.8 L461.7,1358.7 L463.2,1358.6 L464.7,1358.5 L466.2,1358.4 L467.7,1358.4 L469.2,1358.3 L470.7,1358.2 L472.2,1358.1 L473.7,1358.0 L475.2,1357.9 L476.7,1357.8 L478.2,1357.7 L479.7,1357.6 L481.2,1357.5 L482.7,1357.4 L484.2,1357.3 L485.7,1357.2 L487.2,1357.1 L488.7,1357.0 L490.2,1356.8 L491.7,1356.7 L493.2,1356.6 L494.7,1356.5 L496.2,1356.4 L497.7,1356.3 L499.2,1356.1 L500.7,1356.0 L502.2,1355.9 L503.7,1355.8 L505.2,1355.6 L506.7,1355.5 L508.2,1355.4 L509.7,1355.2 L511.2,1355.1 L512.7,1355.0 L514.2,1354.8 L515.7,1354.7 L517.2,1354.5 L518.7,1354.4 L520.2,1354.3 L521.7,1354.1 L523.2,1353.9 L524.7,1353.8 L526.2,1353.6 L527.7,1353.5 L529.2,1353.3 L530.7,1353.1 L532.2,1353.0 L533.7,1352.8 L535.2,1352.6 L536.7,1352.4 L538.2,1352.3 L539.7,1352.1 L541.2,1351.9 L542.7,1351.7 L544.2,1351.5 L545.7,1351.3 L547.2,1351.1 L548.7,1350.9 L550.2,1350.7 L551.7,1350.5 L553.2,1350.3 L554.7,1350.1 L556.2,1349.9 L557.7,1349.6 L559.2,1349.4 L560.7,1349.2 L562.2,1348.9 L563.7,1348.7 L565.2,1348.5 L566.7,1348.2 L568.2,1348.0 L569.7,1347.7 L571.2,1347.5 L572.7,1347.2 L574.2,1347.0 L575.7,1346.7 L577.2,1346.4 L578.7,1346.2 L580.2,1345.9 L581.7,1345.6 L583.2,1345.3 L584.7,1345.0 L586.2,1344.7 L587.7,1344.4 L589.2,1344.1 L590.7,1343.8 L592.2,1343.5 L593.7,1343.2 L595.2,1342.9 L596.7,1342.5 L598.2,1342.2 L599.7,1341.9 L601.2,1341.5 L602.7,1341.2 L604.2,1340.9 L605.7,1340.5 L607.2,1340.1 L608.7,1339.8 L610.2,1339.4 L611.7,1339.0 L613.2,1338.7 L614.7,1338.3 L616.2,1337.9 L617.7,1337.5 L619.2,1337.1 L620.7,1336.7 L622.2,1336.3 L623.7,1335.8 L625.2,1335.4 L626.7,1335.0 L628.2,1334.5 L629.7,1334.1 L631.2,1333.6 L632.7,1333.1 L634.2,1332.7 L635.7,1332.2 L637.2,1331.7 L638.7,1331.2 L640.2,1330.7 L641.7,1330.1 L643.2,1329.6 L644.7,1329.1 L646.2,1328.5 L647.7,1328.0 L649.2,1327.4 L650.7,1326.8 L652.2,1326.3 L653.7,1325.7 L655.2,1325.1 L656.7,1324.5 L658.2,1323.8 L659.7,1323.2 L661.2,1322.6 L662.7,1321.9 L664.2,1321.2 L665.7,1320.6 L667.2,1319.9 L668.7,1319.2 L670.2,1318.5 L671.7,1317.7 L673.2,1317.0 L674.7,1316.3 L676.2,1315.5 L677.7,1314.7 L679.2,1313.9 L680.7,1313.2 L682.2,1312.3 L683.7,1311.5 L685.2,1310.7 L686.7,1309.8 L688.2,1309.0 L689.7,1308.1 L691.2,1307.2 L692.7,1306.3 L694.2,1305.4 L695.7,1304.5 L697.2,1303.5 L698.7,1302.6 L700.2,1301.6 L701.7,1300.6 L703.2,1299.6 L704.7,1298.6 L706.2,1297.6 L707.7,1296.5 L709.2,1295.5 L710.7,1294.4 L712.2,1293.3 L713.7,1292.2 L715.2,1291.1 L716.7,1289.9 L718.2,1288.8 L719.7,1287.6 L721.2,1286.4 L722.7,1285.2 L724.2,1284.0 L725.7,1282.7 L727.2,1281.5 L728.7,1280.2 L730.2,1278.9 L731.7,1277.6 L733.2,1276.3 L734.7,1274.9 L736.2,1273.6 L737.7,1272.2 L739.2,1270.8 L740.7,1269.4 L742.2,1267.9 L743.7,1266.5 L745.2,1265.0 L746.7,1263.5 L748.2,1262.0 L749.7,1260.5 L751.2,1258.9 L752.7,1257.4 L754.2,1255.8 L755.7,1254.2 L757.2,1252.6 L758.7,1251.0 L760.2,1249.4 L761.7,1247.8 L763.2,1246.1 L764.7,1244.4 L766.2,1242.7 L767.7,1241.1 L769.2,1239.3 L770.7,1237.6 L772.2,1235.9 L773.7,1234.2 L775.2,1232.4 L776.7,1230.7 L778.2,1228.9 L779.7,1227.1 L781.2,1225.3 L782.7,1223.5 L784.2,1221.7 L785.7,1219.9 L787.2,1218.1 L788.7,1216.2 L790.2,1214.4 L791.7,1212.6 L793.2,1210.7 L794.7,1208.9 L796.2,1207.0 L797.7,1205.1 L799.2,1203.3 L800.7,1201.4 L802.2,1199.5 L803.7,1197.6 L805.2,1195.7 L806.7,1193.8 L808.2,1191.9 L809.7,1190.0 L811.2,1188.1 L812.7,1186.2 L814.2,1184.3 L815.7,1182.4 L817.2,1180.5 L818.7,1178.6 L820.2,1176.7 L821.7,1174.8 L823.2,1172.9 L824.7,1171.0 L826.2,1169.1 L827.7,1167.2 L829.2,1165.3 L830.7,1163.4 L832.2,1161.5 L833.7,1159.6 L835.2,1157.7 L836.7,1155.9 L838.2,1154.0 L839.7,1152.1 L841.2,1150.2 L842.7,1148.4 L844.2,1146.5 L845.7,1144.7 L847.2,1142.8 L848.7,1141.0 L850.2,1139.1 L851.7,1137.3 L853.2,1135.5 L854.7,1133.7 L856.2,1131.9 L857.7,1130.1 L859.2,1128.3 L860.7,1126.5 L862.2,1124.8 L863.7,1123.0 L865.2,1121.3 L866.7,1119.5 L868.2,1117.8 L869.7,1116.1 L871.2,1114.4 L872.7,1112.7 L874.2,1111.0 L875.7,1109.4 L877.2,1107.7 L878.7,1106.1 L880.2,1104.5 L881.7,1102.8 L883.2,1101.3 L884.7,1099.7 L886.2,1098.1 L887.7,1096.6 L889.2,1095.0 L890.7,1093.5 L892.2,1092.0 L893.7,1090.5 L895.2,1089.0 L896.7,1087.5 L898.2,1086.1 L899.7,1084.7 L901.2,1083.2 L902.7,1081.8 L904.2,1080.4 L905.7,1079.1 L907.2,1077.7 L908.7,1076.4 L910.2,1075.0 L911.7,1073.7 L913.2,1072.4 L914.7,1071.1 L916.2,1069.8 L917.7,1068.6 L919.2,1067.3 L920.7,1066.1 L922.2,1064.9 L923.7,1063.7 L925.2,1062.5 L926.7,1061.3 L928.2,1060.2 L929.7,1059.0 L931.2,1057.9 L932.7,1056.8 L934.2,1055.7 L935.7,1054.6 L937.2,1053.6 L938.7,1052.5 L940.2,1051.5 L941.7,1050.5 L943.2,1049.5 L944.7,1048.5 L946.2,1047.5 L947.7,1046.6 L949.2,1045.6 L950.7,1044.7 L952.2,1043.8 L953.7,1042.9 L955.2,1042.0 L956.7,1041.2 L958.2,1040.3 L959.7,1039.5 L961.2,1038.7 L962.7,1037.9 L964.2,1037.1 L965.7,1036.4 L967.2,1035.6 L968.7,1034.9 L970.2,1034.2 L971.7,1033.5 L973.2,1032.8 L974.7,1032.1 L976.2,1031.4 L977.7,1030.8 L979.2,1030.2 L980.7,1029.6 L982.2,1029.0 L983.7,1028.4 L985.2,1027.9 L986.7,1027.3 L988.2,1026.8 L989.7,1026.3 L991.2,1025.8 L992.7,1025.3" fill="none" stroke="#e50012" stroke-width="5.7" stroke-linejoin="round"/>
<path d="M302.4,1022.3 L314.4,1037.3 H326.4 M520,1031 L532,1044.8 H543.5 M662.8,1054.3 L671.8,1066.3 H683.8 M771,1091.8 L779.2,1100.8 H791.5 M832.9,1165.0 L840.4,1172.2 H853.7" fill="none" stroke="#0d0b09" stroke-width="3"/>
<path d="M151.85,999.3v14.1 M151.85,1424.0v-13.2 M158.66,999.3v14.1 M158.66,1424.0v-13.2 M163.50,999.3v14.1 M163.50,1424.0v-13.2 M167.25,999.3v14.1 M167.25,1424.0v-13.2 M170.31,999.3v14.1 M170.31,1424.0v-13.2 M172.90,999.3v14.1 M172.90,1424.0v-13.2 M175.15,999.3v14.1 M175.15,1424.0v-13.2 M177.12,999.3v14.1 M177.12,1424.0v-13.2 M178.90,999.3v25.9 M178.90,1424.0v-25.0 M190.54,999.3v14.1 M190.54,1424.0v-13.2 M197.36,999.3v14.1 M197.36,1424.0v-13.2 M202.19,999.3v14.1 M202.19,1424.0v-13.2 M205.94,999.3v14.1 M205.94,1424.0v-13.2 M209.01,999.3v14.1 M209.01,1424.0v-13.2 M211.60,999.3v14.1 M211.60,1424.0v-13.2 M213.84,999.3v14.1 M213.84,1424.0v-13.2 M215.82,999.3v14.1 M215.82,1424.0v-13.2 M217.59,999.3v25.9 M217.59,1424.0v-25.0 M229.24,999.3v14.1 M229.24,1424.0v-13.2 M236.05,999.3v14.1 M236.05,1424.0v-13.2 M240.89,999.3v14.1 M240.89,1424.0v-13.2 M244.64,999.3v14.1 M244.64,1424.0v-13.2 M247.70,999.3v14.1 M247.70,1424.0v-13.2 M250.29,999.3v14.1 M250.29,1424.0v-13.2 M252.54,999.3v14.1 M252.54,1424.0v-13.2 M254.52,999.3v14.1 M254.52,1424.0v-13.2 M256.29,999.3v25.9 M256.29,1424.0v-25.0 M267.93,999.3v14.1 M267.93,1424.0v-13.2 M274.75,999.3v14.1 M274.75,1424.0v-13.2 M279.58,999.3v14.1 M279.58,1424.0v-13.2 M283.33,999.3v14.1 M283.33,1424.0v-13.2 M286.40,999.3v14.1 M286.40,1424.0v-13.2 M288.99,999.3v14.1 M288.99,1424.0v-13.2 M291.23,999.3v14.1 M291.23,1424.0v-13.2 M293.21,999.3v14.1 M293.21,1424.0v-13.2 M294.98,999.3v25.9 M294.98,1424.0v-25.0 M306.63,999.3v14.1 M306.63,1424.0v-13.2 M313.44,999.3v14.1 M313.44,1424.0v-13.2 M318.28,999.3v14.1 M318.28,1424.0v-13.2 M322.03,999.3v14.1 M322.03,1424.0v-13.2 M325.09,999.3v14.1 M325.09,1424.0v-13.2 M327.68,999.3v14.1 M327.68,1424.0v-13.2 M329.93,999.3v14.1 M329.93,1424.0v-13.2 M331.91,999.3v14.1 M331.91,1424.0v-13.2 M333.68,999.3v25.9 M333.68,1424.0v-25.0 M345.33,999.3v14.1 M345.33,1424.0v-13.2 M352.14,999.3v14.1 M352.14,1424.0v-13.2 M356.97,999.3v14.1 M356.97,1424.0v-13.2 M360.72,999.3v14.1 M360.72,1424.0v-13.2 M363.79,999.3v14.1 M363.79,1424.0v-13.2 M366.38,999.3v14.1 M366.38,1424.0v-13.2 M368.62,999.3v14.1 M368.62,1424.0v-13.2 M370.60,999.3v14.1 M370.60,1424.0v-13.2 M372.37,999.3v25.9 M372.37,1424.0v-25.0 M384.02,999.3v14.1 M384.02,1424.0v-13.2 M390.84,999.3v14.1 M390.84,1424.0v-13.2 M395.67,999.3v14.1 M395.67,1424.0v-13.2 M399.42,999.3v14.1 M399.42,1424.0v-13.2 M402.48,999.3v14.1 M402.48,1424.0v-13.2 M405.07,999.3v14.1 M405.07,1424.0v-13.2 M407.32,999.3v14.1 M407.32,1424.0v-13.2 M409.30,999.3v14.1 M409.30,1424.0v-13.2 M411.07,999.3v25.9 M411.07,1424.0v-25.0 M422.72,999.3v14.1 M422.72,1424.0v-13.2 M429.53,999.3v14.1 M429.53,1424.0v-13.2 M434.37,999.3v14.1 M434.37,1424.0v-13.2 M438.12,999.3v14.1 M438.12,1424.0v-13.2 M441.18,999.3v14.1 M441.18,1424.0v-13.2 M443.77,999.3v14.1 M443.77,1424.0v-13.2 M446.01,999.3v14.1 M446.01,1424.0v-13.2 M447.99,999.3v14.1 M447.99,1424.0v-13.2 M449.76,999.3v25.9 M449.76,1424.0v-25.0 M461.41,999.3v14.1 M461.41,1424.0v-13.2 M468.23,999.3v14.1 M468.23,1424.0v-13.2 M473.06,999.3v14.1 M473.06,1424.0v-13.2 M476.81,999.3v14.1 M476.81,1424.0v-13.2 M479.87,999.3v14.1 M479.87,1424.0v-13.2 M482.47,999.3v14.1 M482.47,1424.0v-13.2 M484.71,999.3v14.1 M484.71,1424.0v-13.2 M486.69,999.3v14.1 M486.69,1424.0v-13.2 M488.46,999.3v25.9 M488.46,1424.0v-25.0 M500.11,999.3v14.1 M500.11,1424.0v-13.2 M506.92,999.3v14.1 M506.92,1424.0v-13.2 M511.76,999.3v14.1 M511.76,1424.0v-13.2 M515.51,999.3v14.1 M515.51,1424.0v-13.2 M518.57,999.3v14.1 M518.57,1424.0v-13.2 M521.16,999.3v14.1 M521.16,1424.0v-13.2 M523.40,999.3v14.1 M523.40,1424.0v-13.2 M525.38,999.3v14.1 M525.38,1424.0v-13.2 M527.15,999.3v25.9 M527.15,1424.0v-25.0 M538.80,999.3v14.1 M538.80,1424.0v-13.2 M545.62,999.3v14.1 M545.62,1424.0v-13.2 M550.45,999.3v14.1 M550.45,1424.0v-13.2 M554.20,999.3v14.1 M554.20,1424.0v-13.2 M557.27,999.3v14.1 M557.27,1424.0v-13.2 M559.86,999.3v14.1 M559.86,1424.0v-13.2 M562.10,999.3v14.1 M562.10,1424.0v-13.2 M564.08,999.3v14.1 M564.08,1424.0v-13.2 M565.85,999.3v25.9 M565.85,1424.0v-25.0 M577.50,999.3v14.1 M577.50,1424.0v-13.2 M584.31,999.3v14.1 M584.31,1424.0v-13.2 M589.15,999.3v14.1 M589.15,1424.0v-13.2 M592.90,999.3v14.1 M592.90,1424.0v-13.2 M595.96,999.3v14.1 M595.96,1424.0v-13.2 M598.55,999.3v14.1 M598.55,1424.0v-13.2 M600.80,999.3v14.1 M600.80,1424.0v-13.2 M602.77,999.3v14.1 M602.77,1424.0v-13.2 M604.55,999.3v25.9 M604.55,1424.0v-25.0 M616.19,999.3v14.1 M616.19,1424.0v-13.2 M623.01,999.3v14.1 M623.01,1424.0v-13.2 M627.84,999.3v14.1 M627.84,1424.0v-13.2 M631.59,999.3v14.1 M631.59,1424.0v-13.2 M634.66,999.3v14.1 M634.66,1424.0v-13.2 M637.25,999.3v14.1 M637.25,1424.0v-13.2 M639.49,999.3v14.1 M639.49,1424.0v-13.2 M641.47,999.3v14.1 M641.47,1424.0v-13.2 M643.24,999.3v25.9 M643.24,1424.0v-25.0 M654.89,999.3v14.1 M654.89,1424.0v-13.2 M661.70,999.3v14.1 M661.70,1424.0v-13.2 M666.54,999.3v14.1 M666.54,1424.0v-13.2 M670.29,999.3v14.1 M670.29,1424.0v-13.2 M673.35,999.3v14.1 M673.35,1424.0v-13.2 M675.94,999.3v14.1 M675.94,1424.0v-13.2 M678.19,999.3v14.1 M678.19,1424.0v-13.2 M680.17,999.3v14.1 M680.17,1424.0v-13.2 M681.94,999.3v25.9 M681.94,1424.0v-25.0 M693.58,999.3v14.1 M693.58,1424.0v-13.2 M700.40,999.3v14.1 M700.40,1424.0v-13.2 M705.23,999.3v14.1 M705.23,1424.0v-13.2 M708.98,999.3v14.1 M708.98,1424.0v-13.2 M712.05,999.3v14.1 M712.05,1424.0v-13.2 M714.64,999.3v14.1 M714.64,1424.0v-13.2 M716.88,999.3v14.1 M716.88,1424.0v-13.2 M718.86,999.3v14.1 M718.86,1424.0v-13.2 M720.63,999.3v25.9 M720.63,1424.0v-25.0 M732.28,999.3v14.1 M732.28,1424.0v-13.2 M739.09,999.3v14.1 M739.09,1424.0v-13.2 M743.93,999.3v14.1 M743.93,1424.0v-13.2 M747.68,999.3v14.1 M747.68,1424.0v-13.2 M750.74,999.3v14.1 M750.74,1424.0v-13.2 M753.33,999.3v14.1 M753.33,1424.0v-13.2 M755.58,999.3v14.1 M755.58,1424.0v-13.2 M757.56,999.3v14.1 M757.56,1424.0v-13.2 M759.33,999.3v25.9 M759.33,1424.0v-25.0 M770.98,999.3v14.1 M770.98,1424.0v-13.2 M777.79,999.3v14.1 M777.79,1424.0v-13.2 M782.62,999.3v14.1 M782.62,1424.0v-13.2 M786.37,999.3v14.1 M786.37,1424.0v-13.2 M789.44,999.3v14.1 M789.44,1424.0v-13.2 M792.03,999.3v14.1 M792.03,1424.0v-13.2 M794.27,999.3v14.1 M794.27,1424.0v-13.2 M796.25,999.3v14.1 M796.25,1424.0v-13.2 M798.02,999.3v25.9 M798.02,1424.0v-25.0 M809.67,999.3v14.1 M809.67,1424.0v-13.2 M816.49,999.3v14.1 M816.49,1424.0v-13.2 M821.32,999.3v14.1 M821.32,1424.0v-13.2 M825.07,999.3v14.1 M825.07,1424.0v-13.2 M828.13,999.3v14.1 M828.13,1424.0v-13.2 M830.72,999.3v14.1 M830.72,1424.0v-13.2 M832.97,999.3v14.1 M832.97,1424.0v-13.2 M834.95,999.3v14.1 M834.95,1424.0v-13.2 M836.72,999.3v25.9 M836.72,1424.0v-25.0 M848.37,999.3v14.1 M848.37,1424.0v-13.2 M855.18,999.3v14.1 M855.18,1424.0v-13.2 M860.02,999.3v14.1 M860.02,1424.0v-13.2 M863.77,999.3v14.1 M863.77,1424.0v-13.2 M866.83,999.3v14.1 M866.83,1424.0v-13.2 M869.42,999.3v14.1 M869.42,1424.0v-13.2 M871.66,999.3v14.1 M871.66,1424.0v-13.2 M873.64,999.3v14.1 M873.64,1424.0v-13.2 M875.41,999.3v25.9 M875.41,1424.0v-25.0 M887.06,999.3v14.1 M887.06,1424.0v-13.2 M893.88,999.3v14.1 M893.88,1424.0v-13.2 M898.71,999.3v14.1 M898.71,1424.0v-13.2 M902.46,999.3v14.1 M902.46,1424.0v-13.2 M905.52,999.3v14.1 M905.52,1424.0v-13.2 M908.12,999.3v14.1 M908.12,1424.0v-13.2 M910.36,999.3v14.1 M910.36,1424.0v-13.2 M912.34,999.3v14.1 M912.34,1424.0v-13.2 M914.11,999.3v25.9 M914.11,1424.0v-25.0 M925.76,999.3v14.1 M925.76,1424.0v-13.2 M932.57,999.3v14.1 M932.57,1424.0v-13.2 M937.41,999.3v14.1 M937.41,1424.0v-13.2 M941.16,999.3v14.1 M941.16,1424.0v-13.2 M944.22,999.3v14.1 M944.22,1424.0v-13.2 M946.81,999.3v14.1 M946.81,1424.0v-13.2 M949.05,999.3v14.1 M949.05,1424.0v-13.2 M951.03,999.3v14.1 M951.03,1424.0v-13.2 M952.80,999.3v25.9 M952.80,1424.0v-25.0 M964.45,999.3v14.1 M964.45,1424.0v-13.2 M971.27,999.3v14.1 M971.27,1424.0v-13.2 M976.10,999.3v14.1 M976.10,1424.0v-13.2 M979.85,999.3v14.1 M979.85,1424.0v-13.2 M982.92,999.3v14.1 M982.92,1424.0v-13.2 M985.51,999.3v14.1 M985.51,1424.0v-13.2 M987.75,999.3v14.1 M987.75,1424.0v-13.2 M989.73,999.3v14.1 M989.73,1424.0v-13.2 M140.2,1020.53h13.799999999999999 M991.5,1020.53h-13.799999999999999 M140.2,1041.77h13.799999999999999 M991.5,1041.77h-13.799999999999999 M140.2,1063.00h13.799999999999999 M991.5,1063.00h-13.799999999999999 M140.2,1084.24h25.6 M991.5,1084.24h-25.6 M140.2,1105.47h13.799999999999999 M991.5,1105.47h-13.799999999999999 M140.2,1126.71h13.799999999999999 M991.5,1126.71h-13.799999999999999 M140.2,1147.94h13.799999999999999 M991.5,1147.94h-13.799999999999999 M140.2,1169.18h25.6 M991.5,1169.18h-25.6 M140.2,1190.41h13.799999999999999 M991.5,1190.41h-13.799999999999999 M140.2,1211.65h13.799999999999999 M991.5,1211.65h-13.799999999999999 M140.2,1232.88h13.799999999999999 M991.5,1232.88h-13.799999999999999 M140.2,1254.12h25.6 M991.5,1254.12h-25.6 M140.2,1275.36h13.799999999999999 M991.5,1275.36h-13.799999999999999 M140.2,1296.59h13.799999999999999 M991.5,1296.59h-13.799999999999999 M140.2,1317.83h13.799999999999999 M991.5,1317.83h-13.799999999999999 M140.2,1339.06h25.6 M991.5,1339.06h-25.6 M140.2,1360.30h13.799999999999999 M991.5,1360.30h-13.799999999999999 M140.2,1381.53h13.799999999999999 M991.5,1381.53h-13.799999999999999 M140.2,1402.76h13.799999999999999 M991.5,1402.76h-13.799999999999999" fill="none" stroke="#0d0b09" stroke-width="3.9"/>
<rect x="140.2" y="999.3" width="851.3" height="424.70000000000005" fill="none" stroke="#0d0b09" stroke-width="3.9"/>
<text x="329" y="1053.4" font-size="47" text-anchor="start"  style="">500</text>
<text x="546" y="1061.0" font-size="47" text-anchor="start"  style="">600</text>
<text x="685.5" y="1081.2" font-size="47" text-anchor="start"  style="">700</text>
<text x="795.5" y="1117.5" font-size="47" text-anchor="start"  style="">800</text>
<text x="856" y="1187.3" font-size="47" text-anchor="start"  style="">900 ºC</text>
<text x="181" y="1150" font-size="48" text-anchor="start"  style="">c)</text>
<text x="129.5" y="1011.0999999999999" font-size="46.5" text-anchor="end"  style="">1.0</text>
<text x="129.5" y="1096.04" font-size="46.5" text-anchor="end"  style="">0.8</text>
<text x="129.5" y="1180.98" font-size="46.5" text-anchor="end"  style="">0.6</text>
<text x="129.5" y="1265.9199999999998" font-size="46.5" text-anchor="end"  style="">0.4</text>
<text x="129.5" y="1350.86" font-size="46.5" text-anchor="end"  style="">0.2</text>
<text x="129.5" y="1435.8" font-size="46.5" text-anchor="end"  style="">0.0</text>
<text transform="translate(54.6,1416.3) rotate(-90)" font-size="47.4">Transference number</text>
<text x="113.2" y="1477.2" font-size="46.5">10<tspan font-size="33.5" dy="-23" dx="-0.5">-30</tspan></text>
<text x="268.0" y="1477.2" font-size="46.5">10<tspan font-size="33.5" dy="-23" dx="-0.5">-26</tspan></text>
<text x="422.8" y="1477.2" font-size="46.5">10<tspan font-size="33.5" dy="-23" dx="-0.5">-22</tspan></text>
<text x="577.5" y="1477.2" font-size="46.5">10<tspan font-size="33.5" dy="-23" dx="-0.5">-18</tspan></text>
<text x="732.3" y="1477.2" font-size="46.5">10<tspan font-size="33.5" dy="-23" dx="-0.5">-14</tspan></text>
<text x="887.1" y="1477.2" font-size="46.5">10<tspan font-size="33.5" dy="-23" dx="-0.5">-10</tspan></text>
<text x="253.5" y="1521.5" font-size="47" text-anchor="start"  style="">Oxygen partial pressure (atm)</text>
<text x="864" y="1274.6" font-size="46">V<tspan font-size="37.5" dy="9" dx="-1">O</tspan></text>
<text x="899.0" y="1261.1" font-size="53.6" letter-spacing="-2.8">••</text>
<text x="873" y="1321.4" font-size="46">Ce<tspan font-size="32.5" dy="8" dx="1">Ce</tspan></text>
<text x="928.7" y="1333.2" font-size="78.7">′</text>
</svg></body></html>
